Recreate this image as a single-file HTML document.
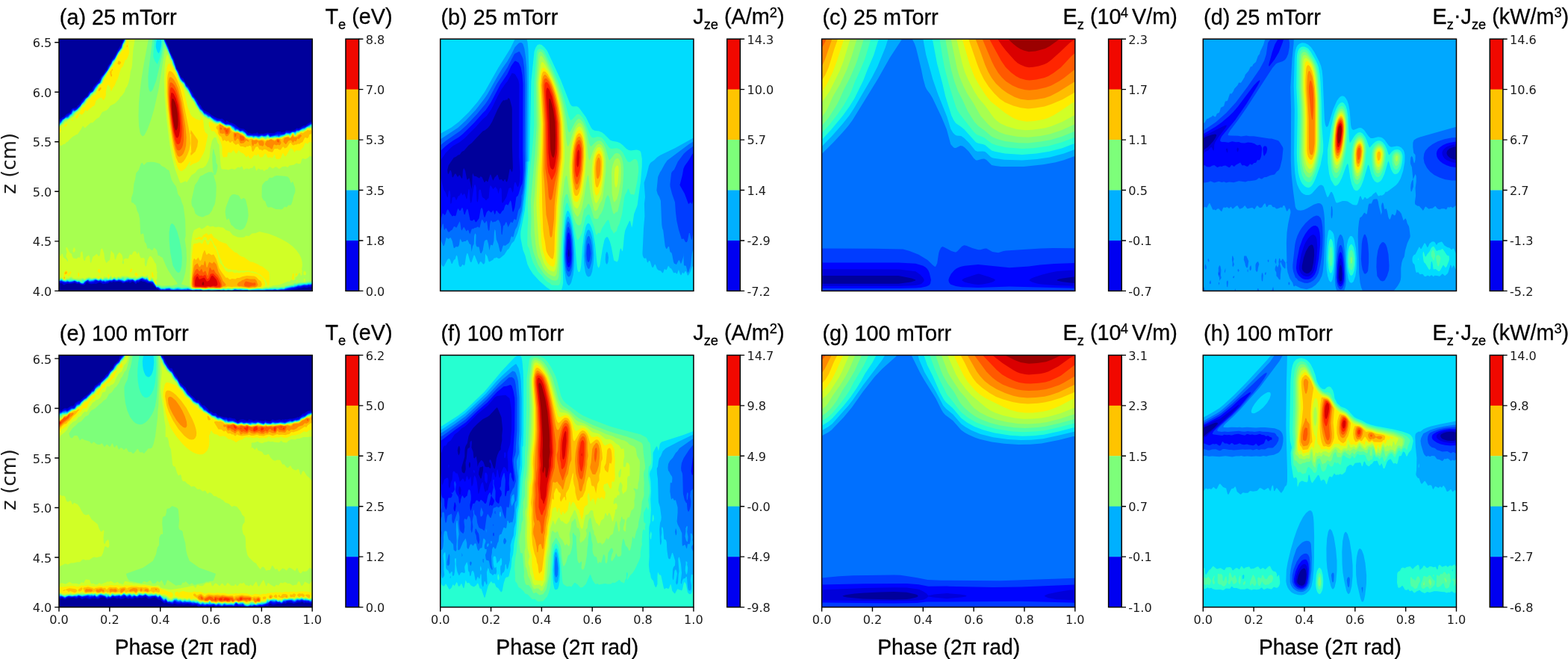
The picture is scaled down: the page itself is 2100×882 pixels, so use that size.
<!DOCTYPE html>
<html lang="en"><head><meta charset="utf-8"><title>Figure: spatio-temporal plots at 25 and 100 mTorr</title>
<style>
html,body{margin:0;padding:0;background:#fff}
body{width:2100px;height:882px;overflow:hidden}
svg{display:block}
.ar{font-family:"Liberation Sans",Arial,Helvetica,sans-serif;fill:#000}
.dv{font-family:"DejaVu Sans","Liberation Sans",sans-serif;fill:#1a1a1a}
</style></head><body>
<svg width="2100" height="882" viewBox="0 0 2100 882">
<rect width="2100" height="882" fill="#fff"/>
<defs><clipPath id="cp"><rect x="0" y="0" width="339.2" height="337.2"/></clipPath></defs>
<g transform="translate(79.0,52.2)">
<g clip-path="url(#cp)" shape-rendering="geometricPrecision"><rect x="-1" y="-1" width="341" height="339" fill="#00009b"/><path fill="#0000da" d="M86.4 -3l7.4-.5 45.9 .1 2.4 .4 0 3 5.1 11 1.4 5.8 5.8 11.1 3.2 11.2 2.8 3.8 2.2 6.4 1 1.7 2.8 1.9 4.2 7.3 3.5 3.6 1.5 3.2 3.8 5.8 1.2 3.3 5.3 6.7 1.2 3 2.8 3 1.9 4 2.7 2.8 6 2.9 4 3.4 4 2.3 4 1.9 3 .6 3-.2 2.7 2.2 1.3 2.3 1-.2 0-1.1 1-.9 4 3 3 .4 4.9 2.7 3.4 2.8 3.6 2.2 4 .4 4 2.9 2 2.3 2 0 2 1 2 .1 2-.5 2 .1 2-1.3 2 2 1 .2 3-.6 2 .2 5.9-1.5 3 .7 6 .2 4-2.4 4 0 2 1.3 2-.6 1 .2 1-.3 2-2.1 3 .4 6-.4 3-1 1.9-1.8 3 .5 6-3.8 3-.4 3-2.5 4-2.2 5-.1 .6 13.8-.1 196.5-.5 9.9-3 0-2 .9-3 .1-2 .9-4-.7-3 1-4 .4-3 1-6.9 1-5.7 1.5 0 3-168.9 0-2 0 0-3-2-2.4-2-.7-2-2.5-2-1.6-1.1-1.8-3.9-1.6-3 .1-4-1.8-3-.3-2-1.2-3 2.6-1.9-.4-.8 1.6-1.2 .5-3-2.6-1-.4-1 .1-2 1.5-1-.1-1-1-1 0-1 .6-2-.2-4 1.5-3-2-3-.3-5 .5-2-.4-2 .9-2-.7-1 .3-2 1.7-6.9 .9-4-2.3-2.4 .5-2.6 1.6-2-.2-5 .5-3-1.1-2-1.7-1.6 .9-1.4 2.5-2 .8-4-.6-2-1.7-2 .6-1-.1-2.9-1.5-2 .8-4 .6-3-.1-3 .5-2 1.3-1-.2-1.9-1.9-1.1-.4-6-.2-.5-9.4 0-195.5 .5-14.6 5-.1 2-1.9 3-1.3 3-3.3 5-2.4 1.1-3.3 1.9-2.1 5.5-.9 1.4-2.7 2.2-1.3 2.8-4.8 4-4.2 4-3 2.3-5 1.7-1.5 2-.7 2-4.8 3-2.7 2-2.7 2.1-1.5 3.5-7 2.4-2 3-5.2 1.9-1.9 1.8-4.9 3.2-3.5 1.2-3.5 5.8-8.1 2.2-4.8 6.8-11.7 1.6-4.3z"/><path fill="#0004ff" d="M87.4 -3l6.4-.5 47.5 .5 .4 4.4 5.4 11.6 1.5 5.5 4.8 9.4 4.2 13 1.6 2 3.4 8.3 5.9 6.7 2.1 4.3 2.8 2.6 6.2 11.8 4.7 6.2 2.3 4.9 2 1.5 1.3 3.6 2.6 2.3 2 2.7 6 2.7 4 3.6 2 .7 6 3.2 5 .3 5 4.8 1 .3 3-.6 2 1.1 3 .2 1.9 1.6 2 .7 2 2 3 1.4 2 2.1 1 .3 2-.7 2 .6 5 5 1 .4 4 .5 6 0 2-.4 1.9 1.1 1.1 .1 3-.9 3 .5 2.9-.6 2-1.3 2 .7 2 1.6 5-.9 4-2.2 3-.1 2 1.1 4-.2 3-2.4 4 .3 8-1.5 1.9-1.9 3 .3 5-3 4.6-1.6 7.4-4.7 4 0 .5 12.7-.1 195.5-.4 9.4-3 0-3 .9-2-.2-2 .8-5-.2-4 1.2-3 0-4.9 1.6-9 1.5-5 1.5-4.9 .5 0 3-5.7 0 0-3-1.4-.3-1.4 .3 0 3-50.5 0 0-3-2-.3-1.1 .3 0 3-43.5 0-.2-3-1.2 0 0 3-4.7 0 0-3-1.1-.3-1 .3 0 3-5 0-.6 0 0-3-1.4-.4-4.8 .4 0 3-.5 0 0-3-1.7-.4-2.5 .4 0 3-15.5 0-.1-3-1.9-.8-3.9-.4-3 .9-3-.6-2 .5-2-1.2-2-2.1-2-.3-5-6.4-4-1.3-3-.3-3-1.5-3-.8-2-1.2-1.8 .5-2.2 1.9-1.9-.4-.9 .5-1.1 2.1-4-3.1-1.2 0-1.8 1.2-2-.8-2 .9-2 .1-2 .9-2 .3-3-1.8-3-.3-4 .5-3-1-2 1-3 0-2 1.1-3.9 1-2-1.2-2 .7-2.7-1.6-2.3 .6-2-.8-1.6 .2-2.4 1.6-4 .4-2-.3-2-1.6-1-.3-2.1 1.2-1.9 2.6-2 .7-3-.7-2-1.8-3 .3-2.9-1.6-3 1.2-4 .6-2-.6-5 .8-3-1.5-7-.1-.5-7.9 0-195.5 .5-13.4 4 .1 1 .6 2-2 3-1.5 3-3.3 6-3.2 2-4.8 1-.5 2.9 .3 2-.9 4.8-5.3 1.7-3 4.1-5 3.8-3 2.8-5 3.8-2.3 2.1-4.7 4.3-4.9 2.6-2.1 3.1-6.9 3.7-4 1.7-3 2.4-2.8 1.5-4.2 3.5-4.7 1.2-3.3 2.8-3.2 5.4-9.7 3.7-5 4.5-11z"/><path fill="#003cff" d="M87.9 -3l5.9-.4 47.1 .4 0 3 .8 2.4 4.5 9.6 2.3 7 4.8 9.9 3.5 11 2.4 4 3.4 8.2 3 3.8 2.3 2 2.7 5.3 2.1 1.6 4.9 9 1 2.6 2.4 2.4 3.1 5 1.5 3.5 2.8 3.5 1.2 2.6 2.8 2.4 2.1 3.1 2 .6 6 3.4 2 2.1 7.2 3.7 4.8 .5 6 4.6 4 0 4 1 3.9 2.2 2 2.2 4 1.6 2 2 4-.4 3 2.3 3 3.5 5 .6 8 .2 3 .6 3-1 3 .7 2.8-.6 2.1-1.5 1 .2 2 2.2 1 .3 5.2-1.2 3.8-1.5 2 1.2 1-.9 5 0 2-.7 2-1.8 5 .2 3-1.2 4-.3 1.9-1.8 3 .1 5-2.9 4-1.4 8-4.9 4 0 .5 11.9-.1 195.5-.4 8.6-3 0-3 .9-2-.3-2 .7-5-.1-4 1.3-3-.1-2.9 1.2-10.6 1.8-5.4 1.7-4 .2-4 .9-4-.9-4 .9-8-.2-1.6 .4 0 3-1.2 0 0-3-2.1-.2-5.8 .2 0 3-13.7 0 0-3-1.5-.4-3.2 .4 0 3-2.2 0 0-3-10.6-1.1-2.4 1.1 0 3-4 0 0-3-1.5-.2-1.4 .2 0 3-9.7 0 0-3-1.9-.4-2.9 .4 0 3-10.3 0 0-3-.8-.1-1.3 .1 0 3-6.7 0 0-3-1.9-.7-4 .5-3-.8-2.7 1 0 3-.3 0-.4 0 0-3-4.6-1.2-3-.2-2 .6-2-.4-5 .6-5-.3-5 .3-3-.2-2.9-1.3-4 .1-2 .8-3-.4-2 .4-4-3.1-2 0-5-7-6-1.3-2.2-1.4-2.8-.5-4-1.8-4 2.3-2.6 0-1.3 1.9-1-.2-3-2.3-3 .8-3-.5-1 .7-5 1.4-1-.1-3-1.6-3-.3-2 .7-2-.1-2-1.1-3 1.2-3-.1-5.9 2-2-1.4-2 .8-2-1.5-3 .6-2-1-2 0-3 1.7-4 .4-2-.7-1-1.1-1-.1-2.8 1.9-2.2 2.7-1 .1-3-.8-2-1.7-3 .3-2.9-1.8-3 1.2-4 .6-2-.7-3 .8-6-1.7-6 .5-.4-7.5 0-195.5 .4-12.5 3 0 2 1.4 3-3.5 2-.9 3-2.7 2-.6 2-2 2-1 2-4.7 1-.6 2 .6 2.9-1.4 5-5.2 1.6-2.8 4.8-6 3.6-3 3-4.9 3-1.7 1-1.1 2.1-4.3 3.9-4.7 3-2.4 2.1-5.8 7.8-10 2.2-5 2.9-4 1.7-4 3.2-3.6 4.4-8.3 4.6-6.4 1.3-4.6 2.7-5.5z"/><path fill="#0070ff" d="M88.2 -3l5.6-.4 46.8 .4 0 3 1 3 4.6 10 1.5 4.7 5.2 11.2 3 8 .7 3.4 2.2 3.6 3.8 9 3 3.7 2 1.4 3 5.8 2 1.7 6 11.8 2.5 2.5 3 5 1.3 3 3.8 6 2.6 2 2.7 3.9 2 .5 4 2.8 2 .5 2 2.1 3 1.9 5 2.2 4 .3 2 1.9 5 2.7 3-.3 4 1.2 2 1.6 1.9 .8 2 2.7 3 .3 3 2.4 4-.2 3 2.3 3 3.5 7 .4 1 .4 3-.2 4 .8 4-1.2 3 .8 1.4-.2 1.5-.4 2-1.4 1 .2 2 2.4 1 .2 2-.8 7-1.2 2 1.3 2-1.3 5.4-1 2.6-2.1 5 .4 3-1.6 4-.1 1.9-1.7 3-.1 4-2.4 4-1.2 9-5.4 4-.1 .4 11.3-.1 195.5-.3 8-3 0-3 .8-2-.2-2 .7-4-.2-5 1.4-3-.2-2.9 1.3-9.2 1.4-6.8 2.2-4 .1-4 .9-4-.8-4 .7-7-.3-2.9 .7-8-.2-11 .4-1.6 .3 0 3-.6 0 0-3-1.8-.8-6 .3-11-1.1-3.7 1.6 0 3-1 0 0-3-1.2-.4-3-.3-1.7 .7 0 3-2.1 0 0-3-2.2-.6-3 .4-3-.8-8.9 1 0 3-1.1 0-.2-3-3.8-.6-7 .6-2.9-1.2-4 .4-3-.6-3 .9-8-1.7-2 .7-2-.3-5 .5-5-.6-5 .7-3-.3-2.9-1.4-4 .3-2 .7-3-.3-2 .3-4-2.9-2 .1-5-7.2-5-.8-3-2.5-3 .1-3-1.8-2 .5-3 1.8-2.9 .3-1 1.3-1 0-3-2.1-3 .6-3-.4-5 2.2-7-1.9-3 .7-2-.2-2-1.2-3 1.3-3-.1-4 .9-1.9 .9-2-1.2-2 .6-2-1.5-3 1-4-1.5-3 1.6-5 .7-2-1.8-1 .1-3 2-2 2.5-1 .2-3-.8-2-1.8-2 .5-3.9-1.9-3 1.2-4 .5-2-.8-3 .8-3-.6-3-1.2-2 .6-4 .1-.4-7 0-195.5 .4-9.8 5-.2 3-4 2-.9 2-1.9 3-.8 1.8-2.3 2.2-1.4 1-1.2 1.4-3.4 .6-.4 2 .6 2.9-1.7 5-5.1 1.4-2.4 5.5-7 3.1-2.5 3-4.8 3-1.7 1-1.1 2.7-4.9 3.2-3.9 3.1-2.4 2.7-6.6 7.2-9.5 2.7-5.5 2.7-4 1.1-3 3.5-3.7 4.2-8.2 4.8-6.6 1.6-5.4 2.4-4.6z"/><path fill="#00a8ff" d="M88.5 -3l5.3-.3 46.5 .3 0 3 1 3 4.5 10 4.8 12.3 1.5 2.6 4.5 13 1.9 3 4.1 9.6 2.7 3.4 2.6 2 1.7 4.1 3 3.3 5.9 11.5 2.2 2 8 14 2.8 2.2 3 4.2 2 .6 3.9 3 2.1 .2 5 4.1 4 2 4 0 1 .4 2 1.8 2 .8 2.1 1.6 3.9 .2 3.3 .8 2.7 2.2 1.7 .8 1.2 2.2 1 .6 2-.4 1 .4 3 2.2 3-.4 1 .4 3 2.2 2 2.9 1 .6 2 .4 4-.1 2 .8 3-.6 4 1.1 4-1.5 3 .8 1.9-.2 1-.2 2-1.5 1 .3 2 2.4 7-1.5 3 0 2 1.1 3-1.7 5-1.1 2-1.8 5 .5 3-1.8 4 .2 1.9-1.8 3-.2 5-2.8 2.5-.5 9.5-5.6 4 0 .4 10.6-.4 203-3 0-3 .8-2-.2-2 .7-4-.2-5 1.3-3-.2-2 1-3.9 1.1-2-.2-9 2.1-2 1-4 0-5 .9-3-.7-4 .6-7-.2-2.9 .6-17 .1-4 .6-2-.9-13-.1-4-.7-3.9 1.7-5-.7-3 .8-3-.8-3 .4-3-.6-10 .9-4-.7-7 .7-3.9-1.2-3 .3-3-.4-3 .6-2-.1-6-1.6-2 .6-7 .3-5-.8-5 1-3-.4-2-1.3-.9-.1-4 .3-2 .8-3-.3-2 .3-4-2.8-2 .1-5-7.2-1-.6-4-.1-1.4-1-1.6-2-2 .6-4-1.9-1 .1-4 2.1-2.9 .4-1 1-1 .2-3-2-4 .4-2-.4-5 2.4-5-1.7-3-.4-2 1-1-.1-3-1.5-3 1.5-3-.1-2 .6-2-.1-1.9 1-2-1.2-2 .7-2-1.6-3 1.2-4-1.5-3 1.3-5 .8-2-1.7-3.7 1.9-2.3 2.7-1 .2-2-.2-3-2.2-2 .4-3.9-1.8-4 1.3-3 .3-3-.9-2 .8-3-.6-3-1.3-2 .9-4 .1-.3-6.7 0-195.5 .3-7.3 3 0 3-2.9 2-3.2 2-1.1 2-1.9 3.2-.5 2.4-3 2.4-1.7 1-2.8 1-1.1 2 .3 2.9-1.8 5-5 1.8-2.9 3.2-3.4 2-3.3 3-2.4 3.2-4.9 3.8-2.6 2.5-4.4 3.9-4.9 2.8-2 2.8-6.7 7.9-11 4.7-8.3 1.2-3 3.1-3.1 4.6-8.8 4.4-6 1.5-5 2.6-5 .6-2z"/><path fill="#00dcfe" d="M88.7 -3l51.4 0 0 3 .9 3 9.6 22.9 1.6 3 4.2 12 1.8 3 4.4 10.2 3 3.6 2 1.3 2 4.7 4 4.9 4.5 9.2 2.1 2 8.4 14.4 2.9 2.3 3 4.3 3 1.2 2 2 3 .5 5 4.2 4 2 4-.2 3 2.3 5 2.5 3-.1 3 .7 4.7 3.8 1.2 2 1 .5 2-.5 1 .3 3 2 3-.2 4 2.6 2.6 3.3 2.4 .5 4-.1 2 1.1 3-.9 4 1.3 4-1.7 3 .8 2.9-.2 2-1.5 1 .3 2 2.3 7-1.5 2 .4 1-.3 2 .8 3-1.4 5-1.3 2-1.8 5 .6 3-2 1-.2 3 .8 1.9-1.9 3-.4 5-2.8 3-.6 3-2.3 3-.9 3-2.1 4 .1 .3 9.9-.3 202.5-3 0-3 .8-2-.3-2 .8-4-.2-5 1.2-3-.3-2 1.2-1.9 .2-2 .9-2-.2-9 2-2 1.2-4-.2-5 1-3-.7-3 .5-8-.1-2.9 .6-17 .2-4 .6-2-.9-6 .2-3-.6-4 .3-4-.6-3.9 1.5-5-.6-3 .8-3-.9-2 .5-4-.5-10 .7-4-.6-7 .7-3.9-1.2-3 .3-3-.4-5 .6-6-1.8-2 .5-7 .3-5-.9-5 1.1-3-.4-2.9-1.3-4 .3-2 .7-5 0-4-2.6-2 .2-4-6.3-2-1.7-4 .1-3-3.2-2 .7-4-1.9-5 2.1-2.9 .5-2 1.1-3-1.8-4 .2-2-.4-1 .1-4 2.3-4-1.4-4-.7-2 1.1-1 0-3-1.6-3 1.6-7 .1-1.9 .8-2-.8-2 .6-2-1.5-3 1.2-4-1.6-3 1.2-5 .8-2-1.5-4.3 2.3-1.7 2.2-1 .3-2-.2-3-2.2-2 .4-3.9-1.7-4 1.1-3 .4-3-1.1-2 1-3-.5-3-1.5-2 1.1-4 .1 0-208.3 3 0 3-3.2 2-3.4 4-2.9 2.1-.1 1.9-.9 2-2.7 2-1.3 2-3.7 2-.1 3.4-2.2 4.5-4.7 2-3.2 3-2.9 2-3.5 4.1-3.7 2.6-4 3.3-2.2 6.8-9.7 2.9-2 2.3-6 7.9-11.3 5-8.7 1-2.6 3-3 4.3-8.3 5.1-7 1.3-5 2.3-4 .9-3z"/><path fill="#26ffd1" d="M89 -3l42 0 0 3-1.2 7-.1 3.9 1.9 6.1 2.1 2.4 2-4.5 1-5.3 .4-6.6-.2-6 3 0 .3 5 8.7 19.9 1.3 4 1.7 3 1.4 5 1.3 2.1 1.6 4.9 1.7 3 4.7 10.8 2.6 3.2 2.4 1.6 1.7 4.3 4.3 5.5 4.2 8.5 1.9 2 3.2 5 1.3 3 4.4 6.9 2.9 2.4 3 4.2 3 1.2 2 2.2 3 .3 5 4.3 3 1.6 2 .5 3-.5 3 2.2 5 2.6 3-.1 3 .6 2 2.3 1.9 1.2 2 2.6 1 .5 2-.7 4 2.2 3 0 2 1.7 2 .9 2 3 3 .8 4-.2 2 1.3 2-1 1-.1 2 1.1 2 .3 4-1.8 3 .8 2.9 0 2-1.6 1 .4 2 2 4-.5 3-.9 5 .8 8-2.6 2-1.7 5 .7 1-.3 1.4-1.7 1.6-.6 1.9 .6 1.1 1.3 1.9-2.6 3-.6 4-2.3 4-1 3-2.4 3-.7 2-1.6 1-.3 4 .3 0 210.9-9 .6-2 .8-2-.4-6 1-3-.1-2 1.2-2.9 .3-1 .8-2-.2-9 2-2 1.3-4-.2-5 1-3-.6-3 .4-3-.4-3 .6-2-.2-5.9 .7-5-.4-13 1-2-.7-6 0-3-.5-4 .4-4-.6-3.9 1.4-5-.6-3 .7-3-.9-3 .6-3-.4-10 .6-4-.6-7 .7-3.9-1.1-11 .4-6-1.9-8 .8-5-1.1-6 1.3-3-.5-2.9-1.2-7 1-4 0-3-2.2-3 0-4-6.4-2-1.9-4 .5-3-3.6-2 .8-4-1.8-9.9 3.7-3-1.8-4 .2-2-.6-2 .5-3 2.1-3-1.3-5-.9-1.8 1.2-1.2 .1-2-1.5-1-.2-3 1.7-3-.4-2 .6-2.9-.4-1 .4-2-.3-2 .7-2-1.5-3 1.3-4-1.7-4 1.3-3 .3-1 0-1-1-1-.1-5.3 2.7-1.7 2.1-2-.1-3-2.3-2 .5-3.9-1.7-7 1.2-3-1-2 1.1-3-.4-2-1.5-1-.2-2.4 1.3-3.6 .2 0-207.5 3 0 3-3.2 2.7-4 3.3-2.4 2-.1 2-.8 2-2.7 2.7-1.9 1.3-2.5 2-.8 3.8-2.7 4.1-4.3 2-3.2 3-2.7 2.2-3.8 4.3-4 2.5-3.8 3-1.9 3.6-5.3 1.4-1.2 2-3.5 3.2-2.2 1.8-5 1.7-3 7-10 4.2-7.3 1-2.7 3-3.1 5-9.5 4.7-6.3 1.2-5 2.1-3.4 1.2-3.6z"/><path fill="#50ffa7" d="M89.3 -3l39 0-2 23 .1 3.9 2.2 6 3.1 4 3-7.5 2-7.1 1.3-7.3 .9-10 .1-1 .7-.4 .2 2.4 1.8 2.8 1.4 4.2 5.5 12 1.2 3.9 1.9 3 1.2 5 1.7 2.8 1.4 4.2 6.6 14.4 2.1 2.6 2.9 2.2 1.3 3.7 4.7 6.1 4 8.2 2 2.1 3 4.6 1.1 3 4.9 7.5 2.9 2.5 3 4.1 3 1.2 2 2.1 3 .3 5 4.2 3 1.7 2 .4 3-.5 3 2.1 5 2.6 3-.1 3 .6 2 2.7 1.9 1.2 2 2.4 1 .4 2-.6 1 .2 3 1.9 3 .1 2 1.8 2 .9 2 2.9 3 .7 4-.2 2 1.4 3-1.2 4 1.5 1 0 3-1.9 5.9 1 2-1.6 2 1.8 1 .4 3-.6 1 .2 3-1 5 .8 8-2.6 2-1.6 3 0 2 .8 1-.2 1.8-2.4 1.2-.3 1.2 .3 1.8 2.3 1-.8 .9-2.2 3-.7 3-2 5-1.4 3-2.5 3-.4 2-1.5 1-.1 1 .6 3 0 0 209.1-9 .5-2 .9-2-.4-9 .8-2 1.2-2.9 .1-1 1.1-2-.1-9 1.8-2 1.5-3-.4-6 1.1-3-.6-3 .4-3-.3-3 .7-2-.3-6.9 .8-4-.4-13 1.1-2-.8-9-.5-4 .4-4-.6-3.9 1.4-5-.7-3 .7-3-.8-3 .6-11-.2-2 .3-4-.5-7 .8-3.9-1.1-11 .4-6-2.2-8 .7-5-1.1-6 1.4-3-.5-2.9-1.1-7 .9-4-.1-3-2.1-1-.3-2 .5-4-6.4-2-2.2-3 1.1-1-.1-2-3.2-1-.7-2 .8-4-1.7-9.9 3.7-3-1.7-4 .1-3-.8-1 .4-2 2-1 .2-2-2-4 .6-2-.9-2 1.5-1 .1-2-1.7-1-.1-3 1.8-3-.5-2 .7-2.9-.7-3 .3-2 .7-2-1.4-3 1.4-4-1.7-5 1.2-2 0-2-1-3 .9-3 1.8-2-.8-.5 1.4 .4 1-.9 .4-1 0-3-2.1-2 .3-2-1-1.9-.4-7 .9-3-.9-2 1.1-3-.3-2-1.6-1-.3-3 1.7-3 0 0-206.6 3 0 3-3 3.5-4.7 2.5-1.9 3-.3 1.4-.8 2.2-2.9 2.4-1.3 1.8-2.7 5.1-3.6 4.1-4.4 1.9-3 3-2.5 2.6-4.5 4.3-4 2.1-3.2 3-2.1 5.4-6.7 1.6-3.2 3.6-2.7 3.4-7.8 6.3-9.2 4.8-8 1.4-3 2.4-2.5 5-9.6 5-6.8 1-4.7 2.2-3.3 1.3-4z"/><path fill="#7dff7a" d="M89.5 -3l35.8 0 0 3-5 39.9-.9 11 .3 12.9 .8 4 1.2 2.4 1 .4 1-.4 2-2.7 4.4-11.6 7.6-32 3-17.2 1 .7 6.9 15.5 .7 3 2.3 3.8 1 4.5 2 3.4 .7 2.3 2.6 5 1.3 4 3.3 7 5 5 .9 2.9 5.2 7 4 8 2 2.1 2.5 3.9 1.7 4 4.8 7.2 2.9 2.8 3 3.8 3 1.2 2 2 3 .2 5 4.4 4 1.8 2 .1 2-.7 3 2.1 6 2.9 2-.3 2.7 .4 2.3 3.1 1.9 1.3 2 2.1 1 .4 3-.4 3 1.8 3 .3 4 2.9 1 1.9 1 .7 3 .8 4-.3 2 1.4 3-1.2 2 1.1 3 .6 3-2 1-.1 3.9 1.5 1 0 2-1.9 2 1.7 1 .2 2-.5 2 .3 3-1 1 .4 2-.3 2 .5 8-2.5 2-1.4 3-.2 2 1.1 1-.2 2-2.9 1-.3 1.7 1.1 1.3 1.9 1-.4 .9-2.6 3-.9 2.9-2 6.1-1.7 2.2-2.3 2.8-.2 2-1.2 2 .7 3 0 0 207.3-9 .5-2 .8-10 .4-3 1.2-1.9-.3-1 .2-2 1.6-2-.2-8 1.8-2 1.6-3-.5-6 1-4-.6-2 .5-4-.1-2 .7-3-.3-4.9 .9-5-.4-13 1.1-2-.7-9-.6-4 .4-4-.5-3.9 1.2-5-.6-3 .6-3-.7-4 .7-12 0-4-.4-7 .8-3.9-1-11 .2-4-2.1-2-.5-8 .5-5-1.1-3 .3-3 1.1-3-.4-2.9-1-5 .2-2 .6-4-.1-3-2-1-.2-2 .7-6-8.8-2.6 1.4-1.4 0-2-3.5-1-.6-2 .6-4-1.4-9.9 3.4-2-1.3-5-.1-3-1-2 .9-1 1.3-1 0-1-2-1-.4-3 1.5-1 0-2-1-1 .5-1 1.2-1 .1-2-1.8-1 0-1.9 1.6-1.1 .3-2-1-2 1-1 .1-2-1-.9 0-2 .1-2 1.2-1 .1-1-1.2-1-.2-3 1.4-4-1.7-5 1.2-4-1.2-3 1-2 1.5-1 .1-2-1.2-1.9 1.5-.1 1.3-3-1.6-2 .3-2-.9-5.9-.5-1-.4-1 0-1.1 .8-2.9-.4-2 1.3-3-.3-2-1.8-1-.2-3 1.8-3 0 0-205.8 3 0 3.3-3.1 3.7-4.7 2-1.4 3-.6 2-1 2-2.7 2-.7 .8-.8 2-3 4.3-3 4.4-5 1.4-2.5 3.1-2.5 2.9-4.9 3.7-3.1 2.3-3.4 2-1.3 3.9-4.3 1-2 2-2 1.3-2.9 3.9-3 2.9-7.1 11-16.9 1.9-3.9 2-2.1 5-9.6 5.4-7.3 .6-4 2.5-4 1-3zM151.6 247.1l-1 .3-.8 1-.9 2-1.3 8 0 11 1.4 15.9 3.5 18 4.1 7.1 2 2 2 .3 1-.7 1.1-1.7 1.6-7 .5-11-.7-9-2.8-14.9-3.1-11-3.6-7.8-2-2.1z"/><path fill="#a7ff50" d="M89.8 -3l30.1 0 0 3-5.8 30.9-3.7 23-2.1 16.9-1.3 15-.5 17 .6 13.9 1.6 8.9 1 2.5 2 2 1-.1 2-1.7 4-7.7 4.3-11.9 4.4-14.9 5.9-26 8.4-53.6 1-1.7 5 9.8 1.3 4.6 1.6 1.9 1 2 .9 4.1 5.1 10 4.3 11 1.7 2.2 3 2.5 1.1 3.2 2.9 4.4 2 2.1 5 9.3 4 5.2 1.5 4 2.5 3.1 3 5.1 5.9 6.4 1 .7 1 .1 3 2.3 3 .3 5 4.3 4 1.6 2 0 2-.7 9 5.1 4-.4 1.3 1 1.7 2.9 3.9 2.9 1 .5 3-.5 3 1.8 3 .5 3.8 2.9 1.2 2.1 1 .5 3 .8 4-.4 2 1.5 3-1.2 5 1.8 3-2.1 1-.2 3.9 2.1 1-.1 2-1.7 2 1.1 3-.5 2 .5 2-.8 2 .3 2-.5 2 .3 5-1.1 5-2.3 3-.4 1 .3 1 1.1 1-.3 1.6-2.8 1.4-.8 1.3 .8 1.7 2.4 1.1-.4 .8-2.1 .9-.9 2.1-.4 3-2.2 2 .1 4-1.6 3-2.7 2 .2 2-.8 2 .6 3 0 0 205-11 .6-1 1-1 .3-6-.3-5 1.4-2.9-.3-2 1.2-4 1.2-6 1.2-1 .4-1 1.4-1-.7-5 .7-7-.3-3 .7-3 .1-2 .8-3-.3-4.9 1-5-.4-13 1.2-2-.7-9-.6-4 .4-4-.5-3.9 1.1-5-.6-3 .6-3-.7-4 .9-16-.4-7 .7-3.9-.9-11 .1-5-3.3-9-2.4-.5-1.3 2.8-6 2.3-8.9 1.2-9 .6-9-.5-13-2-12.9 1.2-5-.6-21-2.5-18.9-2-4.6-2-6.9-3.4-4.5-1.4-7-1.2-3.4-2.8-3.6-3.2-5.5-2.9-11.4-1-1.3-2-.8-3-2.8-4-1.7-3-3.1-7-2-5-.4-5 .5-4 3.7-2-2.9-1 0-1.2 1.8-2.8 7.9-3.5 4.1-1.1 8-1.7 5.9-1.1 12-2.3 7-.1 5 .9 1.8 1-.3 1 .6 1 1.5 2 1.4 2 7.9 1.9 3.5 1.5 7.5 1 19 .5 1.2 3-1.4 .7 1.2 1.2 10 2.1 2.4 2 7 2-1 2 2 2 1 1-.6 .8-1.9 1.2-.9 3 2.8 .6 1.1 1.4 6.5 2 .3 2 1.7 2 .7 4.4 10.8 3 6 5.1 7.9 7 9 .6 1-.5 1-7.7 2.2-2.9-.5-10 .3-5-1.6-1 .2-1 1.1-2-2.4-3-5.6-1-1.1-1 .1-.8 1.3-1.2 .8-1-.2-2-4-1-.5-3 .6-3-1.2-6.9 2.6-1.7-.1-1.3-.7-4 .5-3-.4-3-1.1-3 .9-3-1.1-4 1.7-2-1.2-3 1.9-2-1.7-1 0-2 1.7-1 0-1-1.9-1 0-2 2.3-1-.2-2-1.2-2.9 0-2 1.8-1-.1-1-1.2-1-.2-3 1.6-4-1.8-5 1.1-4-1.4-3 1.1-2 1.7-1-.1-2-1.4-4 1.4-8.9-.9-3-1.8-3 1.7-3 .4-1 .9-3-.1-2-2-1-.3-3 2.1-3 0 0-204.8 3 0 5.4-4.7 1.8-3 5.8-2.4 3-2.9 3-1.4 2-3.4 1.8-1.8 3.1-2 5-6.9 3.1-2.1 3.7-6 3.7-3 1.5-2.4 2-1.6 2-2.5 2-1.3 1-2.2 2-2.2 1.7-3.7 4-3 2.3-6.2 8.9-14.3 2.8-3.5 1.2-3 2-2.2 5-9.8 5.8-7.9 1.1-5 1.6-2 1-3zM206.5 146.9l-1 7.4-.2 7.3 .6 12 1 6-.4 .8-.9-1.8-1.1-.6-4 0-5 2.3-3 2.1-2.9 1-1 1.1-3 6-3.6 5-4.5 20-.2 3 .6 4 .7 1.9 2 2.5 2 6.9 4 2.9 4.9 1.5 2-.2 3-1.8 3-.6 2-1.2 3.4-4.9 1.6-4.3 2-3.6 .7-3.1 1.1-8 .4-13-.6-5-2.9-9.9 .3-1.3 1 .9 1-.4 1-1.7 1.7-6.5 .2-4-.1-1-1.8-3-.4-8-1.8-5-.8-4.5zM232.5 208.1l-2 1.1-2 2.7-5 13.3-.9 6.3 .8 5.9 1.1 4.2 1 .5 1-1.5 1-.3 3 8.6 2 1.1 3.9 4 6 1.9 4-1.3 2-2 1.4-2.2 2.6-6.8 1.3-7.2-.9-9.9-2.4-10.3-1-2.2-2-1.2-1 .2-2 1.6-1-.6-2-3.8-1-.9-5-1.6zM289.3 183.2l-4 2.7-3-.4-1 .7-2 3.3-3 .9-3.6 4.1-.8 2-.2 2-.1 13 2.1 4 2.6 1.7 1.7 5.3 1.3 2.3 1 .5 4-.3 6 2.9 8 .1 1-.5 3-3.3 2 1.1 1-.6 2-2.4 2 .3 1-.4 1-1.2 1.2-3.5 1.8-7.8 1.8-4.2 .3-3-.2-3-2.9-8.5-1 .3-1 1.2-1-.5-1.8-5.4-2.2-2.2-3.8-.8-10.2-.8z"/><path fill="#d1ff26" d="M90.6 -3l10.9 0 0 4-2.3 15-1.2 18.9-.6 4-1.6 4.4-.8 7.6-1.9 8-2 4.9-1.7 2-1.6 5-3.5 5-2.4 2-1.6 3-5.5 5.6-6 3-3 4.2-2 1.6-5.9 2.5-4 7.1-3.5 1.9-4.5 4.7-1 .7-2 0-1 .5-7 6.4-1-.5-1-1.5-1-.5-.3 .2-1.7 3.6-5 7.3-2 .4-4.9 3.1-4 3.6-2 2.6-2 .7-2 2.5-2 .2-3 2.4-3-1.7-3 0 0-23.3 3 0 6.3-4.4 1.7-2.8 2-.1 1.9-2.1 7.7-4.9 3.3-5 3.3-2 5.7-8 2.4-1 4.3-7 3.1-2 1.2-2.2 2-1.5 2-2.8 2-.7 5-9.3 4.3-3.4 1.7-5.1 5.9-10.1 3-4.6 3.1-3.2 1.2-3 2.2-3 3.5-7.6 6.8-9.3 1.2-5.1 1.7-1.9 2.1-6zM144.2 21.9l.5-.9 1 .5 2.3 5.4 2.6 3.1 1.3 4.9 5.7 11 4.1 11 4.1 4 1 2.9 8.8 13 1.9 4 4.1 5.4 1.2 3.6 3.8 5 1.3 3 7.6 7.6 4 2 3 .6 4 3.4 4 1.9 3 0 2-.8 9 5.1 4-.5 1 .6 2 3.7 3.9 2.5 1 .4 3-.3 3 1.7 3 .8 3.1 2.2 1.9 2.7 4 1.3 3-.7 1 .2 2 1.5 3-1.1 5 1.7 4-2 2 .7 1.9 1.6 3-1.6 2 .5 3-.7 2 .7 2-.6 2 .1 2-.7 2 .2 4-.5 3-1.5 6-1.6 2 1.7 1-.4 2-3.6 1-.3 1 .5 1 2 1 .7 1.6-.8 1.3-2.4 2.6-.6 2.2-2 2.2 .3 4-1.7 3-2.9 9 .2 0 38.2-4-.2-2-1.4-2 2.2-3 1.9-2 .4-2-.8-1 .2-1 .9-1.2 4.6-.8 1.2-3 .3-2-1-3.9 2.5-2 0-2 .6-1-.3-3 2.8-3-1.4-2 .6-2 0-4 2.8-1-.1-3-2.3-1-.3-1 .2-2 1.8-1 .3-1-.3-2-1.8-1-.2-1.1 .6-1.9 2.9-2 .3-1.9 1.6-1 .3-2-2.3-2 .8-3-2-1 .5-2 2.8-2-5.9-1-1-1 .8-1 2.2-3 .2-2 1.6-2-1-2.6 .2-2.4 1.7-2-4.4-1-.7-2 1.8-3-.4-4 3.1-3.9-1.1-5 1.8-2-.9-6-.2-1-.7-1-4.8-2-27.2-2-2.5-2-7-2-.5-1.5 1.1-2.2 4-2.1 10-1.2 11.8-1.8 5.1-3 6-4.2 3.1-2.9 0-4 2.2-3 4.1-5 3-6 9.2-1 .3-1-1.4-6 2.8-1-.4-1-1.6-6.3-17.3-3.8-15-3.1-16.9-4.3-34-2.7-30.9-.7-21.9 1-19.8 1-7.2zM197.3 250.4l1.2-.8 1-.1 3 1.7 4-.6 3 1.5 4-.9 3 .9 3 .2 1 .4 3 3.1 5 1.5 4.1 5.1 6.8 2.9 7 .3 2-.6 2-1.8 4 .5 4-3.3 5-.5 5-2.2 12.9 3.2 9 3.4 7 3.2 8.6 4.9 6.7 4.9 5 5 4.4 6 2.4 5 1.2 5 .3 5-.8 5 .7 2-.6 3 .4 2-1.4 1.5-.6-.6-.3-1.9-1.1-1.4-2 2.5 0 .8-2 2-.9 .9-1.4 .1 1 2-2.6 1.9-1 .1-1-1-1 0-3 2.9-1-.7-5 1.6-7 3-8 .9-7 2.5-1-.6-1 0-3.9 .6-2 1-5-.3-13 1.3-2-.6-16-.8-2 0-2.9 .9-5-.6-3 .5-3-.4-4 1-16-.5-2 .5-5 .3-3.9-.9-11 0-1-.6-1.6-2-.8-2-.3-3 1.5-40.9 .9-13.9 1.6-10 1.7-5 1-1 6-3.2 1 0 2 2 .9 0 4-2.1zM9.4 279.3l.6-.7 1 .5 3 6 1 1.3 2 1.2 .8 3.7 1.4 2 3.7 .8 1-.2 2-1.8 2 .5 .8-2.3 .1-4 2.1-2.5 .6 1.5 1.2 9 1.2 2.6 1-.4 1.1-4.2 .9-1.1 3-1.9 1.4 3 .5 6 1.1 1.4 2.5-8.4 1.5-.7 3-2.5 1-.3 2 2.8 1 .2 1-2.2 1-6.5 1-1.5 1-.2 1 1.9 1.5 5 .8 7 1.7 4.6 .9 .8 1.9-2.4 1.8-1 .6-1 1.7-12.8 1.6 2.8 1.4 1.1 1.1 1.9 .9 6.2 1 .7 2-5.9 3-3.9 3.1 2.9 1 2 .8 5-1.1 4 1.2 2.1 1.1-1.1-.1-3.2-.6-.8 .3-1 2.3-1.8 4 .5 2-5.8 2 .5 1-.5 1.4-2.9 1.6-1.2 2 .1 2 3.9 1.9-3.1 1.5 5.3 1.5 3.1 3-.7 1.4 .6 .9 2-.3 5 1 4 1-.2 .4-.8 1.5-7 2.1-4.6 1-1.2 1 .1 1 .6 2.2 3.1 2.8 5.8 1 .3 .5 1.9 .9 9 1 1-.8 1 .1 6.9-1.1 2 0 1 1.1 2-.4 3-.3 .5-1-.4-1-1.2-2.3-5.9-1.7-1.6-1-.3-1.4 2.9-1.6 .2-2-6.5-2 1.4-2 .4-3-.8-3 .6-2.9 1.1-1 .9-1-.2-1-1.2-1-.3-4 1.6-1-.8-3-.3-2-.9-8-.4-2 1.5-2-.8-1 .2-2 1.5-2-1.4-1 .1-2 1.5-2-2.9-1 .6-2 3.2-1-.5-1-1.3-3.9-.6-1 .4-1 2.3-1-.2-1-1.4-1-.1-2 1.7-1 .2-4-2-5 .9-4-1.5-1.1 .8-1.9 .2-2 1.6-3-1.3-4 .9-4-.5-2 .7-2.5-.6-2.4-1.9-1-.1-4 2-2-.1-1 1.5-1 .4-2-.3-2-2.4-1-.2-1 .1-2 1.8-3 0 0-34.4 3 0 1.2 1.7 .8 2.8 1.7-3.8 1.3 .4 .5 3.6 .5 1 3.9 3 1.1 2.3 1-.1 0-1.6-2.5-4.6 0-2 1.1-4-1.3-4zM19.8 279.3l1.3 0 .8 3-.5 2-1.4 1.5-1-.6-.6-1.9zM329.1 310.3l1.7 2 .2 2-.2 1-1.6 .9-1.6-.9-.2-2 .3-2zM327.8 321.2l.4-.6 1 .5 .6 1.1 0 2-.6 .7-1.3-.7zM317.9 323.2l1.3-.5 .5 .5-.2 1-1.3 .2z"/><path fill="#feed00" d="M93.8 -3l.3 4-1.3 .4-.2-.4 1.2-1zM91 3l.8-.9 1 .5 .6 1.4 0 8 .8 5-.4 3-3 7.3-2 .4-3 8.6-3 3.6-4 13.3-2 3.4-2 5.1-3 4.5-1.7 3.6-.3 .3-.5-1.3-.8-4-2.1-2.9-.6-.4-.9 .4-2 7.9-.1 6-1.9 4.7-1 1.2-1-.4-1.6-2.5-1.4-.6-3.1 1.6-3.3 3-1.4 5-1.2 1.7-2 .8-1.4 1.5-2.6 1.6-3 3.1-2-1.2-1 .3-1.6 3.2-2.4 2.5-2-.5-1-1.2-3 6.2-2 .7-1-.5 .9-3.2 1.4-1 .6-2 3.1-1.7 2-4.3 2-2.5 2-.1 1-1 5-9.1 2-.9 1.5-2.4 2.5-2.2 3-1.1 1-1.2 1-3.9 3-5.8 4.3-3.7 2.7-6.2 2.4-2.8 2.5-6.1 3-4.6 3.9-3.3 1.1-3 2.6-4 1.4-4.7 1-1.7 1-1.6 2.3-1.9 2.7-4.4 1.6-1.6 3.7-8zM147.6 32.9l2 .6 4 6.4 3 5.6 1.4 4.4 1.6 3 1.1 4 3.9 5.2 2.5 5.7 5.5 24 4 9.8 2 2.4 2 1 3 2.4 5 1.5 1-.4 .5-1.8 .1-1-1.5-2.9 .9 0 2.9 4.9 .8 2 .8 9 1.4 5.3 1 1.5 2 1.5 .9 1.7-4.1 19.9-2 5-5.7 10-4 2.1-4 1.4-4 3-.6-2.5 1.1-1-.5-3-6 9.5-5 3.7-1 .1-2-.8-2-2.4-2-4.6-2.3-7.5-4.2-19.9-4.1-29-3-29.9-.9-25.9 .3-10 1-8 1.3-4.5 1-1.2zM17.8 107.7l1.2 0-1 1.8-.9-.8zM201.3 110.7l2.2 .2 4 2.6 3 .7 2 0 3-1.3 9 5.3 4-.7 1 .8 1.5 3.4 1.5 1.3 3.9 1.7 3-.3 3 1.8 3 .9 3 2.2 2 2.8 2 .2 2 1 3-.8 .9 .2 2.1 1.5 1 0 2-.8 5 1.5 3-1.4 1 0 2 .4 1.9 1.6 3-1.6 2 .2 3-.9 2 .8 3 .1 3-1.4 6 0 3-1.7 6-1.4 2 1.7 1.1-.6 1.9-3.5 1-.6 1 .9 1 2 1 .5 1-.2 1.9-2.5 3-1 2-2 2 .6 1-.3 1-1 3-1.3 2-2.2 2 .4 2-.4 5 .4 0 19.1-3 0-2-2-2 .4-2 2.1-1 .3-2-1.7-1 1.2-1.8 4.8-2.2 1.9-2 2.8-5-.3-1.1 .5-1.8 2.2-1.7-3.2-2.3-2.4-1 0-1.2 1.4-4.8 8.8-1 .6-1-.1-2-4.2-1 .6-2 5.4-1 1.3-3 .8-2.3-.2-.7-1-1-4.3-1-.4-2 3.8-1 .4-2-.9-1 0-2 .9-1-.7-2-4.3-1-.8-.9 .7-2 3.4-1 .7-3.2 .5-2.8-5-.8 1-.2 1.5-1 .3-2-1.4-1.1 .6-3.9 4.8-1-.1-1.8-1.7-1.2-2.9-2 2.3-1-.5-3-3.9-4-1.8-2-2.3-1-.4-2 3.6-1 .6-1-.4-2-3.5-1-.5-2.9 3.7-2-.8-2 .1-.7 1.7-.3 3.1-1 1.5-2-.6-2 1.2-1-1.6-1-3.1 0-9.4-2-7.1-4-8.1-4.4-5.8-.6-.6-2 .4-1-.4-1.3-1.4-2.4-6-.2-4zM9 113.7l1-.5 1 0 .3 .5-.3 1.1-2 2.3-2 .8 .5-1.2-.6-1zM-3 119.7l5-.6 .9 2.6-.9 3.3-2 .5-3 0zM196.9 260.4l.6-.5 .8 .5 1.2 1.9 1 .3 2-1.6 1-.4 1 .3 3 4.9 4 2 3 2.8 7 2.6 2 .3 1 .7 3 4.2 7.9 7.2 3 .6 3 3.2 3 1.7 3 .6 9 6.6 3 .2 7 3.1 3 1.9 3 1.1 6.9 5.5 2.1 2.2 .5 5.9-.1 8-.4 2-1.1 2-1.4-1-.1-3-1.1-1 0-1-1.1-1 .1-1-7.3-7.2-1 .1-1-1-1 .1-1-1.1-1 0-1-1.1-2 .1-1-1.1-4 .1-1-1.1-16 0-1-1-7.9 .1-1-1.1-3 0-2-2-1 0-2.8-2.7 .1-1-2.2-2 .1-2-1-1 .1-1-1-1 0-1-1-1 0-1-1.1-1 .1-2-1.1-1 .1-2-1.1-1 .1-2-1.1-1 0-1-1.1-1 .2-2-3.1-3 .1-1-1.1-.9 .1-1-1.1-1 .1-1-1.1-1 .1-1-2.3-2.3-.2 1.3-2.8 2.6-1.7-1.6 .1-2-1.4-1.4-2 0-1.4 1.4 .1 1-1.7 1.4-1.9 0-1-1-3-.1-1 1-1 0-1-1.2-1.3-.1 1.3-.8 2 0 3-2.1 3 1 .9-.5 2-2.9zM194.2 269.4l.3-.6 1-.3 .8 .9 1.8 4.9 .4 .8 1 .4 1-.7 2-5.1 1-.3 2.3 4 1.7 4.8 3 4.1 2.3 7 1.7 8.5 1 2.3 3 2.6 5 7.9 4 1.8 4-1.2 3.9 2 3-.6 3 .6 3-.9 3 .4 3-.9 4 0 11 2.6 6 4 3 3.3 1.7 5.5-.3 2-.6 1-3.8 2.4-4-.1-5 .9-3-.1-5 .6-11-1.3-7-.2-4.9 .9-5-.9-3 .7-3-.3-5 1.3-15-.6-2.6 .7-4.4 .1-3.9-.8-7 .1-4.2-.4-1.4-2-.5-4 1.1-18.7 .6-16.2-.3-1 1.7-15.5 1-1.7 5-.8 2-.9 1 0 2.9 1.8 1-.9zM52.8 308.3l1.1-.5 1.5 1.5 .1 3-.6 1-2-1-1.4-2zM95.6 308.3l1.2-1 1 .1 .5 .9-1 3-1.5 1.2-1.3-1.2zM8.4 310.3l.6-.6 1-.1 1 .8 .7 .9-.1 3 .4 .6 3-3.9 1 .3 .5 1-1.9 3.9-1.6 1.4-1.4-.4 0-1.9-.6-.4-3 1.3 .6 4-.4 1-1.2 .3-1.3-1.3-.1-1 .9-3 0-2.9 .8-2zM113.5 312.3l.4 0 .4 1-.6 1.3-.4-1.3zM124.1 312.3l.6-.5 1 1.1 1.1 4.3-.1 1.4-1 .5-1-.9-.3-1zM25.3 313.3l.6-1 1.6 2-.6 3.5-1 .2-.4-.8zM102.1 313.3l.7-.7 1 .2 1.9 2.5-.1 .9-1.8 1-1-.5-1.4-1.4-.1-1zM313.1 314.3l.2-.8 1 .7 .4 1.1-.4 2.9 .4 3-1.4 1.1-1.3-2.1zM317 314.3l1.2-.8 .7 .8 .3 1-1 1.3-1.2-.4-.4-.9zM65.5 315.3l.3-.6 1 .3 .7 1.2-.7 3.5-1.1-1.5zM53.9 317.2l.8 1-.8 1.5-2.2-.5-.5-1zM120.6 319.2l1.1-.4 .4 2.4-.4 .8-1-.4zM127.5 323.2l.2-.9 2.1 1.9 .8 2-.2 1-.7 .4-1-1.1z"/><path fill="#ffbd00" d="M90.7 9l.1-.6 1-.1 0 2.3-1 .2zM79.4 29.9l.4-.8 3.2 1.8-.4 2-1.8 1.6-1.5-.6-1-1zM70.6 40.9l1.2-.9 .3 .9-.3 1.3-1 0-.3 .7-.2 4 .5 .4 .4 1.6-.4 1-1 .8-1.1-2.8-.4-3 .5-1.8 1.5-1.2zM146.9 43.9l.8-.9 1.9 .1 2 1.2 2 2.1 4 7 4.1 10.4 3.4 13 10.3 50.9 .6 12-1.6 8.9-2.2 6-3.1 6-2.5 3.5-3 2.1-3-.3-1-.8-3-7.1-3.6-15.3-3.9-24-2.9-25.9-1.4-22 .3-17.9 .6-5zM55.5 64.8l.4-.3 .4 .3 .3 2-2.7 2.9-1-.5-.2-1.4 1.2-2.1zM214.8 113.7l1.1 0 3.6 2 2 1.8 1 0 2 1.4 3-.9 1 .1 1 1.2 1 2.8 2 2.1 1.9 .1 2 .9 2-.3 2 .5 7 3.8 3 3.6 2 .2 2 1.2 4-.8 2 1.3 1 .2 3-.7 4 1.2 3-.9 3 .9 1 1 .9 .2 2-1.5 3-.4 2-1 1-.1 2 1 3 .5 3-2 4 .3 2 1 3-2.8 5-1.1 1-.1 2 1.6 1.8-1.3 1.2-2.7 1-.7 2 3 2 .1 2.9-2.7 2-.6 2-1.8 2 .8 1-.4 2-1.7 2-.7 2-1.8 2 1 2.3-.8 .9 1 .2 2-.7 2-.7 .6-2 .5-.6 2.9-1.4 1.9-1 .2-2-1.1-1 .3-3 6-2 .7-2 1.6-1 .3-1-.6-2 1.3-1.9 0-2 1.1-2-.8-2-2.8-1 .1-4 6.2-3 1.2-2-2.2-1 .6-2 3.2-1 .6-1-.1-3-1.9-1 .5-2-.2-1 .6-2 3.6-1 .6-5-1.4-2-1.6-2.9-1-1 .1-2 1.9-2-1.5-2-.1-2-3.8-1-.5-2 1-3 5.7-1 .4-1-1.4-.7-4.7-1.3-1.8-1-.1-3 1.3-1-.8-.9 1.4-1.1 .3-3-1.3-3 0-1-.6-2-3-1 .1-2 1.3-1 0-3-2.8-.9-1.8-1 0-1 1.5-1 .4-1-.4-2-2.7-2 1.5-3-2.1-2 1.6-2-5.3-1-1.2-1-.4-1.6-2.1-.9-2-.5-4.3-1-.7-1.1-2 .5-2 1.6-.7zM176.6 121.7l9 13 .6 2-1 7-2.6 6.8-6 5.5-.4-3.4 1.1-1-.6-11.9 .4-12-1.3-1zM194.4 283.3l.1-.4 1 .5 2 5.3 1-.2 1-1.3 1-.5 4 2.5 2-.8 1 .3 3 5.7 4 12.3 3 4.9 6 8 2-.2 3 2.4 1 0 2-1.1 4.9 .6 2-1.4 3 0 4-1.8 6-1.4 10 .7 3 1.3 3 3.3 3 2.4 1.4 3.8-1 3-1.4 .6-2-.1-5 1.2-3-.2-5 .7-17-1.9-4 .1-1.9 .5-2-.6-4-.3-2.6 1-2.4 0-5 1.5-15-.6-3 .8-4 0-3.9-.7-7 .2-4-.9-1.1-2.3-.2-3 2.3-30.2 1-3 1-.1 1 1.3 1 .4 3-3.4 2 4.3 1 .2 1.3-2.4 1.6-6.5zM8.7 311.3l1.6 0 .6 1-.2 1-.7 1.1-2 .3-.5-1.4zM6.8 318.2l.2-.4 .9 1.4 .1 1-1 .6-.5-.6z"/><path fill="#ff8900" d="M147.8 51.9l.8-.9 2 .3 3 2.7 3 5 3 7.4 4.7 18.4 4.8 29.9 1.6 17-.6 11-1.5 5.9-2 4.6-2 2.7-3 1.6-2-.4-1-1.2-3-8.2-3.3-16-3-20-2.2-19.9-1-18 .2-13.9 .4-4zM215.1 114.7l.4-.3 1 .4 3 1.6 2 1.8 1 0 2 1.4 3-.8 1 .3 1.3 5.6-3.3 4.6-2 1-1-.4-2-3.5-1-.2-1 .7-4-.9-1.2-6.3zM233.9 125.7l.5-.4 5 .3 7 3.6 1.8 1.5 2.2 3.1 2 .7 1.7 1.2 .3 1.2-1 .6-2-1.6-1 .2-3 3.3-4 .5-1-1-2-5-1-.7-1 .3-2 2.9-1-.1-1-1.6-.8-6zM321.2 128.7l2-.8 1 .3 .8 1.5-3.8 4.4-2-1-1.5 3.6-.4 .3-2-.6-2 2.7-2-3.1-1-.7-3 1-3 4.3-1 .1-2.6-3-.2-1 .8-3 1-1.4 4-1 1 .2 2 1.6 1-.5 3-3.7 .6 1.8 1.4 .9 3.9-.3zM292.2 133.7l1.8 0 2 1 1.6 4-.8 2-1.5 1.6-2-.9-2 .9-3-1.3-1 1.2-1 3.7-1 1.4-1-.1-3-2.3-2-.4-3.1-2.8-.2-2 2.3-3.6 1-.4 1 .3 2.1-1.3 1.9-.4 4 2.2 1 .1zM258.3 134.7l3.1 1.1 3-.7 1.6 .6 .4 .8 5-.8 2.2 1 .7 1 .4 3-1.3 2.5-1 .4-2-1-1 .3-1-.5-2-5.1-2 2.8-1 .4-2-.1-1 2.3-1 .9-1.2-2.9-.4-4zM195 297.3l.5-.6 1 2.6 1 5.9 1 .5 2-6 1-1.5 3 2 1 .1 2-2.3 2 2.2 1 1.2 1 2.7 2 7.1 4.3 8 1.7 4.4 4 4.6-.4 2-2.6 .6-5 2.5-5 0-4-.6-4 .4-2-.4-4 .8-6.9-.7-7 .2-3-.8-1-1-.5-3 .4-9 2.1-12.9 .9-3 1.1-1.3 3-1.9 2 4.7 1 .6 2-2.9 .9-.6 1 .8 1 .1zM249.2 321.2l2.2-.6 4 .6 7 .2 2.1 1.8 2.1 6-2 2-2.2 1-3-.2-5 .7-11-1.8-2 .2-1.9-.9-1-1 .7-2 1.8-2 2.4-.9 2-1.6 2-.5z"/><path fill="#ff5900" d="M148.6 58.9l1-.9 1 .2 2 1.3 2.5 3.4 2.5 5.4 2.2 6.5 2.2 9 3.2 19 1.8 18.9-.1 14-.9 6-1.4 3.8-2 2.9-2 1-2-.7-1-1.5-2-5.7-3-14-2.4-15.8-2-17.9-1-16 .2-12zM216.1 118.7l.4-1 1.5 2 0 1-.5 .5-1 .2-.4-.7zM220.5 119.7l2-.7 2 1.4 2-.3 1 .5 0 3.1-1 2.9-2 .6-1-.6-2-5-.9-.9zM235.1 127.7l.3-.9 1 .1 1.3 .8-1.3 3.9-1-.9zM242 129.7l.4-.6 1 .1 3.9 1.5 1.1 2.4 0 1.9-1 .8-4 .5-1.2-2.6zM292.5 134.7l1.5 0 .7 1 .3 2-.7 .8-1.9-.8-.5-1zM201.6 306.3l.9-.4 2 3.4 1 0 1-.7 1 .2 2 4 3.5 3.4 3.9 7 1.3 6-.4 2-1 1-1.3 .5-15-.4-4 .8-6.9-.7-7 .1-2.6-1.3-.9-3 .2-8 1.1-4.9 2.2-5.7 2-1.8 1 .1 2 2.7 1 .1 2-3.1 .9 .9 1.3 3.8 .7 .3 2-2.4 1 .7 2 5.4 1 .4zM249.2 325.2l1.2-.8 9 2.2 3-.5 1 1 .2 2.1-1.2 1.2-4-.1-4 1.2-5-.5-1-.8-.6-2z"/><path fill="#ff2500" d="M150.5 64.8l1.1 .3 2 1.9 2 3.3 2 4.9 3.3 12.6 2.3 15 1.2 14.9-.2 12-1.6 8-1 2-2 1.4-2-.8-2-4.9-3-13.9-2.2-15.8-1.6-15.9-.5-13 .5-9 .8-2.6zM224 122.7l.5-.7 .7 .7-.3 1-.4 .3zM184.6 314.3l1-.8 3 3.5 2-.8 1.9 1 3-1.6 1 .8 1.5 3.8 .5 .8 1 .1 1.5-1.9 1.5-4.3 1-.7 3-.3 6 5.8 3.6 7.5 .5 2-.4 2-.7 .4-5 .6-4-.8-4 .7-2-.5-4 .9-13.9-.6-1.1-.7-.8-2-.2-9 1.1-2.9z"/><path fill="#da0000" d="M151.5 71.8l2.1 1.6 3 6.1 2.6 9.3 1.7 11 1.1 12.9-.1 10-1.3 6.9-1 1.9-1 .7-1 .1-1-.9-2-5.9-2-10.1-1.9-14.6-1.1-12-.1-10 .5-5 .6-1.9zM185.3 317.2l.9 1 1.4 3.2 1 .1 4.9-1.9 1 0 1 .8 2 3.7 1 .4 2-.9 1.2-1.4 1.8-4.2 1-1.1 1-.3 1.2 .6 4.3 5 1.2 4 .1 3-1.8 1.7-4-.7-3.5 1-3.5-.4-3 .7-12.9-.5-1-.5-.5-1.3 .1-6 1.3-4z"/><path fill="#9b0000" d="M151.6 79.8l1 .1 1 .9 2 3.9 2 7.1 1.1 7 .8 9.9-.2 7-.7 4.2-1 2-1 .4-1-.8-1-2.9-3-17.9-.9-13.9 .2-4zM192.4 325.2l1.1-.4 .5 1.4 .3 2-.8 1.3-1.4-.3-.8-1z"/></g>
<rect x="0" y="0" width="339.2" height="337.2" fill="none" stroke="#000" stroke-width="1.5"/>
<rect x="384.0" y="0.00" width="17.6" height="67.74" fill="#f10800"/>
<rect x="384.0" y="67.44" width="17.6" height="67.74" fill="#ffc400"/>
<rect x="384.0" y="134.88" width="17.6" height="67.74" fill="#7dff7a"/>
<rect x="384.0" y="202.32" width="17.6" height="67.74" fill="#00b0ff"/>
<rect x="384.0" y="269.76" width="17.6" height="67.74" fill="#0000f1"/>
<rect x="384.0" y="0" width="17.6" height="337.2" fill="none" stroke="#000" stroke-width="1.5"/>
<path d="M0 337.20h-5.8M0 270.66h-5.8M0 204.12h-5.8M0 137.58h-5.8M0 71.04h-5.8M0 4.50h-5.8M401.6 0.00h5.8M401.6 67.44h5.8M401.6 134.88h5.8M401.6 202.32h5.8M401.6 269.76h5.8M401.6 337.20h5.8" stroke="#000" stroke-width="1.4" fill="none"/>
<text x="410.7" y="6.30" class="dv" font-size="16.1">8.8</text>
<text x="410.7" y="73.74" class="dv" font-size="16.1">7.0</text>
<text x="410.7" y="141.18" class="dv" font-size="16.1">5.3</text>
<text x="410.7" y="208.62" class="dv" font-size="16.1">3.5</text>
<text x="410.7" y="276.06" class="dv" font-size="16.1">1.8</text>
<text x="410.7" y="343.50" class="dv" font-size="16.1">0.0</text>
<text x="-9.7" y="343.80" text-anchor="end" class="dv" font-size="16.1">4.0</text>
<text x="-9.7" y="277.26" text-anchor="end" class="dv" font-size="16.1">4.5</text>
<text x="-9.7" y="210.72" text-anchor="end" class="dv" font-size="16.1">5.0</text>
<text x="-9.7" y="144.18" text-anchor="end" class="dv" font-size="16.1">5.5</text>
<text x="-9.7" y="77.64" text-anchor="end" class="dv" font-size="16.1">6.0</text>
<text x="-9.7" y="11.10" text-anchor="end" class="dv" font-size="16.1">6.5</text>
</g>
<text transform="translate(79.8,32.6) scale(1,1.04)" text-anchor="start" class="ar" font-size="28.8" stroke="#000" stroke-width="0.3">(a) 25 mTorr</text>
<text transform="translate(435.4,31.7) scale(1,1.04)" text-anchor="start" class="ar" font-size="28.8" stroke="#000" stroke-width="0.3">T<tspan dy="6.8" font-size="18.3">e</tspan><tspan dy="-6.8" font-size="18.3">&#8203;</tspan> (eV)</text>
<g transform="translate(589.7,52.2)">
<g clip-path="url(#cp)" shape-rendering="geometricPrecision"><rect x="-1" y="-1" width="341" height="339" fill="#00009b"/><path fill="#0000da" d="M-3.3 -3l345.5-.3 .3 343.5-345.5 .3zM90.8 78.7l-1 2.6-2 0-2 1-1-.4-1 .6-2 2.5-5 9.1-7.5 16.6-3 5-2.5 3-3.9 3.4-3 1.1-15 16-4 3.2-6 6.9-3 1.5-3 4.1-2 .3-2.9 2.4-3 1.1-7 10.4-1.5 6.5 .5 4.4 1 .9 2-5.1 1-.1 1 2.9 1 6.2 1 .6 2-4.2 1-1.1 1 .6 1.9 3.5 1 0 1-1.7 1-.5 3 5.1 .7-1.5 .6-9 .7-2.8 1-.7 1.5 3.5 2.2 11 .3 .6 1-.1 1-1.5 1-.2 3 14.4 .7-6.3 .3-12.4 1-2.5 .9 3 1.1 1.3 2 0 4 2.4 1-.6 1-2 2 1.4 3 6.6 1-.2 1-1.6 1-.1 1 1.4 .9-.3 3-9.5 1 .5 2 5.9 1 1.7 2-4.1 2-1.8 1-1.9 1 .2 2 6.2 1 .5 2-1.1 2 2.8 1 .1 1-2.2 1-.6 1 2.8 1 1.1 1-1.4 1-3.5 2-11.8 1-.9 2 4.3 .9-1.6 .5-4-1-28.9-.1-49.9-.3-2.8-2.7-10.2-.3-.8zM171.6 281.8l-.5 5.5 .5 4.2 1-.5 .3-3.7-.3-4.9z"/><path fill="#0004ff" d="M-3.2 -3l345.4-.2 .2 343.4-345.4 .2 0-154.3 3 0 1 1.3 3.5 14.1 2.5 3.7 2 6.2 1 .4 1-7.2 1-2.6 .2 .5 .8 1.7 .6 4.3-.2 10 .6 2.5 1-1.8 1-6.5 1-1.2 2-.3 1 1.4 1 3.1 .9-.7 1.9-4.5 2.1-1.3 2-3.6 2 3.6 2-2.3 1 .9 2 6.2 1-.6 2-12.5 1 .6 1 15 1 3.5 1-2.3 3-19.4 1-3.3 1 .1 1.1 3.4 .9 18 1 2.2 1-5 .6-9.2 .4-1.9 1-1.3 1 .4 .3 .8 1.7 8.4 1 1.5 2 1 2 2.4 1-.3 1.9-2.3 1-.2 1.1-12.5 .9-4.3 1 .2 3 4.7 3-3.4 2.7 3.8 1.3 5.9 1.6-6.9 1.4-1.7 .9 1.7 .4 2 .3 15 .4 1.8 1 .1 4.7-7.9 3.3-11.4 2-1.4 1 .9 2 6.2 1-2.8 1-7.9 1-3.4 1 0 2 5.3 1 1 1-1.2 1.4-6.3 .7-11.9-1.7-21 .5-96.7-1.1-6-4-7-.8-1-2-.9-2-.2-6 11-3 3.4-5 7.3-5 9-8.4 17.3-6.2 9-5.3 4.5-9.5 10.4-15.5 15.5-6 4.8-8.9 5-4 3.6-6 6.3-7 10-3 0zM171.6 267.6l-1 2.9-.4 2.9-.8 13.9 .6 8 .6 2.7 1 1.7 1-.1 1-1.9 .8-4.4 .3-6-1.1-15-1-4zM338.2 195.3l0 8.3 .4-5.1z"/><path fill="#003cff" d="M-3.2 -3l345.4-.2 0 155.6-3 0-2 2.2-4 7-6 8.5-1.5 3.5-1.6 9-3.4 12.9 6.5 11.5 5 13.6 1-.1 1-1.5 1-.2 2 1.9 2-6.5 3 0 .2 126-345.4 .2 0-97.2 3 0 .5-.8 2.5-9.2 1 .5 1 1.4 1 .6 .4-.3 .8-1 1.5-4.9 1.3-1.5 1 1 2 4.4 3 3.9 2-1.1 2 .9 1-1.2 1.9-7.4 1-1.8 2 3.1 1 .1 2-4.2 1 .6 .4 1.2 1.6 7.2 1 .3 1.8-5.5 1.2-2.2 1 .9 .4 1.3 2.6 12.7 1 .9 2 .1 2-1.7 1 .8 1 2.3 1 .8 4-5.3 2-11.9 1-2.2 1 0 1 2.4 1 6.7 1 3.4 1-.1 2-6 1-1.6 1.9-1.4 3 3 1-.5 2-2.8 2 6 1-1.6 1-3.8 1 0 1.8 2.7 2.2 2 1-.8 1.8-3.1 2.2-1.8 2-5.8 1-1.4 1-.2 2 1.3 3-6.5 1 1.5 .4 1.9 1.6 11.6 1 .1 1.9-5.7 2-14 2.1-1.8 1-2.2 2.6-9 2.3-4.9 .7-5 .5-13-.5-27 .3-88-1-12.7-1.9-10-2.8-6-4.2-2.6-1 .2-1 1-4 5.7-5 10.8-9.4 13.9-12.6 24-6.9 10.2-4 3.9-12 13.6-15 14.7-5 3.9-7.9 4.8-6 4.3-5 3.9-6 5.9-3 0zM171.6 258.9l-1 1.4-1 5.1-1.3 21.9 1 13 1.3 4.3 1 1 1-.2 1-1.1 1-2.7 .9-6.3 .2-7-1.1-20.2-1-5.5-1-2.8z"/><path fill="#0070ff" d="M-3.1 -3l345.3-.1 0 146.1-3 0-9 6.9-4.1 3.7-7.9 10.4-4.9 10.9-2.9 2.7-1 2-1.7 14.9 .2 3 2.4 9.6 4 11.4 .9 13 1.4 11.9 2.6 11.6 4 12.7 1 .1 1-.8 1 .8 2 3.8 1 .5 1-.4 1-1.9 1.8-9.4 .2-.6 1 .1 2 9.2 1-1.4 2-11.5 3 0 .1 84-345.3 .1 0-84.8 3 0 1-.5 2-7.4 1-.2 1 7.9 1 .1 1-2 1-.2 2 4.2 1 1.2 1-.2 2-2 2-1.1 2-4 1-.5 2 1.4 .9 .2 4-8.4 .8 2.4 1.2 8.4 1 1.6 2-4.1 1-.6 3 5.6 2-1.9 1 1 1 3.5 1 1 2-6.2 1-.8 1 .4 2-1.5 2-.3 2-1.2 1 .2 1 1 1-.5 2-8.7 1-1.8 1 1 2 3.7 1 0 2-2.8 .6 1 1.3 9.8 1 2.9 1-1.7 .8-9 1.2-3.5 1 .4 1 1.8 1 .1 1-.6 2 0 2.7-2.2 1.3-.3 1 1.1 1.7 4.2 .8 4 .5 10 1 .7 1.5-11.7 .5-.9 1-.3 2-4.2 1 .3 2 6.5 3-6.1 1-1.1 1 1.1 1 .2 2-4.8 1 0 1 1 1-.1 2.4-11.5 .6-1.8 1.9-2.7 1-2.8 .9-6.7 .2-7 .9-1.6 1.7-10.4 1.6-21.9 .4-12-.4-15 .5-86.7-1-23-1.7-12-1.1-3-3-6-.9-1-1 .1-5 2.6-1 1.3-9 17.5-14 21.5-11 20.4-4.4 6.5-11.5 13.9-14 14.8-8 7.4-19.9 13.6-7 5.7-3 0zM171.6 251.1l-1 .7-.5 1.6-1.4 8-1.4 26.9 .3 8 1 8.5 1 4 1 1.9 1 .7 1-.1 1-.9 2-5.3 .9-7.8 .3-9-.5-14-1-10.9-1.7-8.2zM198.5 273.2l-1 .6-1 3.3-.7 10.2 .7 8 1 2.9 1 .7 1-1.2 1-2.7 1.1-7.7-1.1-9.6-1-3.2z"/><path fill="#00a8ff" d="M-3.1 -3l345.3-.1 0 140.1-3 0-6.2 3.7-29.1 21.9-3.6 5.2-4 7.6-2 2.8-2.8 6.4-1.8 17.9 1.4 5 2.2 3.9 1.9 5.1 1.4 31.9 .7 4.6 1.2 3.4 2.6 20.9 1.2 3.1 1 .6 2-3.3 1 .2 1.3 6.4 .7 1.2 1 .1 1 2.1 2 10.6 1 2.2 3 1.3 2.9-5.7 1.1 .2 1.9 4.7 1-1.9 2.6-8.8 .4-4.4-.4 8.4 .4 8.1 1 1.4 1-.8 1 1.1 2 8.2 1 .3 3-8.9 1.9-16.4 1.1-4.2 1-2.5 3 0 .1 59.6-345.3 .1 0-72.4 3 0 4 9.2 1-.3 1-2.4 2-8.9 3 2.4 2-1.9 1 0 2 4.2 2 9.4 1 .3 2-2.1 1.9 .4 1.5-.9 .9-2 .8-5.9 .8-2.1 1.8 4.1 1.2 .5 2-1.2 2 0 2-2 1 .8 2 4.5 2 1.2 1 9.5 1.5-7.4 1.6-3 .4-9.9 .5-2.6 1-1.7 1 2.3-.4 11 .5 2.9 .9 1.8 1 .3 1-.4 1 .6 1.4 6.7 .6 1.4 1 .1 2-4 2-11.4 1-1.8 2-1.1 1 .6 1.5 5.2 1.4 8.8 1.2-6.8 .8-.9 2 .8 .6-.9 1.3-4.9 .5-11 .6-4.7 1.1 1.7 1.1 12 2.6 5.9 2.2 9.4 1 1.5 1-1.2 2-6.8 1-1.1 2 .7 5-3.8 1-1.5 2-6.4 1-1.2 1 1.5 1-.7 2.5-9.3 2.5-4.3 .9-2.7 5-17.8 4-32.1 1.8-25.9 .1-8 .9-1-.3-15 .8-87.7-.5-23-1-12-1.8-12.9-2-6.3-1.6-1.7-2.4-.3-1.9 1.2-5 5.2-4 8.3-6 10.5-6.4 9-6.6 10.7-13.9 24.6-4 5.9-11.4 14.7-13.6 14.6-10 9.1-23.9 15.9-3 0zM170.6 244.4l-1.6 5-1.3 10-1.2 19.9-.2 12 .8 12 1.3 9 1.2 3.5 1 1.6 1 .8 1 0 2-2.1 2.2-7.8 1-11 .2-12-.8-14.9-1.6-13.5-2.3-9.5-1.7-3.2zM197.5 264.3l-1.1 2.1-1.1 5-1.4 18.9 .5 6 1.1 5.8 1.6 4.2 1.4 1.6 1-.4 1-1.9 2-6.3 .9-6 .3-7-.8-10-1.4-7.5-2-4.8-1-.5z"/><path fill="#00dcfe" d="M-3 -3l103 0 0 3-6.2 12.8-16 25.5-18.4 32.5-9.2 13-11.9 14-13.4 13.1-9.9 7.3-15 8.5-3 0zM115.8 -3l226.4 0 0 135.4-3 0-1 .4-23.9 13.3-19.8 9.5-4.2 2.7-4 3.9-4 2.8-1.4 1.6-1.6 3.1-3.1 12.9-3.3 9.9 1.4 19-1.1 9 .5 16.9-1.4 16-1.5 32.9 .2 3 1 3 1.4 1.6 2-.8 .9 2.1 1 4.2 1-.5 1-2.1 1-.1 1 1.7 2 6.5 1 1.1 1-.6 2-4.2 1 1 2 5.7 2 1.7 3 .6 2 2.8 1 .1 2-5.6 2 1.9 1-1.2 2-4.7 1 .8 1 1.9 2 1.2 1 1.3 2 4.2 1 .3 1-.7 1 .4 1 1.5 1-.4 1.9-5.5 1.9 5.8 1.1 1.9 1-1.2 1-2.8 2 1.8 2-3.5 1 .8 1.9 4.9 1.1 .2 3-5.3 2-5.7 1-1.5 1 2.3 3 0 0 34-345.2 0 0-53.9 3 0 1.1 14 .9 2.6 2 2 1-.8 4.5-8.8 1.5-1.3 1 0 1 1.1 2 5.7 1 .1 2-4.9 2-1.5 1-3.6 .9-1.6 1 2 1.9 11 1.1 2.4 1 .4 1-.6 2-3 2 1.7 1-1.7 1.7-11.2 1.3-3.7 1 .6 3 10.3 1 1.6 1-.8 3-8.7 1-.2 5 12.2 1-.4 1-2.5 1-.9 1 .4 2 2.7 1 .6 1.4-1.2 .6-2 .3-9 .7-2.1 .6 2.1 1.4 1.5 1.9 6.7 1 .8 5-3 1-1.8 1-.4 1 .1 1-.8 1 .2 2 1.2 2-.3 6-5 4-6.2 2-1.4 4-7.6 3-2.7 4.7-11.2 3.6-13 3.4-16.9 3.5-30 2-26.9 .1-8 1.4-1 1-125.7-.7-23.9-1-10-1-4zM170.6 237.6l-1 1.7-1 3.6-1.7 12.5-1.4 21.9-.2 16 .8 15 1.8 12.9 1.7 6.1 2 2.5 1 .1 2-2.6 1-2.2 2.5-9.8 1.2-12 .2-15-1.1-18.9-2.4-18-2.4-10.3-2-3.5zM198.5 255.2l-1 .5-1 1.3-2.2 7.4-1.6 12.9-.7 13 .7 12 1.6 10 1.5 3.9 1.7 1.8 1 .3 2-.8 1-1 1.9-5.2 1.7-11 .6-11-.8-13-1.6-10.9-2.1-7-1.7-2.8zM222.5 285.1l-1.1 3.2-.4 7 .5 4 1 2 1 .1 1.3-3.1 .5-6-.8-5-1-2.2z"/><path fill="#26ffd1" d="M130 8l2.7-1 3 .9 4 3.4 3.6 4.7 18 38.9 12.3 31.4 1.6 2.5 1.4 1.2 2 .3 4-.2 2 1 2 2 8.5 11.7 6.4 13.1 2 2.9 3 1.8 6 .8 4 1.6 3 2.3 8 8 3 1.3 5.9 .9 4 1.5 3.7 2.7 5.3 5.3 3 1.9 3 .5 7-1.1 2 .2 2.6 1.1 1.1 1 .7 2 1.3 8-.1 10-1.7 19.9-4.4 32-4.5 11.7-2 14.7-1 3.7-2-8.9-1-.4-5.1 11.1-.9 2.5-1 5.7-2 20.8-1 .6-1-3-1-.9-1 3-1.9 12.2-1.1 2.3-1 .8-3.9-2.2-3.4-17.9-1.9-6.9-2.7-5.8-1-.6-1 .1-2 2.1-1 2.8-2.4 11.3-3.5 22-1.1 2.5-1 .3-1-2.6-.7-4.2-2.7-25.9-2.5-14-2.1-6.9-2-4.2-2-1.8-1 .2-1.5 1.7-1.5 3.6-2.3 11.4-2 15.9-1.6 23.4-1 6.6-1 2.2-1 .5-1-.6-1-3-.5-3.1-3-34.9-3.3-23-2.2-10-2-5.5-1-1.6-1-.6-1 .9-1.5 4.8-1.2 7-2.2 26-.8 21.9 .6 35.9-1.3 7-.9 2-2.1 2 0 3-4.5 0 0-3-7.1-.9-5.9-3.7-10-8.7-8.7-9.6-4.5-7-2.8-5.7-3-11.8-3-7.5-3.1-15.9-.2-5 .3-4 5.4-27.9 2.5-26 2.5-38.9 1.3-1 2.3-106.7 4.1-39.9 1.6-5z"/><path fill="#50ffa7" d="M131 14l1.7-.9 2 .2 3 1.6 1.9 2.1 8.6 17.9 8.8 20 5 12.9 5 16 4.6 18.8 2 5 1 .9 2-.8 6-6.6 2-.6 2 .5 4 4.1 2.8 4.6 7.1 18.7 2 3 2 .8 6-1.4 4 .5 2 1.1 2.4 2.3 6.6 9.8 2 1.9 2 .5 6.9-.9 4 1.5 3.9 4.1 6.1 11.7 1 1 2 .6 1-.3 5-3.8 2-.1 1 .5 1 1.1 1 2.3 1 7 0 6-1.6 12-3.4 17.3-1 1.9-2-1-2 .2-1-1.3-2-5.6-1-.7-2 5.2-2 3.2-1 3.9-3 21.7-3.5 13-2.1 4-1.4 5-1 1.4-2 1.3-.9 1.8-2-4.2-2-2.6-2.3-9.7-.7-1.8-1-.5-2 1.9-6 9.4-2 5.6-1 1-2-.8-2 3-1-.7-2.6-10.1-4.4-12.1-1.2-2.9-.8-1.2-1-.4-2 1.2-2 3.1-4.9 20.7-3 6.2-2 2.7-1 .3-1-2.5-8-35.9-4-10.5-1-.7-1 1.2-1.3 3.9-1 6-3 35.9-1 21.9-.6 31.9-1.5 7-1.3 2-1.3 .5-8-.5-1-.5-1.9-1.8-3-1.7-4-3.6-4-5.3-5-5.1-6.5-11.9-2.7-8-1.8-8-1-3.2-1.6-2.8-.6-3 .3-19.9 .9-15-.7-16.9 .3-10 2.4-32.7 4.5-43.1 1.5-23-.2-35.9 .3-19.9 3-38.9 .8-3z"/><path fill="#7dff7a" d="M133.2 17l1.5-.1 2 1.2 3 4.4 11.4 24.4 7 16.9 4 12 3.1 12 3 16 2.4 16.5 1 3.5 1 1.1 1-.4 1-1.4 5.2-10.4 2.8-4.1 2-1.5 1-.2 2 .6 3.6 4.2 2.8 6 2.1 7 3.4 15.1 1.2 2.9 .8 .8 1-.1 5-5.2 3-2 3-.2 2 .9 3 3.2 2.4 4.6 5 16.9 .6 .7 1-1 5.9-7.5 2-.9 3 .1 2.2 1.6 2.3 4 1.6 6 .9 7 .1 8-.6 10.9-.7 8-2 13-4.8 19.8-2 .2-2 2.4-.9 .6-1-1.5-1.1-3.5-3.9-16.7-1-2.6-1-1.1-1 .6-2 3.9-2.2 9.9-1.8 5.5-2 4.4-2 2.2-2 4.4-1 .9-2-.1-2-.6-1-1.2-4-13.6-2-4-1-.8-1 .4-2 4-3 3.2-3.9 18.8-1 1.6-1 .7-2 0-2-1.4-1-1.7-3-7.5-8-30.3-1-.9-2 1.4-2 6.1-1 7.4-5.8 94.8-1.2 4.2-2 1.7-2 .5-4-.7-5.9-3.8-5-4.9-8-12.2-6.3-17.7-1.7-8.7-1.6-13.2 .7-22-.6-25.9 5.6-59.9 2.2-37.9-.8-58.8 2.6-36 .9-3.5z"/><path fill="#a7ff50" d="M133.9 22.9l.8-.5 2 1.1 5 8.3 10.6 22.1 6.9 18.9 3 11 2.3 11 2.2 15.9 1.9 23.8 1 6.5 1 2.7 1-.3 1-2.1 5.2-16.6 3.5-8 3.3-4 1-.4 2 .3 2 1.9 1.9 3.2 2.7 8 2 11 2.3 22.3 1 3.5 1-1.3 3.8-10.6 2.3-4.9 2.9-4 3-1.4 3 1.3 1.7 2.1 1.5 3 2 6.9 1.1 9-.2 16-4.1 33.9-1 3.4-3 4.9-3 7.4-2 1.7-1 .3-1-.7-.8-2-3.8-16-1.7-11-1.7-17.8-1-.2-1 3.1-3.7 24.9-3.2 15.7-2.5 7.2-2.5 4-1 .3-2-2.2-2-3.2-2-5-5.4-26.8-2.3-15.9-.3-1.1-1-.6-1 1.3-1.2 4.4-1.8 14.9-2.2 13-2.7 44.9-.7 22.9-1.7 21-1.7 9.5-1.5 2.4-1.5 .7-3-.9-4.9-2.6-5-5.2-2-3-4-9.7-2.5-4.2-1.4-5-2.1-12.3-1.7-17.6-1.1-32.9 1.3-15 1.9-34.9 1.8-20 1.7-39.9-1.6-55.8 2.7-31.6zM234.9 160.6l1.5-.8 2 .1 2 2.6 1.5 6.1 .3 9-.6 12.9-2.8 16-2.3 8-3.1 3.9-.9-.7-1-2.7-1.6-8.5-.6-26.9 .5-6 1.2-5 2.3-6z"/><path fill="#d1ff26" d="M136.2 30.9l1.5 .4 2 2.3 6 10 5.4 11.3 3.8 9.9 3.5 11 3 12 2.5 15 1.2 10.9 1.5 34.9-.3 16-5.7 45.9-1.2 25.9-1.5 19-1.7 43.9-1.9 9-1.7 2.9-1 .3-4.9-1.7-3-2.3-4.7-7.2-3.3-10-2.5-10-1.1-6-2.8-37.9-.6-13.9 .1-11 1.7-33.9 1.8-22 1.4-40.9-2.1-55.8 1.5-16 1.6-9.1 1-2.7zM184.5 117.7l2.1-.6 2 1.1 2.2 3.5 1.9 6 2.3 15 .5 17.9-1.4 21-3.3 24.9-3.9 14-2.3 5.4-1 .9-2-.6-2-1.8-1.4-2.9-1.4-6-3-21-1.3-23.9 1.4-19 2.4-13.9 3.9-13 2.4-4.8zM212.1 144.7l1.4 0 2 1.6 2.5 5.3 1.6 9 0 10-1.2 17-2.7 18.9-1.9 5-3.3 6.5-1 1.3-1 .3-1-.8-1-2.6-2.6-12.7-1.3-16.9 .2-12 1-12 2.1-9 2.7-6 1.9-2.2zM236 169.6l1.4-.4 1 1.1 .7 5.3-1.4 16.9-1.3 5-1 1.2-1-.9-1-4.2-.4-12 .6-7 .8-3z"/><path fill="#feed00" d="M136.8 38.9l.9-.7 2 .8 4 4.7 4.9 9.3 4.2 9.9 4.1 12.9 3.1 13 2.3 14 1.1 10.9 1 32-.3 14.9-1.2 13-3.2 24.9-2.4 29-2.9 67.8-1.3 7-1.5 2.3-1 .2-3.9-1.7-3.5-3.8-2.5-5.3-4-13-1.3-9.6-.9-20-1.2-14-.7-20.9 .6-15 0-19.9 1.8-40.9 .5-27-2.4-53.8 1.3-14 1.3-5zM185.5 121.7l2.1 .3 1.5 1.7 1.5 3.1 1.3 4.9 1.7 13 .2 14.9-1.2 19-3.2 21.9-2.9 12-1.9 4.2-1 1.1-1 .3-2-.5-1-.8-1-2.2-1-4.3-2.5-22.7-.5-19 1.3-18 2.1-12.9 3.6-11.1 2-3.4zM210.7 149.6l1.8-.8 1 .3 1 .8 1.6 2.7 1.5 6 .5 8-.9 16-1.7 12.4-3 10.5-1 2.1-2 1.9-1-.5-1-1.7-1.4-5.8-1.3-25.9 .5-9 1-7 1.9-6z"/><path fill="#ffbd00" d="M137.6 43.9l1.1-.7 2 .6 3 3.3 4.3 7.8 3.7 8.9 3.5 11 3.2 13 2.4 15 1.1 10.9 .8 31-.3 13.9-3.9 33.9-3 31-.8 20.9-1.3 15-.7 24.9-1.1 8-1 2.2-1-.1-1.9-1.4-3-3.7-2.1-4-.9-3.1-1.5-10.8-1.5-7.4-1.1-9.6-1.1-30.9-.8-45.9 1.2-38.9 .3-26-2.7-50.8 1-12 1-4zM184.5 126.7l1.1-.7 2 .6 1.9 3.1 1.1 3.2 1.6 10.8 .2 12.9-1 18-2.8 19.9-1.7 8-1.3 4-2 3-1 .6-2-.6-.7-1-1.3-4.3-2-17.6-.5-17 1-17 1.4-9.9 3-11 1.1-2.4zM211.4 153.6l1.1-.3 1 .5 2 3.8 .9 6 0 7-.7 11-1.2 7.5-3 8.2-1 1.2-1 0-1-1.2-1-4.5-.9-13.2 0-8 1.3-11 1.6-4.5z"/><path fill="#ff8900" d="M139.5 47.9l1.2 0 1 .7 4 5.2 3.4 7.1 3.5 10 2.8 9.9 2.3 11 2.1 13.9 .7 9 .7 31-.5 13.9-6.8 52.9-1 12-.5 15.9-2.5 22-.3 1.4-.9 1.6-1 .2-1-2.5-1.5-11.7-3.4-16-2.5-44.9-1.3-13.9 .8-63.9-2.9-50.8 1-9 .9-3zM185 130.7l1.6-.2 1 .8 1.2 2.4 1.2 4 1.1 9 0 11.9-1.1 16-2.4 16.4-2 7.6-1.1 1.9-1.9 1.8-1-.4-1-1.6-2-9.3-1.1-12.4 0-12 1-15 1.4-8.9 2.7-8.8 1-1.8zM210.9 159.6l.6-.7 1-.1 1 1.2 1 3.6 .2 5-.3 7-.9 6.4-1 3.1-1 1.7-1 .4-1-1.5-.4-2.1-.6-10 .6-9z"/><path fill="#ff5900" d="M140.1 52.9l1.6-.1 1 .6 3 3.9 2.6 5.6 3.3 9.4 2.6 9.5 2.3 11 2.6 20.9 .6 33-.8 13.9-2.5 19-3 12.9-2.8 16.1-1 4.8-1 1.7-.9 .4-1 0-1.5-4-1.4-17-3.1-20.9-.3-61.9-2.9-48.8 .8-7 .9-2zM184.5 135.7l1.1-.7 1 .4 1 1.2 1.1 3.1 1.1 7.9 0 11-1.2 16-2 12.2-2 6-1 1.4-1 .4-1-1.1-.7-2-1.4-6.9-.7-8 0-10 .7-12 1.1-8.2 2-7.5z"/><path fill="#ff2500" d="M141.2 57.9l1.5-.1 1 .8 2 2.8 4.9 12.9 4.2 17.5 2.8 20.9 .5 29-.5 14.9-3 20.4-2 5.7-3 5.8-1-.4-3.9-9.4-1.4-9.1-.9-20-.4-38.9-2.6-41.9 .2-7.9 .7-2zM184.9 140.7l.7-.3 1 .7 1.4 4.6 .6 5.9-.2 9-.8 10-1 6.2-2 6.3-1 1.7-1 .3-1-2.1-1.2-6.4 0-15 1.5-14 1.7-5.3z"/><path fill="#da0000" d="M142.5 65.8l1.2-.7 2 2.3 3.9 10 4 17.4 2.2 15.9 .7 24-.4 17.9-2.5 15.8-1 3.7-1 1.9-1 .7-2-.8-.9-1.5-1-2.9-1.9-16.9-.8-40.9-2.3-34.9 0-7zM184.4 148.6l1.2-.4 .8 2.4 .2 8-1 9.4-1 3-1 .6-1-3.1-.1-7.9 .9-9z"/><path fill="#9b0000" d="M145.6 79.8l1.1-.1 1 1.8 1.9 6.2 2 8.8 2.1 14.2 .6 18-.2 18-.8 6.9-.7 3.1-1 2-1-.2-1.6-2.9-1.5-8-2.2-58.8z"/></g>
<rect x="0" y="0" width="339.2" height="337.2" fill="none" stroke="#000" stroke-width="1.5"/>
<rect x="384.0" y="0.00" width="17.6" height="67.74" fill="#f10800"/>
<rect x="384.0" y="67.44" width="17.6" height="67.74" fill="#ffc400"/>
<rect x="384.0" y="134.88" width="17.6" height="67.74" fill="#7dff7a"/>
<rect x="384.0" y="202.32" width="17.6" height="67.74" fill="#00b0ff"/>
<rect x="384.0" y="269.76" width="17.6" height="67.74" fill="#0000f1"/>
<rect x="384.0" y="0" width="17.6" height="337.2" fill="none" stroke="#000" stroke-width="1.5"/>
<path d="M401.6 0.00h5.8M401.6 67.44h5.8M401.6 134.88h5.8M401.6 202.32h5.8M401.6 269.76h5.8M401.6 337.20h5.8" stroke="#000" stroke-width="1.4" fill="none"/>
<text x="410.7" y="6.30" class="dv" font-size="16.1">14.3</text>
<text x="410.7" y="73.74" class="dv" font-size="16.1">10.0</text>
<text x="410.7" y="141.18" class="dv" font-size="16.1">5.7</text>
<text x="410.7" y="208.62" class="dv" font-size="16.1">1.4</text>
<text x="410.7" y="276.06" class="dv" font-size="16.1">-2.9</text>
<text x="410.7" y="343.50" class="dv" font-size="16.1">-7.2</text>
</g>
<text transform="translate(590.5,32.6) scale(1,1.04)" text-anchor="start" class="ar" font-size="28.8" stroke="#000" stroke-width="0.3">(b) 25 mTorr</text>
<text transform="translate(928.3,31.7) scale(1,1.04)" text-anchor="start" class="ar" font-size="28.8" stroke="#000" stroke-width="0.3">J<tspan dy="6.8" font-size="18.3">ze</tspan><tspan dy="-6.8" font-size="18.3">&#8203;</tspan> (A/m<tspan dy="-8.6" font-size="18.3">2</tspan><tspan dy="8.6" font-size="18.3">&#8203;</tspan>)</text>
<g transform="translate(1100.6,52.2)">
<g clip-path="url(#cp)" shape-rendering="geometricPrecision"><rect x="-1" y="-1" width="341" height="339" fill="#00009b"/><path fill="#0000da" d="M-3.7 -3l.7-.7 123.7 .5 221.5-.5 .7 .7-.7 321.1-3 0-16.4 2.1-5.1 1-2.6 1 .2 1 5.9 1.5 11.4 1.5 9.6 .7 .1 13.3-345.3 .1 0-12.7 105.8 0 16.6-2.4 6.1-2 .1-1-5.2-2-17.6-3.3-105.8 0z"/><path fill="#0004ff" d="M-3.6 -3l.6-.6 123.7 .5 221.5-.6 .7 .7-.7 311.8-26.9 2.1-9 1.7-10.9 2.7-10.1 3.3-4.4 1.6-2.8 2 .1 1 3.2 2 6.9 2 5.6 1 20.4 1.6 27.9 .7 .1 9.7-345.3 .1 0-9.6 105.8 0 22.9-.9 6-1.4 2.3-1.2 2.7-2.9 .4-2.1-1.4-2.7-3.9-4.2-6.1-4.3-21.9-2.8-106.8-.1zM206.5 315l-15.8 5.2-2.9 2 .1 1 3.3 2 4.3 1.3 8.7 1.7 5.3 .5 5.8-.5 8.2-1.5 5.1-1.5 3.5-2 .1-1-1.1-1-6.6-2.6-14-4.2-1-.1z"/><path fill="#003cff" d="M-3.6 -3l.6-.6 123.7 .5 221.5-.5 .6 .6-.6 302.6-30.9 1.2-19 1.6-15 1.8-25.9 1.8-41.9-4.3-18 1.9-3.9 .6-3.2 1.1-3.8 1.8-3 2.2-4.4 5-2.5 4.9-.9 3 .2 2 .8 2 1.6 2 1.2 .7 6 1.9 8 1.2 21.9 .9 41.9-1.5 90.8 2.3 0 6.5-345.2 0 0-6.4 105.8 0 22.9-.5 7-.6 7-1.3 4-1.9 1.7-2.3 .9-5-2.1-8.9-1.5-3.4-2-2.9-2-1.8-3-1.7-10-3-22.9-1.2-105.8 0z"/><path fill="#0070ff" d="M-3.5 -3l.5-.5 123.7 .5 221.5-.6 .6 .6-.6 283.2-32.9-.3-16 .3-46.9 3.2-3 .4-7 2.2-7.9-1.2-8-4.4-3 .1-5 1.6-3-.1-8-2.3-8-3.2-2.9-.5-3 1.6-6 6.5-2 1.1-1 0-5-1.4-10-5.3-2-.6-2 1.5-2 3.9-1 3.3-2 13.4-2 4.3-1 .4-3-2.1-6.9-6.9-12-7.1-12-4.9-9-2.4-37.9-.8-73.8-.3z"/><path fill="#00a8ff" d="M-3.5 -3l.5-.5 109.8 .5-.1 4.4-15.4 23.5-16.4 29-33.9 54.8-6 8-7.1 8.3-12.8 13.7-15.1 15-3 0zM121.7 -3l220.5-.5 .5 .5-.5 159.8-3 0-2 .5-13 4.8-10.9 2.9-17 3.1-25.9 2.8-30-.2-7.9-.8-5-1-7-7-3-1.6-3 .3-6 1.8-2-.2-3-2.7-6.6-8.9-5.4-5.2-2.9-2.2-3-.4-6 3.1-2-.2-1.5-1-3.5-4-5.4-20-7.1-16.9-11.9-25-3-5-4.5-5.9-2-4.1-3-10.9-2.4-12-7-28.9-2.1-6-2.5-4.7z"/><path fill="#00dcfe" d="M-3.4 -3l.4-.4 91.7 .4 0 3-3.4 11-10.6 25.9-7.7 15-23.1 39.6-7 10.7-9 11.4-14.2 16.1-13.7 14.2-3 0zM135.7 -3l206.5-.5 .5 .5-.5 150.9-4 .2-14 5.2-18.9 4.9-17 2.6-19.9 1.6-24-.8-13.9-2-2-.5-2-1.1-6-5.7-2-1.4-3-.6-7 .2-3-1.3-8-9.8-6.9-6.8-4-2.7-6-.7-2-.9-3-3.1-3-4.9-5-16.6-12-29.9-7-19.9-9-32.9-3.9-21z"/><path fill="#26ffd1" d="M-3.4 -3l.4-.4 79.2 .4 0 3-6.7 21.9-8.6 20-5.4 14-11.6 23.3-7 11.4-8.9 12.2-15.8 18.9-12.2 13.1-3 0zM148.2 -3l194-.4 .4 .4 0 3-.4 139.7-4 .2-16 6.1-17.6 4.6-17.3 2.7-18.9 1.4-23-1.4-12.9-2.5-5-1.6-9-7.4-3-1.1-6-1.1-3-1.3-15.9-17.4-4-3.4-7-4.8-3-4.2-3-6.2-8-25.5-3.7-15.9-7.5-28-6.2-32.9z"/><path fill="#50ffa7" d="M-3.3 -3l.3-.3 68.7 .3 0 3-7.6 25.9-7.5 18-6.1 13-4.9 12.9-2.8 6-7.5 13-8.2 12-10.9 13.9-10.2 11.1-3 0zM157.8 -3l184.4-.4 .4 .4-.4 134.5-4 .3-17 6.5-17.9 4.9-20 2.8-14.9 .8-22-1.8-13-2.9-5.9-2.2-10-7.8-10.2-4.4-4.1-4-18.1-22.9-3.3-5-2.2-4.9-9.1-29-6-23-3-16-3.7-22.9z"/><path fill="#7dff7a" d="M-3.3 -3l.3-.3 59.2 .3 0 3-8.4 27.9-3 8-7.4 17-7.9 14.9-6.1 14-3.7 7-10.7 16.7-9 10.9-3 0zM165.5 -3l176.7-.4 .4 .4-.4 126.5-4 .3-16 6.4-15.9 4.8-13 2.4-17 1.8-12.9-.2-18-2.3-10.6-3-6.3-2.7-2-1.2-8-7.1-9-6.4-5.1-5.6-8.9-13.9-7.3-16-5.8-11-4.8-13.3-4.7-16.6-7.4-39.9z"/><path fill="#a7ff50" d="M-3.3 -3l50.3 0 0 3-7.2 23.9-6.1 17-9.4 20-9.3 15.9-7.1 16-3.6 6-4.3 5.4-3 0zM173 -3l169.2-.3 .3 .3-.3 116.9-4 .3-17 7.8-15.9 5.3-12.4 2.4-16.6 1.8-13.9-.7-16-3-8.3-3.1-9.6-5.3-5.2-4.7-10.6-11.9-9.7-17-8.4-13-5-10.1-5.4-12.8-3.2-11-8-38.9z"/><path fill="#d1ff26" d="M-3.2 -3l41.3 0 0 3-8.8 28.9-4.9 13-13.8 27.9-10.6 15.3-3 0zM180.5 -3l161.7-.3 0 105-3 0-1 .4-16 8.7-14.9 6-9 2.4-16 2.3-9.9 .5-11-1.3-14-3.9-8.4-4.1-5.3-4-4.2-4.3-10.3-14.6-9.4-11-5.1-8-8.5-15.9-4.4-10-3.7-12-7.6-32.9z"/><path fill="#feed00" d="M-3.2 -3l32.9 0 0 3-9.2 28.9-5.6 15-7.9 16.5-4 6.7-3 4-3 0zM188.1 -3l154.1-.2 0 87.1-3 0-4 1.8-17 11.6-7.2 4.5-7.7 3.8-6 1.9-12.3 2.2-10.6 .8-10.3-1.8-4.7-1.6-4.7-2.3-9.3-6.1-18.9-15-6.6-7.9-9.4-14.5-6-10.8-5.9-14.6-10.5-35.9z"/><path fill="#ffbd00" d="M-3.1 -3l24.6 0 0 3-4.5 12.6-7.8 25.3-4.3 10-4.9 7.4-3 0zM196.6 -3l145.6-.2 0 74.7-3 0-1 .4-16 9.2-14.9 6.3-9 2.8-12 2.2-10 .8-9.9-1.2-10-2.8-11-4.5-7-4.7-7.4-7.2-7.5-9-6.5-9.9-4.4-9-4.4-11-11.6-33.9z"/><path fill="#ff8900" d="M-3.1 -3l16.8 0 0 3-8.7 25.6-2.6 6.3-2.4 4.4-3 0zM205.9 -3l136.3-.1 0 60.3-3 0-2 .9-19.9 12.5-11 5.6-8 2.8-12 2.1-10 .8-9.9-1.4-8-2.7-10-5.4-7-5-8-7.6-6.1-7.9-4.5-8-4-9-6.7-18.9-6.2-16z"/><path fill="#ff5900" d="M-3 -3l9.2 0 0 3-3.2 6.9-3 5.1-3 0zM215.1 -3l127.1-.1 0 43.8-3 0-2 1.3-13 10.4-6 4-10.9 5.8-7 2.7-12 2.6-10 1-5.9-.4-9-2.2-8-3.6-8.6-5.4-5.3-5-5.1-6.4-4.9-8-4-8-12.4-29.5z"/><path fill="#ff2500" d="M224.5 -3l117.7 0 0 21.8-3 0-1.5 1.2-3.5 3.1-14 14.9-9.9 7.5-7 4.2-5 2.1-11 2.4-9 1-4.9-.4-8-2.3-5.2-2.6-6.7-5-7.2-7-5.9-8.5-12.9-23.7-3-5.7z"/><path fill="#da0000" d="M235.5 -3l103.7 0 0 3-7 5-14 13.2-10.9 9.8-5 3.7-4 2.1-8 2.4-7 1.4-6 .5-4.9-1-6-2.5-4-2.4-4-3.5-12-13.5-5-6.4-5.9-8.8z"/><path fill="#9b0000" d="M249.4 -3l69.2 0 0 3-13.3 9.5-6 3.3-13 3.5-9 .8-6.9-1.9-5-2.2-4-2.4-5-4-7-6.6z"/></g>
<rect x="0" y="0" width="339.2" height="337.2" fill="none" stroke="#000" stroke-width="1.5"/>
<rect x="384.0" y="0.00" width="17.6" height="67.74" fill="#f10800"/>
<rect x="384.0" y="67.44" width="17.6" height="67.74" fill="#ffc400"/>
<rect x="384.0" y="134.88" width="17.6" height="67.74" fill="#7dff7a"/>
<rect x="384.0" y="202.32" width="17.6" height="67.74" fill="#00b0ff"/>
<rect x="384.0" y="269.76" width="17.6" height="67.74" fill="#0000f1"/>
<rect x="384.0" y="0" width="17.6" height="337.2" fill="none" stroke="#000" stroke-width="1.5"/>
<path d="M401.6 0.00h5.8M401.6 67.44h5.8M401.6 134.88h5.8M401.6 202.32h5.8M401.6 269.76h5.8M401.6 337.20h5.8" stroke="#000" stroke-width="1.4" fill="none"/>
<text x="410.7" y="6.30" class="dv" font-size="16.1">2.3</text>
<text x="410.7" y="73.74" class="dv" font-size="16.1">1.7</text>
<text x="410.7" y="141.18" class="dv" font-size="16.1">1.1</text>
<text x="410.7" y="208.62" class="dv" font-size="16.1">0.5</text>
<text x="410.7" y="276.06" class="dv" font-size="16.1">-0.1</text>
<text x="410.7" y="343.50" class="dv" font-size="16.1">-0.7</text>
</g>
<text transform="translate(1101.4,32.6) scale(1,1.04)" text-anchor="start" class="ar" font-size="28.8" stroke="#000" stroke-width="0.3">(c) 25 mTorr</text>
<text transform="translate(1423.6,31.7) scale(1,1.04)" text-anchor="start" class="ar" font-size="28.8" stroke="#000" stroke-width="0.3">E<tspan dy="6.8" font-size="18.3">z</tspan><tspan dy="-6.8" font-size="18.3">&#8203;</tspan> (10<tspan dx="-0.8" dy="-8.6" font-size="18.3">4</tspan><tspan dy="8.6" dx="-2.9"> V/m)</tspan></text>
<g transform="translate(1611.3,52.2)">
<g clip-path="url(#cp)" shape-rendering="geometricPrecision"><rect x="-1" y="-1" width="341" height="339" fill="#00009b"/><path fill="#0000da" d="M-3.2 -3l345.4-.2 0 147.1-6 .4-6 2.2-3.3 3.1-.8 3 .5 2 1.1 2 3.5 3 5 1.8 6 .5 .2 178.3-345.4 .2 0-190.6 3 0 3-3.1 3.3-2 7.3-8 3.2-5 1.2-3-.7-1-1.3-.3-4 .6-7 2.3-5 2.5-3 0zM144.7 275.2l-3 2-4 6.8-3 8.8-2.2 10.5-.1 4 1.1 3 2.2 2.3 3 1.2 3-.5 3.2-3 1.2-3 1.6-8 1.1-10-.2-8-1.4-5-1.5-1.1zM183.6 302.5l-1.3 5.8-.4 10.9 .7 3.7 1 1.5 1 0 1-1.4 .4-1.8 .2-6.9-.6-8.2-1-3.6z"/><path fill="#0004ff" d="M-3.2 -3l345.4-.2 0 144.1-8 .7-4 1.1-4 1.7-3.1 2.3-1.7 1.9-1 2-.3 2 .5 3 1 2 1.6 2.1 3 2.4 7 2.9 5 .9 4 .1 .2 174.2-345.4 .2 0-185.3 3 0 3-4.2 4-1.9 3-3.7 1-.6 1 1 1 2.9 1 .9 .8-2.8 .1-5 1.1-3.3 4-6.4 10.9-14.3 .7-2-.7-.4-2 .4-28.9 14.5-3 0zM31.9 146.2l-.9 .5-.5 .9 1.4 4.4 1-.7 .2-2.7-.2-1.4zM45.9 145.4l-.9 2.2 .9 3.7 1-.9 .8-2.8-.7-1.9zM145.7 262.3l-2 1.3-3 3.1-3 4.6-2.4 5-3.9 12-2.8 15 0 5 2.1 5 3 3 4 1.6 3-.1 2-.7 2.5-1.8 2.3-3 1.6-4 2.6-14 1.3-15-.7-10.9-.9-3-1.8-2.7-1.9-.8zM183.6 293.6l-1 2.2-1.1 5.5-.9 17.9 1 6 1.1 2 .9 .7 1 .1 1.5-1.8 1-3 .4-8.9-1.4-16-1.5-4.7z"/><path fill="#003cff" d="M-3.1 -3l103.5 0 0 3-4.2 7-3.8 11-4.3 15.9-.3 2.1 1 .3 7-8.9 5.5-9.4 5.1-13 1.4-5 0-3 234.4-.1 0 140.6-5 .1-6 .9-5 1.4-5 2.2-3.9 2.6-2.8 2.9-1.5 3-.5 3 .7 4 1.5 3 2.6 3 3.9 3 5 2.5 5 1.6 5 .8 6 .2 .1 168.5-345.3 .1 0-170.7 3 0 2-.7 3 2.2 4 .3 3-1.8 3-.9 4 3 3.9-1.4 2 .5 2-1 3-.5 5 2.8 1-.5 2-2.8 1 .1 2 1.6 1 .1 2-2 6-3.3 2 3.4 1 .5 2-.4 3.4 1.8 1.6-.1 3-3.4 1.9 1.3 1 0 2-2.4 3-.5 2-3.7 2 .4 1-.6 1.2-2 .9-3 .9-9.9-.3-2-1.7-2.8-1-.4-3 .8-1-.2-3-2-4-1.3-4.9-.5-4 1-5-.2-3-1.4-4 .3-5-1-5 1.5-5-.8-4 .1-1.8-1.1-.3-1 .4-2 1.7-3.3 18-21.8 15-21.5 14.9-24.2 3.1-6 .1-2-3.2 2.2-5 5.3-21.5 28.4-6 7-5.1 5-10.6 8.9-8.6 6.2-16 9.3-3 0zM81.8 143.4l-1.2 1.3-.6 2 .8 7.9 1 2.1 3-4.3 1.1-4.8-.3-1.9-.8-1.9-1-.6zM147.7 250.1l-3 1.6-4 3.8-4 5.5-3.4 6.4-4.3 11.9-3.4 17-1 10 .6 4 1 3 1.8 2.9 2.7 2.9 3 1.9 3 .9 4-.1 3-1.1 3-2.1 2.8-3.3 2.6-6 2.8-15 1.9-19 0-8.9-.6-7-1.2-5-1.6-3-2.8-1.7zM183.6 285.3l-1 1.6-1 3.4-1 6.5-.9 10.5-.3 11.9 .5 5 1.2 4 1.5 2.5 2 .6 2-1.9 1.2-3.2 .8-5 .1-5.9-.8-14-1.2-10-1.1-4.4-1-1.6z"/><path fill="#0070ff" d="M-3.1 -3l93.2 0-.3 3.7-3 4.3-2.4 16-2.6 8.1-6 11.1-15.9 23-16 21.6-12.8 14-14.1 12.6-17 11.3-3 0zM114.8 -3l227.5 0-.1 134.7-9 .4-10 2-8.9 3-7 3.6-5.4 4-4.2 4.9-1.7 4-.8 6 1.1 6.1 3.5 6.9 4.2 5 5.3 4.1 7 3.7 7.9 2.6 9 1.3 9 0 0 151-266.4 0-1.8-.1-.2-4.3-.3 4.3-76.5 0 0-148.1 5 .1 5-.6 2-1.1 1-.1 5 1.9 6-1.8 3.9 1.4 3-.8 3 1.1 4-.9 6 .8 7-2 9 1.1 3-1.1 3 0 6.9-1.1 2-.7 3-2.5 3 1.5 1 .1 3-2.3 3-.3 5-2.3 6-1.3 3-4 2-1.2 1.1-1.4 1.3-3 2.6-11 1.4-13.9-.5-2-4.4-7-1.5-1.6-9-2.8-3 0-21-3.2-5.9 0-4-.8-7 .9-4-.7-10-.1-3-.3-.7-1.4 2.7-5 11.4-15 11.1-15.9 34.4-53.1 5-5.6 2-1.1 6.9-2.1 3-2.2 2-2.7 2.2-5 1.7-9 .2-6-1-5zM151.6 236.4l-3.9 1.3-5 3.5-5.4 5.2-4.9 6-3.2 5-2.9 6-2 6-1.3 5.9-3 27 0 4 .8 5 2.9 8.3 1 .3 3 3.6 8 3.1 4 .2 4-1.2 3.8-2.4 3.1-3 2-3 1.9-3.9 2.5-11 1.8-12 1.1-13 .4-13.9-.4-12-1.2-8-1.5-4-2.6-2.6zM183.6 275.9l-1 1.2-1 2.6-1.6 8.6-1.2 14-.6 16.9 .6 7 1.4 5 2.4 3.5 2 .5 2-1.5 2-4.1 1.1-5.4 .3-6-.9-18.9-1.4-14-1.1-5.6-1-2.6-1-1.2zM215.5 262l-2 5.6-1 6.5-.9 20.2 .7 8 1.2 6.6 2 4.6 1 .8 1 .1 2-1.6 1.3-2.5 1-11 0-12-.9-12-1.4-8.4-2-4.9-1-.6zM239.4 272.3l-3 3.7-2.4 7.3-1.5 10-.4 12 1 11.9 4.3 6 3 1.2 2-.8 1-.9 3-5.3 2.5-8.1 .3-6-1-15-1.9-9-1.5-4-1.4-2-2-1.4zM21.9 311.9l-.9 1.2-.1 1.2 .1 1.2 .9 1z"/><path fill="#00a8ff" d="M-3 -3l86.1 0 0 3-2.4 8-4.3 9-.6 2.7-2.3 3.2-2.8 8-3.6 3-1.3 2.6-2 .5-.6 .9-2.4 5-4.4 5-.8 3-4.3 7-1.4 .9-2-.5-1.6 3.6-4.6 4.9-1.1 3-1.7 2.6-1 1-2-.3-3 9-1 1-2 .2-.4 .5-1.7 6-4 2-1.9 5.9-.8 1.1-2.5 1-1.6 3.8-1 .8-3-2.1-2 2.1-2 .6-2 1.5-2 .2-3 5.5-1 .1-1-.5-3 0zM121.6 -3l220.6 0 0 120.5-3 0-3 .7-45.9 13.2-4 1.4-4 2.4-1.3 3.5 0 6 1 7.9 1.8 2 .5 1.3-.1 5.7-.9 4.2-1-.3-1.6-6.9-1.4-2-1.2 2-.6 6 .4 3 1.7 4 1.6 17-.9 .4-1 1.8-1 3.8-.4 4.9 .4 4.5 1 .1 2.3-6.6-.2-9.9 2.9-6.7 1.1 2.7 .1 6.9-1.2 9 .5 10-1.2 9 .2 2 .5 1.1 3 1.9 2 .1 3.7 3.9 1.3 2.1 1-.7 2-4.2 1-.4 4 3.3 2-.9 3-.1 3-2.6 1-.1 2 2.6 2 1.2 2 .3 1.9-.9 4 0 2 1.3 1-.6 1-2.2 1-.7 1 .6 1-.1 1-.9 1 0 2 1.5 4-2.9 1-.5 3 0 0 117.6-87 0 0-3 5.5-7 2.7-4.6 1.1-3.4 .5-4 0-11.9 1-7 1.4-4.5 2-3.6 1.2-7.9 2.8-9.8 3.8-8.1 .2-2-1.4-11-.6-2-2-3.6-1-4.3-1-2.1-1 .2-2 2.5-3-9.2-2-2.9-4-3-.8 4.4-1.2 3.2-1 .6-3-2.2-1 1.5-1.5 4.9-.5 .9-1-.1-1.3-2.8-1.5-7.9-1.2-3.5-1 .2-1 1-.8-1.7-1.2-6.1-1-1.5-1 1.3-.7 3.3 .8 8-1.1 3.9-3-11.9-1-6-1-2.8-.9-.7-4 .5-1 1-2 4.7-3 0-1 1.8-2 11.9-1 .6-2-1.9-1 .1-3 4.8-2.6 1.9-1.1 5-1 9-.4 11 1.5 48.9 1.4 12.9 1.4 6 2 5 0 3-24.9 0 0-3 2.2-7 .6-7-1.8-37.9-1.7-15.9-1.5-5.2-2-2.6-1 .1-1 .8-2 5-1.2 6.8-.9 10-2 37.9 .5 7 1.1 5 1.2 3 0 3-84.4 0 0-3-1.1-5.8-1.9 5.8 0 3-16.6 0 0-3-1.5-3.6-1 .6-.3 1-.3 5-28.1 0 0-3-1.2-3.3-.6 2.3 0 4-24 0 0-3-.3-.7-1.3 .7 0 3-14.7 0 .3-5-.7-2-1.6-2.7-3 0 0-101.9 3 0 1-2.8 1-1.2 3 1.1 3-5.7 1-.2 4 8.7 2-.1 2 1 2-2.1 2-.3 2.9 3.4 1 .4 2-4.9 1-.6 2 .5 2-.9 3 1.9 2-2.3 1 .6 1 1.8 1 .4 4-3.5 2-.9 3 4.7 4-1.5 3-3.2 3 3.8 1 .3 5.9-1.5 3 2.5 3-4.7 1-.2 3 2.9 3-.6 2-3.7 2-1.9 1 1.5 1 3.6 1-.1 2-2.7 3-.2 1 .7 1.1 1.9 .9 .5 2 .1 2 2 1 .2 3-.9 2-1.2 1 .1 1 .8 1.2-2.6 .7-.8 1 .1 1 1.5 2 5.7 1 .5 2-3.3 1-.7 1.3 3 .2 2.9-3.3 15-1.7 12-.6 14 .5 23.9-.6 2 .6 1 .2 6 1 6 2.7 7.9 3.9 6 1.1 4 .7 1 2-1.2 7 3.5 8 1.5 7-2.3 4.9-3.4 5-5.6 3.3-6.5 1.5-5.9 1.1-11 1.6-36.9-.4-23-.9-8.9-1.2-6.3-1-2.6-1.9-2.1-2.1-.7-2 0-5.3 1.7-8.6 5-5 2.2-4 .8-4-.5-2-1.7-1.2-2.8-3-22-2.2-20.9-.8-19 .3-67.8-.8-30 2.2-38.9 2.1-19.9zM171.6 224.5l-.4 10.9 .4 3.6 1 1.2 .8-4.8 0-5.9-.8-5.9zM3 301l-.8 3.3 .2 3 .6 1.3 1-.5 .6-1.8-.2-2zM7 293.6l-.9 1.7 .9 3 1-.6 .1-1.4zM10 322.9l-1 1.3-.6 2 .6 1.6 1 .1 .7-1.7zM21.9 302.7l-1.4 3.6 .1 4-.5 3 .3 2.9 1.3 3 .2 4.8 .5-1.8 1.5-1.3 .5-1.7-.8-3 .5-6.9-.9-5zM29.9 306.5l-1.4 4.8 .4 2 1.1-3zM32.9 323l-1.3 1.2-.2 2 .4 5 1.1 1.1 .7-7.1zM38.9 290.2l-.3 5.1 .8 4-.2 4 .7 2 1.6-3-.2-2-.9-2 .8-4-1.3-3.8zM41.9 317.2l-1 .1-.9 .9-.2 1 1.1 1 1-1.6zM46.9 307.5l-.8 1.8 .8 2.6 1.4-1.6-.1-1zM55.9 290.2l-1 .2-.4 4.9 1.7 5 .5 3 1.2 2.4 1 .5 1-.8 1.1-8.1-3.1-7.1zM63.8 302.8l-1.4 2.5-.2 2 .3 2 .4 .5 .9 .1 .9-2.6-.3-3zM72.8 298.1l-2 2.2-.6 2 .1 7 1.5 2.8 1.3-1.8 .5-4 1.4-5-1.2-3.3zM78.8 313.1l-.7 4.1 .3 5 .4 1.8 1 .4 .7-8.2-.7-2.9zM83.8 311.8l-1 1.5-.1 1 .1 1 1 .6 .7-2.6zM87.8 295.2l-1 .3-.4 .8 .4 2.2 1-.3 .3-.9zM96.8 294.1l-.8 4.2 1.7 3 .1 1-1.4 4-.1 3 1.7 3 .2 4.9 1.6 1.5 2 3.1 1 .5 .6-1.1 .2-5.9 1-8-1.6-6 .8-3.3 2.9 6.8 3 2.7 .6-1.2 0-7-3.6-5.3-.9 .7-1 2-1 .3-1-3.2-1-.3-.7 4.8 .4 3-1.7 4.4-2-3.4 .3-6-.3-2.1zM114.7 324.8l-.6 2.4 .6 2.1 1-.6 .4-1.5-.1-1zM21 325.4l-.4 1.8 .4 2.1 .9-2.1 0-1zM59.9 307.5l-.8 2.8 .8 2.1 .5-2.1z"/><path fill="#00dcfe" d="M129.5 6l3.2-1 4 .6 4 1.9 3.9 3.5 4.7 7 6.1 11.9 2.4 6 1.6 7 .9 9 2.3 56 1 6.4 1 2.7 1 .9 1-.5 1-1.6 6.7-22 4.8-11 2.5-3.5 2-1.9 2-1 2-.1 2 1.1 1.9 2.3 1.7 3.1 1.6 5 1.6 9 1.4 17.9 .7 3.9 1 2.2 2 .9 7-2.6 2-.2 2 .5 3.2 2.3 5.8 8.4 3 2.6 3 .2 6.9-1.8 4 .5 2 .9 2.6 2.2 5.4 7.5 2 1.9 2 .4 7-1.2 3 .4 3 1.5 2.9 3.4 1.2 3 .7 4-.2 9-2.1 12-3.5 10.3-3 5.2-3 3.5-11 8.3-1 .6-2 .1-1.8 2.9-2.2 1.5-2 .5-1-.5-2 1.2-1-.3-2.9-5.1-3.8 2.7-2.2 2.7-3 1.7-1 1.1-2 .7-1-.1-1-1.5-1-.5-1.8 2.9-1.2 .7-1-1.4-1-3-1-.7-1 1.5-2 7.5-1 2.3-1 .8-2 .2-3-.7-7-4.3-2.9-.7-4 .1-6 2.3-2 .1-1-1.2-3.2-9.5-1.8-3.4-1-.5-1 .7-3 6.1-1 .4-1-1.7-4-12-1-1.5-2-1.3-2 .3-2 1.3-8.7 9.6-2.2 1.6-2 .8-4-.2-3.1-1.2-2.9-2.3-3-4.4-2.8-6.3-1.7-6.9-1.2-8-.8-12-.4-14 .7-58.8-1.1-31.9 1-36 .6-7.9 .7-4 1.3-4 1.7-2.7zM169.2 255.4l1.4 .5 2.7 2.5 1.6 3 1.1 6 .5 9.9-.2 19-1.2 16-1.9 9.9-1.6 3-1 .2-2-2.3-1.8-5.9-1.4-8.9-.5-10 .2-16 1-14.9 1.5-9.6 1-2.2zM196.5 264.4l1-.8 2 .5 1.7 2.3 1.3 3.2 2.2 10.7 1 13-.3 14-1.4 9.9-2.5 7-1 1.4-2 1-2-1-1-1.6-1.2-3.8-1.6-9.9-.9-13 0-12 .9-10 1.6-6.9zM306.5 271.4l1.8-.4 2 .9 2 3.6 1-.5 1-2 4.9-1.8 1 .6 3 4.5 4 2.5 3 .8 2 2.1 1 .2 1-1.2 1.2-.4 .8 .9 3 7.6 3 0 0 19.9-3 0-1-.7-2-4.3-1-.7-2 3.7-1-3.9-1-.5-3 10.2-1.2 1.8-2.8 2.5-1-.2-2-2-1-.2-2.9 2.8-1 .3-3-.8-3-.1-2 1.4-2-2-1 .2-2 1.7-2-1.3-1-.1-2 1.3-1 .1-1-.4-2-2.6-1-.4-3 .6-2-2.8-1-.2-1 .6-1-.5-.9-2.9-1.1-6.9-1-1.6-1-.5-1-2.5-.2-3.5 .6-3 1.6-2.2 2-1 5-9.7 1 .4 1 2.1 1-.2 4-7.5 1 .1 .8 1 2.2 4.8 1-1.1 2-4.1z"/><path fill="#26ffd1" d="M130.8 11l1.9-.8 3 .1 3 1.2 2 1.4 3.4 4.1 5.2 8.9 3.5 7 1.8 5 1.6 9 1.1 12 1.2 26.9 .5 28.9 2 27-.2 8.9-3.6 18-4.9 14-3.3 7.9-2.2 4-2.1 2.7-3 1.8-3-.4-3-1.7-3-3.4-2.2-3.9-1.7-5-1.4-6-1.6-16-.3-11 1-47.8-.2-14-1.3-25 .5-38.9 .5-5.9 1-4 1.7-3.1zM183.5 85.8l1.1-.6 2-.3 2 1.1 2.5 3.8 1.6 5 1.6 10 1.2 29.6 1 4.5 1-.5 4.5-7.7 2.4-3 3.1-2.3 3-.5 3 1.4 3.5 4.4 1.8 4 3.7 10.4 1 0 3.6-4.4 3.4-3 2.9-1.3 3-.3 2 .6 2 1.3 3.1 3.7 2.4 5 2.5 8.1 1 .3 3.6-4.5 3.4-2.3 4-.6 3 1.2 2 2.2 1.5 3.5 .4 3-.2 4-1.1 7-1.5 5-2.1 4.3-2 2.2-3 1-2-.9-1.5-1.6-2.1-4-3.4-11.2-1 1.7-4.5 15.5-2.5 5.5-2 3.1-2 1.9-2 1-1.9 0-3-2.1-2.7-4.4-1.9-5-2.4-9.9-1-2.4-1 .9-5.6 19.4-3.1 7.9-2.3 3.7-2 2.2-1 .6-2 .1-2-1.4-1-1.3-2.5-5.9-2.1-8.9-2.4-16.8-1-2.3-2 3.7-5.5 15.4-3.4 6.6-2 2.6-2 1.6-2 .1-1-.8-4.4-7.1-2.4-8-1.9-15-.2-17 4.5-28.9 3.1-14.9 1.8-6 2.5-6.3 2.1-3.7zM169.7 268.4l.9-1 1 .3 1 1.4 1 3.1 1 7 .4 8.1-.2 11-1 9-1.2 4.5-1 1.5-1 .1-1-1.2-1.5-4.9-1.2-13 .7-16.2 1-6.5zM197.2 275.3l1.3-.6 1 .4 2 3.5 1.6 6.7 .7 8-.2 9-1.1 7.6-2 5.3-2 1.5-1-.4-1-1.1-1.5-3.9-1.1-6-.5-7 .1-8 .7-7 1.3-5.2zM306.7 278.3l1.6-.7 1 .4 3 5.3 1 .3 2-1.1 2.9-.3 2-1.5 1 .6 5 7.4 1 1 2 .7 .3 .9 .2 3-.5 2.8-3 7.4-1 1.2-1-.2-2-2.8-1 .3-3.4 6.3-1.5 1.6-1 0-4-3.2-2 .7-1-.7-1-6.8-1-3.6-1 1.6-.7 8.4-1.3 1.6-1-.6-4-6.8-1-1.4-1-.6-1-2.3-1.1-7.9 .1-3 .4-1 .6-.9 2 6.7 1 .1 1.7-2.9 3.3-3.9 2-4.4zM288 293.3l.3-.4 0 3.5-.8-1.1z"/><path fill="#50ffa7" d="M132.9 14l1.8-.4 2 .4 2 1.1 2.1 1.9 6.5 9.9 4.1 8 1.7 6 1.3 8 1.9 26.9 1.3 61.9-.7 13.9-3 16-3.4 11-4.8 10.2-2 2.3-2 .8-3-.8-2-1.5-2-2.6-2.2-4.4-2.3-10-1.6-16 .8-51.8-.2-15-1.4-25 .2-37.9 .4-5 1-3.9 1.3-2.3zM184.9 89.8l1.7 0 1 .6 1.9 2.4 1.6 4 1.1 5 1.2 15.9-.7 20-1.6 14.9-4.2 18-2.3 6.9-2.5 5.1-2.5 3.1-2 .7-2-1.2-1.5-2.6-1.5-4.3-1.2-5.7-1.3-15 .3-14.9 2.6-24 3-13.9 2-6 2.5-5 2.1-2.7zM208.3 128.7l2.2-.3 2 .8 2 2.1 1.4 2.4 2.2 7 .7 9.9-1.7 16-3.3 15-2 6-2.3 4.4-2 2.2-2 .5-2-1.4-1.1-1.8-1.4-3.9-1.1-5-1.3-12 0-16 .7-7.9 1.9-8 3.3-6.7 2-2.2zM232.9 139.7l2.5-.7 2 .3 3.4 2.4 2.8 5 1.3 6.9-.9 11-2.4 10-3.2 7.1-2 2.3-2 .9-1.9-.3-1-.8-1.7-2.2-1.3-2.8-1.9-7.2-1-10 .2-9 1.1-5 2.5-4.9zM258 150.6l2.9 0 2.5 1.7 1.6 3.3 .3 3-.6 6-1.4 5-1.9 3.5-1 1.1-2 .8-2-.9-2-3.3-1.2-4.2-.5-5 .2-4 .9-3 1.6-2.4zM170.5 278.3l1.1-.1 1 2.9 .8 10.2-.8 10.2-1 2.6-1 .1-1.3-3.9-.6-8 .6-9zM198.2 282.3l1.3 .5 1.2 2.5 .9 4 .5 6-.2 5-.7 5-1.1 3-1.6 1.4-1.5-1.4-1.1-3-.9-9 .8-9 .7-2.9 1-1.7zM306.6 283.3l.7-.7 1-.2 1 .8 1.2 4.1 .4 3-1.6 6.2-1-.4-2.8-5.8 0-4zM313.7 289.3l1.6-.2 1 .6 1.3 1.6 .6 2-1.8 9-1.1 2.2-1-.6-.7-1.6-1.8-9 .3-3z"/><path fill="#7dff7a" d="M133.1 18l1.6-.8 2 .2 3 2.1 6 8.1 4.3 8.3 1.8 7 1.3 8 1.9 25.9 .9 59.9-.8 13.9-2.9 15-3 10-3.5 7-2 2.3-2 .6-2-.7-2-1.7-3-5.3-2.4-10.2-1.3-12 .7-50.8-.3-15-1.4-24 .1-35.9 .9-8 .7-1.9zM183.5 93.8l2.1-.6 2 1.1 1.6 2.5 1.3 4 1.7 11.9-.1 14-1.9 20-3.2 15.9-2.1 7-2.3 5.4-2 3-2 1.3-2-.8-1-1.4-1.4-3.5-1.1-5-1.2-13 .1-14.9 1.9-20 2-11 3.7-10.7 2-3.4zM207.9 131.7l1.6-.6 2 .4 1.5 1.2 1.5 2.1 2.2 6.9 .5 7.9-1.3 14-2.6 13-3.4 9-1.4 2-2 1.2-2-.9-1-1.6-1.8-5.7-1.4-11-.2-12 .7-10 1.2-5.9 2.5-6.2 2-2.7zM234 141.7l1.4-.4 2 .4 3 2.5 2.1 4.4 .7 5-.7 9-2 9-3.1 6.3-1 1.1-2 .9-1.9-.7-1-1-2-4.2-1.4-6.4-.6-8 .2-7 1.2-5 2.4-3.9zM257.3 153.6l2.1-.7 2 .6 1.6 2.1 .5 2-.2 4-.9 3.9-1 2.3-2 2.1-1 .1-1.6-1.4-1.7-5-.1-6 .7-2zM198.5 291.3l1 1.8 .3 3.2-.3 3-1 1.8-1-1.8-.2-3 .2-3.3z"/><path fill="#a7ff50" d="M134.5 21.9l2.2-.6 2 .9 2 1.7 5 6.6 3.1 6.4 1.7 7 1.5 9 1.8 23.9 .5 14 .2 44.9-.8 13.9-1.8 10-3.3 11.9-2.9 6-2 2-1 .2-3-1.3-1.5-1.8-1.5-3.3-2.1-7.7-1.5-12 .6-48.8-.4-15-1.4-23 0-19.9 .4-19 .9-4zM183.3 96.8l1.3-.6 2 .4 2 2.7 1.2 3.5 1.4 9.9-.1 13-1.8 19-3.1 14.9-3.6 10.2-2 2.9-2 1-2-1.6-1-2.1-1.7-7.4-.9-12 .3-12.9 1.6-17 1.8-10 2.9-8.7 2-3.5zM209 133.7l2.5 .3 1.6 1.7 1.1 2 1.5 6 .3 6.9-1.2 12-2.5 12-2.8 6.9-2 2.2-1 .2-1-.4-1.3-1.9-1.8-6-1-10 0-11 .7-7.9 1.6-6 2.6-5zM234.5 143.7l2.9 .2 2.1 1.8 1.8 3.9 .6 5-.8 8-1.7 6.7-2 4.2-1 1.3-2 .9-1.9-1.1-2-4-1.2-6-.4-7 .3-5 1-4 1.7-2.9zM258.1 156.6l1.3-.7 1 .4 .8 1.3-.3 4-.5 1.4-1 1.1-1-.3-1-2.4-.1-2.8z"/><path fill="#d1ff26" d="M136.1 25.9l1.6-.5 1 .3 3 2.3 3.6 4.9 2.3 5 2 8 1.2 8 1.9 23.9 .5 13 0 44.9-.6 11.9-1.2 8-2.8 10.4-1.9 4.9-2 2.6-1 .5-1.6-.4-1.4-1.1-2.4-3.9-2.2-8-1-8 .4-47.8-.4-15-1.4-22-.1-17.9 .5-18 .6-3.5zM184.4 98.8l1.2 0 2 1.9 1.2 3.1 1 3.9 .8 10-.6 12-1.9 16-2.7 11.9-1.8 5.5-2 3.9-2 1.8-1 0-1.3-1.2-1.3-3-1.5-9-.5-11.9 .9-15 1.4-12 2.2-9 3.1-6.7 1-1.2zM207.6 136.7l1.9-.9 1 .1 2.1 1.8 1.9 5 .6 6.9-1.2 12-2.2 10-2.2 5.7-2 2.2-1 0-1-.7-1-1.8-1.2-4.4-.8-7-.1-9 .4-7 .8-4.9 1.8-5zM234.9 145.7l2.5 .3 1.6 1.6 1.3 3 .4 4-.8 7-1.5 5.7-2 3.5-2 1-1.9-1.7-1.1-2.5-1-5-.2-6 .2-4 1.1-3.4 1.7-2.5z"/><path fill="#feed00" d="M138.3 29.9l1.4-.1 1 .6 3 3.1 2 3.7 2 6.4 1.6 8.3 1.2 9 1.4 21.9 .1 52.9-.5 11-1.2 7.9-2.6 8.7-2 3.9-1 .8-1 .1-2-1.3-2-3.4-2-6.8-.7-6 .3-43.9-.4-15.9-1.5-23-.1-15.9 .8-17 .6-3zM183 101.8l1.6-.8 1 .3 1.4 1.5 1.3 2.9 1.4 8 .1 9-1.5 16-2.4 12.9-3.3 9.8-2 2.7-1 .5-1-.3-1.2-1.7-1.8-7-.6-8.9 .2-12 1.1-13 1.6-9 2.7-7.6zM207.8 138.7l1.7-.8 1 .2 2 2.3 1.3 4.3 .3 4.9-.8 9-1.7 9-2.1 5.8-2 2.1-1-.2-1-1.2-1-2.9-1-6.6-.2-7 .3-7 .8-4.9 1.3-4zM233.7 148.6l1.7-.9 2 .7 1.4 2.2 .6 3-1 8.5-1 3-2 2.5-1.1 0-1.5-2-1.2-6 .2-7 .7-2.1z"/><path fill="#ffbd00" d="M140.3 34.9l1.4 .3 2.1 2.7 1.9 4.6 1.9 7.4 2.1 14.9 1.1 18 0 51.9-.4 9-.7 6.9-1.1 4.5-1.9 4.9-1 1.4-1 .4-2-1-2-3.2-1-3.5-.6-4.5 .1-41.9-.5-15.9-1.5-23-.1-13.9 .9-15 .7-3.2zM183.3 103.8l1.3-.5 1 .3 1 1.2 1.2 2.9 1.2 7 0 9-1.4 14-2.2 11.9-2.8 8.1-2 2.6-1 .3-1-.7-1-1.9-1.3-6.4-.5-8.9 .3-11 1-11 1.3-7 2.2-6.3zM208.1 140.7l1.4-.6 1 .3 1 1 1.2 3.3 .5 4.9-.7 8-1.3 7-1.7 4.8-1 1.5-1 .5-1.2-.8-1.3-4-.7-11 .3-6 .8-3.9 1.1-3zM234.8 150.6l1.6 0 .9 1 .6 3-.6 5-.9 2.2-1 1.1-1-.2-.5-1.1-.9-4 .4-5z"/><path fill="#ff8900" d="M141.7 42.9l1 0 1 1.3 2 5 1 4 1.9 13.1 1 16.5-.4 56.9-1.3 10.9-1.2 3.6-1 1.1-1.9-.7-1.1-1.7-1-6.3-.2-38.9-2.5-41.9 .7-16.8 1-4.7zM183.5 105.7l1.1-.2 1 .5 1 1.4 1 2.9 .8 7.4-.2 8-1.5 13-2.1 10.2-1.3 3.7-1.7 3.2-1 .9-1-.1-1-1.2-.7-1.8-1-6-.3-8.9 .4-10 .9-9 1.3-6 2.4-5.9zM208.5 142.7l1-.3 1 .5 1 1.7 .8 6-.8 7-1 4.8-1 2.8-1 1.6-1 .3-1-1.3-1-4.2-.2-9 1.2-6.9z"/><path fill="#ff5900" d="M143.4 55.9l.3-.4 1 .9 1 2.9 1.1 5.5 .9 8.9 .2 18.1-1.2 16.4-1-.8-1-6-3-29.7 .1-8.8 .9-5.7zM182.4 108.7l1.2-.9 1 0 1 .7 1 1.9 1 5.3 .1 7-1.1 12-1.9 10-2.1 6.1-2 2.2-1-.4-.5-1-1.2-4-.5-5.9 .1-9 1.5-15 1.6-5.6zM208.3 145.7l1.2-.4 1 1.1 .6 3.2-.6 6.9-1 3.7-1 1.6-1-.2-.3-1-.8-6 .3-5 .8-2.8z"/><path fill="#ff2500" d="M182.6 110.7l1-.6 1 0 1.2 1.6 1 4 .2 7-.9 10-1.5 8.5-2 6.1-1 1.4-1 .4-1-1-1.1-4.4-.2-14 1.3-11.3 1-3.7z"/><path fill="#da0000" d="M183.2 112.7l1.4 .1 1 1.8 .6 4.1 .1 4-1.7 14.2-1 3.9-2 4-1-.1-1.1-3-.4-12 .6-7 .9-5 1-2.9z"/><path fill="#9b0000" d="M183 115.7l.6-.3 1.1 1.3 .6 3 .1 4-.8 7.7-1 4.8-1 2.7-1 1.1-1-1.3-.4-2-.1-9 1-8 .6-2z"/></g>
<rect x="0" y="0" width="339.2" height="337.2" fill="none" stroke="#000" stroke-width="1.5"/>
<rect x="384.0" y="0.00" width="17.6" height="67.74" fill="#f10800"/>
<rect x="384.0" y="67.44" width="17.6" height="67.74" fill="#ffc400"/>
<rect x="384.0" y="134.88" width="17.6" height="67.74" fill="#7dff7a"/>
<rect x="384.0" y="202.32" width="17.6" height="67.74" fill="#00b0ff"/>
<rect x="384.0" y="269.76" width="17.6" height="67.74" fill="#0000f1"/>
<rect x="384.0" y="0" width="17.6" height="337.2" fill="none" stroke="#000" stroke-width="1.5"/>
<path d="M401.6 0.00h5.8M401.6 67.44h5.8M401.6 134.88h5.8M401.6 202.32h5.8M401.6 269.76h5.8M401.6 337.20h5.8" stroke="#000" stroke-width="1.4" fill="none"/>
<text x="410.7" y="6.30" class="dv" font-size="16.1">14.6</text>
<text x="410.7" y="73.74" class="dv" font-size="16.1">10.6</text>
<text x="410.7" y="141.18" class="dv" font-size="16.1">6.7</text>
<text x="410.7" y="208.62" class="dv" font-size="16.1">2.7</text>
<text x="410.7" y="276.06" class="dv" font-size="16.1">-1.3</text>
<text x="410.7" y="343.50" class="dv" font-size="16.1">-5.2</text>
</g>
<text transform="translate(1612.1,32.6) scale(1,1.04)" text-anchor="start" class="ar" font-size="28.8" stroke="#000" stroke-width="0.3">(d) 25 mTorr</text>
<text transform="translate(1918.6,31.7) scale(1,1.04)" text-anchor="start" class="ar" font-size="28.8" stroke="#000" stroke-width="0.3">E<tspan dy="6.8" font-size="18.3">z</tspan><tspan dy="-6.8" font-size="18.3">&#8203;</tspan><tspan dy="-1.8">·</tspan><tspan dy="1.8">J</tspan><tspan dy="6.8" font-size="18.3">ze</tspan><tspan dy="-6.8" font-size="18.3">&#8203;</tspan> (kW/m<tspan dy="-8.6" font-size="18.3">3</tspan><tspan dy="8.6" font-size="18.3">&#8203;</tspan>)</text>
<text transform="translate(20.6,218.8) rotate(-90)" text-anchor="middle" class="dv" font-size="26.0">z (cm)</text>
<g transform="translate(79.0,475.4)">
<g clip-path="url(#cp)" shape-rendering="geometricPrecision"><rect x="-1" y="-1" width="341" height="339" fill="#00009b"/><path fill="#0000da" d="M81.9 -3l8.9-.5 43.9 .1 3.1 .4 0 3 2.2 2 1.7 3.9 6 10.4 .9 1.1 2-.1 1 .5 3 6.5 3.6 4.6 3.4 7.2 8 7.3 3 5.5 2.4 2 1.6 2.4 4.4 3.6 1.6 2 2 1.6 2-.4 1 .4 3 4.8 1.9 1.8 2 .1 4.9 4.6 2.1 3.2 2 .2 3.5 2.6 2.5-.5 1 .3 2 3 4 1.2 5 1.3 3-.1 2 1.4 2-1 4.9 1.5 2 0 2.8 2.9 1.2 .5 3-1.9 4-.5 6 2 2-1.8 4 .8 2 1 4-1.1 10 1.3 1.9-1.2 2 1.3 4 .4 1-.2 2-2.1 1-.1 3 1.2 6-1.4 2 .8 2-.8 2 .4 2-.6 2 .3 4-1.1 3 .1 5.2-1.3 1.7-.9 2 .1 3-2.3 2-2.3 2-.2 5-3.6 4-.5 2-1.6 3 0 .6 12.3-.1 237.4-.5 11.1-3 0-2-1.2-4-.8-1 .5-2-.6-2 1-2-2.1-1-.1-2 1.2-3-.1-5.9 1.5-3-1-5-.7-3 1.6-2-.3-4 1.2-4-.9-6 1.5-2-.4-2-1.3-1 .2-2 2.4-1 .5-3-.2-1.9 1.6-1 .2-2 .2-2-1-1 .3-.7 .7 0 3-4.1 0 0-3-1.2-.2-.8 .2 0 3-17.8 0 0-3-2.4-.2-3-1-2.9 1.2 0 3-3.4 0 0-3-1.6-.4-2.7 .4 0 3-3.1 0-.2-3-.6 0 0 3-8.2 0 0-3-2.2-.6-1.3 .6 0 3-3.7 0 0-3-1-1.3-1-.2-1.6 1.5 0 3-2 0 0-3-.4-.3-1-.5-3-.3-2.9 1.1 0 3-2.6 0 0-3-1.3-1-2.1-.3-2 1.1-1-.1-2-2.2-1-.5-5 .7-6-1.8-6 1-2-.5-6 .3-4-1.6-2 1.2-1 0-5.9-1.3-2-1.1-2 .9-1-.1-5-4.3-2-.2-5-3.1-1-.2-6 2.1-2-.2-3-2.1-1-.2-5 1.3-3-.6-2.9 1-3-1-3 1.7-2 0-2-.8-2 .7-4-1.6-3 1.7-1-.2-2 .7-3-1.4-2 1-2-1.1-3-.7-4 1.5-2-.4-2 1.3-3.9-2.4-2-.3-3 .3-2 1.5-2 .5-4-1-1 .3-2-.4-4 1.3-5-1.6-3 .6-2 1.3-3-2.5-1-.3-3 1.7-1 .1-2.9-1.2-8.4 .5-3.6 1.8-4-2-2 1-5 0-.6-11.7-.1-222.5 .7-17.5 6-.2 4-2.9 1-.3 3 .5 5-3.5 3-.1 1.2-1 1.7-3.1 2-.9 2-1.7 2-.1 5-4.6 7-5 3.6-4.5 2.4-1.8 2-4.2 3-1.7 5-4.3 2-2.7 3-2.8 1.5-2.5 3.4-2.9 1.4-3 4.6-3.9 2.2-5.1 5.8-5 2.1-7z"/><path fill="#0004ff" d="M85.6 -3l5.2-.5 43.9 .1 2.1 .4 0 3 .9 2.1 2 1.9 2 4.7 5 8.2 1.9 2.4 2 .7 1 1 3 5.6 4.2 5.3 2.8 6 6 6.4 2 1.3 2 4.2 4 4.6 4.4 3.5 2.3 3 2.3 1.5 2 0 1 .5 1.8 2.9 3.1 3.2 2.3 1.8 2.7 1.5 3 3.6 3 1 2.8 2.9 1.2 .3 2-.4 3 2.6 3 .2 5 2.4 4-.3 2 2.2 3-.6 4.9 .7 5 3.1 1-.1 2-1.3 2-.2 8 .9 3-.9 3 .2 2 .7 5-.6 6 .6 2 .9 1-.1 1.9-1.5 2.3 1.2 4.7 .5 2-1.8 1-.3 2 .7 5 .1 2-.7 4-.1 3 .9 7-2.5 1-.1 2 .8 4-1.7 5.3-.8 4.6-4.1 3-.4 5-3.8 5-1.4 3 0 .6 9.7-.1 237.4-.5 9.8-3 0-1.2-.8-2.8-.6-1-.8-2 .3-2-.5-2 .2-3-1.2-3 1.1-2.1-.5-4.8 2-2-.1-2-1.8-5.6-.1-2.4 2-2-.5-3 1.7-4-1.3-3 0-2 .9-3 0-1-.2-2-1.6-4 3.5-3.9 .5-4 1.6-2-.8-1 .1-2 1.4-5-1-2.4 1.7 0 3-.6 0-.9 0 0-3-1.1-1-1 0-1.4 1 0 3-4.9 0 0-3-2.7-1-1 .3-2-1-3-.5-3-1.9-3 3.3-2.9-.8-11 .3-1.5 1.3 0 3-1.5 0-.1-3-1.9-1.6-2-.7-1 .1-2 1.8-1-.2-2-2.2-2 .3-2 1.2-5-1.1-4 1-2-.9-5.9-.2-2.1-1.5-2.9 0-2 .5-7-1.9-3 .4-6-.5-2 .5-4-.4-3-1.4-2 1.7-1 .2-3.9-1.2-2 .1-1.4-1-.6-1-1-.2-1 1.4-1-.2-2.5-2-2.5-3.1-1-.4-2 .5-3.4-2-1.6-.2-3 .4-3 1.2-2-.5-3-2-1-.2-5 1.5-3-.7-1.9 1.4-1 .2-4-1.3-2 1.7-1 .2-1-.2-2-1.8-2 1.1-2 .1-2-1.6-1-.3-2 1.2-2 .1-1 .9-1 .1-1-1.3-1-.1-2 1.1-6-1.2-3 1.8-2-.5-2 1.1-1 0-1.9-1.5-3-1.1-3 .1-3 2-1 .1-2-.5-2-1.4-2 .9-2-.1-2 1.1-1 0-4-1.5-5 .6-1 .5-4-1.7-3 1.6-3.9-.9-4 .4-3-.7-2.5 .9-2.5 1.6-4-2.2-2 .9-5-.3-.5-9.9-.1-222.5 .6-15.9 6-.3 3-2.2 2-.7 3 .9 1-.3 4-3.5 4 .2 1-.8 1.9-4.4 3-1.8 2-.1 5-4.7 3-1.7 2-2.4 2-1.2 2-2 2-3.1 2.9-1.9 2.1-3.8 6-4.4 7-7.6 1.4-2.2 2.5-1.9 2.3-4.1 4.7-4.7 1.3-3.2 1.5-2 5.2-4.7 2.4-5.3 2.4-2z"/><path fill="#003cff" d="M86.5 -3l4.3-.4 43.9 .1 1.8 .3 .2 3.9 1 2.1 2 2.2 1.9 4.8 4.1 6.5 2.9 3.7 2 1.1 1 1.1 3 5.4 4 4.8 4 7.6 3.1 2.7 1.9 3 2 1.2 2 3.9 3.5 3.9 4.5 3.9 1.2 2.1 3.8 2.3 2 .2 .6 .4 1.4 2.1 5.9 6.5 2 .6 4 3.7 3 1.3 2 2.1 2 .8 2-.2 2.1 2.1 .9 .4 3 0 5 2.6 4-.2 2 2.2 6-.3 1.9 .5 5 2.8 1 0 2-1.3 2-.3 3 .9 8-.1 3-.5 2 .6 3 0 3-.8 5 1 2 .9 1-.1 1.9-1.7 2 1 5 .7 3-2 2 .7 5 .2 3-.8 3 .1 3 .8 7-2.6 1-.1 2 .8 4-1.8 1.9 .2 3.3-.8 2.7-2.7 3-1.6 2-.1 4-3.3 6-1.9 3 0 .5 8.6-.1 237.4-.4 9-3 0-1-.7-2-.3-2-1.3-2 .4-2-.6-2 .1-3-1-3 1-3-.5-2.9 2-1 .1-2-.4-2-1.7-6 .3-2 1.6-2-.5-3 2.2-1-.1-2-1.3-2 .2-2-.7-2 .9-3-.1-3-1.5-4 3.4-7.9 2.2-2-.6-4 1.2-4-.8-3 1.9-2-1.2-3 1.5-3 0-2-1-2-2-2 .9-4-.6-3-2.1-1 .5-2 2.9-1 .1-1.9-.8-8 .3-2-.7-1 .3-2 1.9-5-2.6-1 .1-2 1.5-3-1.9-4 1-5-.8-2 .8-2 .1-2-.9-2.9 .4-5-1.7-3-.4-2 .5-3-1.1-4-.6-7 .3-2-.6-2 .4-4-.6-2-1.3-1-.1-2 2.1-1 .3-3.9-1.1-2 .4-2-2.6-1-.5-1 1.2-1 .3-1-.7-1.5-1.3-2.5-3.7-.7-.3-2.3 1.4-4-2.3-4 .4-3 1-2-.4-4-2.2-4 1.5-4-.8-2.9 1.9-4-1.5-2 1.6-1 .3-1-.3-2-2-3 1.7-1 0-3-2.2-5 2-1-.1-1-1-3 .8-4-.1-2-.7-3 2-3-.5-1 1-1 .1-1.9-1.6-2.6-1-3.4-.3-1.6 .3-1.4 1.6-1 .3-2-.3-2-1.7-2 1-2-.1-2 .7-1 0-2-1.4-1 0-7 1.4-4-1.6-1 .2-2 1.4-2.9-.7-4 .4-4-.6-2 .6-3 1.7-4-2.1-2 .6-5-.3-.5-9-.1-222.5 .6-14.9 6-.4 2-1.6 3-1.1 1 0 2 1.1 3.3-2.1 1.7-1.8 4.5-.2 3-5 1.4-.7 2 0 6.4-6.2 3.3-2 1.4-2 3.9-3.2 2-3.2 3-1.5 2-3.8 4-3.3 2-1 1.1-2 5.9-5.8 1.9-2.6 2-1.5 3-4.9 4-4 1.4-3.1 2.3-3 4.3-3.7 3-5.2 2.7-3.1z"/><path fill="#0070ff" d="M87.1 -3l3.7-.4 45.5 .4 .4 4.6 2.9 4.4 1.1 3.4 4.7 7.6 3.2 3.9 2 1.2 1.5 1.8 2.5 4.8 4 4.6 4 7.7 3 2.5 2 3.2 2 1.6 2 3.5 6.2 6.1 2.1 3 4.7 2.9 2 .2 2 2.9 3.3 2.9 2.6 3.4 2 .7 4 3.3 2 .8 3 2.6 4 .8 3 2.5 3-.2 6 2.9 3 0 2 1.9 6-.4 6.9 3.1 1 0 2-1.1 2-.3 3 1.1 4-.6 4 .8 3-.9 5 .7 3-1.1 7 2 1 0 1.9-1.7 2 .9 5 .7 3-1.8 3 .6 4 .1 4-.7 5.8 .9 2.2-1.3 4-1.3 3 .7 4-1.9 1.9 .2 4-1 2-2.4 3-1.5 2-.2 5-3.8 5-1.4 3 0 .5 7.9-.1 237.4-.4 7.8-6-.4-2-1.3-2 .4-2-.6-2 .1-3-1-3 1-3-.6-2.9 2-1 0-4-1.8-6 .3-2 1.1-2.7 0-2.3 2.3-3-1.5-2 .3-2-1.1-1 0-1 .8-1 .1-5-1.3-3 2.7-8.9 2.8-2-.6-5 1.2-3-.7-3 1.5-2-.9-4 1.6-2-.3-2-1-2-2.2-2 .8-4-.1-3-1.9-1.2 .5-1.8 2.6-6.9-.7-4 .4-2-1.1-3 2.3-5-2.3-3 1.4-3-1.6-6 .7-3-.6-3 .9-3-1.2-2.9 .8-4-1.8-5-.6-2 .2-3-.9-5 0-2-.7-3 .8-3-1.4-1 .6-3-.2-3.1-1.6-.9 0-2 2.2-1 .4-3.9-.9-2 .4-2-2.8-1-.6-2 1.4-1-.4-4-5.1-1-.4-2 1.6-3-2-1-.1-4 .2-2 .8-3-.1-4-2.3-4 1.6-4-.9-2.9 2-4-1.4-3 1.6-3-2.3-3 1.8-1 0-2-1.7-2-.5-4 2-2-1-6 .8-3-.8-3 2.1-3-.8-1 1.1-1 .1-1.9-1.5-6-1.6-1.3 .1-2.6 2-1.1 .2-1-.1-2-1.8-2 1-2-.3-2 .4-3-1.1-8 1.6-4-1.4-1 0-2 1.3-2.9-.5-4 .5-4-.7-2.7 .9-2.3 1.5-4-2.1-7 .1-.4-8.4-.2-222.5 .6-14 6-.6 2-1.6 3-.8 1-.2 2 1.1 6-4.3 3 .2 1-.4 2.9-4.6 3.3-.8 2.7-3.4 4-3.4 3-1.8 1-1.5 4-3.5 2-3 3-1.4 1.5-2.9 1.5-1.8 3-2.5 2-.7 1.5-3 9.4-9.2 3-5 4-3.9 2-4 2.4-2.8 3.6-3 1.6-3 4.4-5.4z"/><path fill="#00a8ff" d="M87.6 -3l3.2-.3 45.3 .3 0 3 .6 2.2 2.4 3.8 1.6 4.2 4.3 6.8 3.2 4 3.4 2.9 3 5.5 4 4.5 4 7.7 3 2.5 6 8.4 5.6 5.4 2.4 3.4 5 2.9 2 .3 2 3.2 2.9 2.4 3 3.7 2 .6 4 3.3 2 .8 2.6 2.3 4.4 1.1 1.8 1.9 1.2 .6 3-.3 1 .4 6 3.3 2-.3 2 1.5 6-.4 4.9 1.8 2 1.2 5-1.4 3 1.2 4-.7 5 1.2 2-1.1 5 .6 3-1.3 7 2.1 1 0 1.9-1.6 2 .8 5 .6 3-1.7 3 .8 5-.2 2-.6 7 .8 2-1.1 4-1.2 3 .4 4-1.7 1.9 .3 3.7-1 2.3-2.5 5-1.8 4-3.2 6-2 3 0 .4 7.5-.1 237.4-.3 5.9-3 0-2 1-1-.1-2-1.1-6-.1-3-1.2-3 1-3-.6-2.9 1.9-1 .1-4-1.7-10 1-1 .4-1 1.7-1 .7-3-1.6-2 .5-1-.4-1-.9-1-.1-2 .8-5-1-3 2.5-1 0-3 1.6-4.9 1.2-3-.3-4 1.1-3-.7-3 1.1-2-.6-4 1.5-4-1.4-2-2.1-6 .8-3-1.9-1.6 1-1.4 1.9-1 .3-1.9-.6-7 .3-3-1.3-1 .4-2 1.7-5-2-3 1.2-3-1.2-7 .4-2-.4-3 .7-3-1.3-2.9 1.1-4-2.1-2 .3-3-1-2 .3-3-1-1 .4-4-.1-2-.9-3 1-3-1.6-3 .6-2-1.1-3-.6-2 2.1-1 .5-3.9-.7-2 .4-2-3.1-1-.5-2 1.2-1-.3-4-5-1-.3-2 1.7-3-2.1-10 .8-4-2.3-3 1.6-1 .1-4-1-2.9 2-4-1.3-3 1.5-3-2.2-4 1.7-2-1.6-2-.7-4 2.1-2-1-6 .9-3-.9-3 2.2-3-1-1 1.1-1 .2-1.9-1.5-6-1.6-2 .4-3 1.9-1-.1-2-1.8-2 .9-2-.3-2 .2-3-.8-8 1.7-5-1.5-2 1.3-2.9-.4-4 .6-4-.7-3 1-2 1.2-4-2-7 0-.4-7.9-.1-222.5 .5-13.2 5-.5 3-1.8 2 .1 2-.8 2 .7 6-4.3 4-.2 2.9-4.4 4-1.5 2-3 4-3.5 3-1.7 1.4-1.8 3.6-3.3 2-2.8 1-.8 1 .1 1-.6 2.8-4.6 3.2-2.7 2-.7 2-3.6 8.9-8.6 3.2-5.4 4.1-3.9 1.7-3.5 2.9-3.5 3.1-2.5 2-3.5 4-4.7 .8-1.3z"/><path fill="#00dcfe" d="M87.9 -3l48 0 0 3 .8 2.7 2.6 4.3 1.4 3.9 2.3 3.1 1.7 3.2 3.1 3.8 3.4 2.9 4.4 7.7 3 2.9 2.5 5.4 1.5 2.3 3 2.4 6 8.5 5.2 4.8 2.7 4 5.1 2.7 2 .4 2 3.5 2.9 2.1 2.4 3.2 2.6 1.1 4 3.2 2 .8 2 1.9 5 1.6 3 2.5 3-.4 1 .4 6 3.6 2-.2 2 1.1 6-.4 6.9 3 5-1.4 3 1.2 4-.8 4 1.3 1 0 2-1 5 .6 3-1.5 7 2.2 1 0 1.9-1.6 2 .8 5 .5 3-1.5 3 .8 7-.9 6 .9 7-2.3 3 .3 4-1.7 1.9 .2 4-1.1 2-2.3 5-1.8 4-3.1 6-2.1 3 0 .4 7.1-.4 242.4-3 0-2 1.3-3-1-4-.4-2 .3-3-1.3-3 1-3-.5-3.9 1.8-3-1.4-4 .1-8 1-2 2.6-3-1.6-2 .5-2-1.4-1-.2-2 .7-2-.6-3-.1-3 2.3-1-.6-1.1 1.5-1.9 .9-4.9 .9-5 .3-2 .8-3-.7-3 .7-2-.4-4 1.6-3-.8-3-2.6-6 .9-3-1.9-1 .3-2 2.3-1 .4-1.9-.6-7 .3-3-1.2-3 1.8-3-1.4-2-.4-3 1.3-3-1.2-3 .2-3-.8-1 .8-3-.3-2 .7-3-1.4-2.9 1.3-4-2.4-2 .5-3-1.1-3 .1-2-.9-5 .4-2-1-3 1.2-3-1.7-3 .6-2-1.6-3-.1-3 2.5-3.9-.5-2 .5-2-3.4-1-.3-2 .9-1-.3-4-4.6-1-.3-2 1.6-3-2.1-10 .9-4-2.2-4 1.6-4-1.1-2.9 2.1-1 .1-3-1.4-3 1.3-3-2.1-4 1.7-4-2.3-4 2.2-2-1-6 1-3-1-3 2.2-3-1.3-2 1.5-1.9-1.5-6-1.6-2 .5-3 1.8-1 0-2-1.9-2 .9-7-.8-8 1.6-5-1.3-2 1-2.9-.2-3 .6-5-.6-5 2-4-1.8-7-.1-.3-7.5-.2-222.5 .5-12.5 3 0 2-.5 3-1.8 2 .3 2-.8 2 .4 6-4.4 3-.1 1.4-.6 2.5-3.8 4-1.6 2-3.1 4-3.5 3-1.7 7-7.6 1-.9 2-.5 2-3.9 4-3.4 2-.7 2-3.8 8.9-8.4 3.6-6 3.4-3.2 4.5-6.7 3.5-3 2-3.6 4-4.4 1.1-2z"/><path fill="#26ffd1" d="M88.2 -3l24.9 0 0 3-1.3 8 .3 6 .8 5 1.1 3.9 1.7 3.6 2 2.2 2 .6 2-.7 2-2.3 1.5-3.4 1.1-3.9 1-10-1.1-12 9.5 0 0 3 .8 3 2.4 4 1.8 4.6 2 2.4 2 3.8 3.6 4.1 2.6 2 4.7 8.4 2 1.4 1 1.4 2.1 4.8 1.9 2.8 3 2.4 6 8.6 4.7 4.2 2.8 4 4.5 2.7 3 .8 2 3.8 2.7 1.6 2.2 3.2 5 2.6 6 4.6 4.9 1.6 1.1 1.3 2 1.2 1 .3 2-.6 1 .3 4 2.2 2 1.6 2-.2 2 1 6-.5 6.9 2.8 5-1.3 3 1.2 4-.8 5 1.5 3-1.2 4 .6 3-1.5 7 2.2 1 0 1.9-1.5 2 .8 5 .4 3-1.4 3 .8 7-1 6 1 4-1.6 2 0 2-.9 2 .5 4-1.8 1.9 .3 4-1.1 2-2.2 5-2 4-3 6-2.2 3 0 .4 6.8-.4 241.7-3 0-2 1.5-7-1.4-2 .4-3-1.3-3 1-3-.6-3.9 1.8-3-1.3-10 .6-2 .4-2 2.7-3-1.6-2 .6-2-1.5-1-.2-2 .5-2-.6-3 .3-3 1.7-1-1-1.7 2.7-1.3 .5-9.9 1-3 1.1-2-.8-2 .3-2-.5-3 1.5-2 .4-3-.7-3-2.5-3 .1-3 .8-3-1.7-1 .2-3 2.5-2.9-.6-5 .5-4-1.3-3 1.6-4-1.5-1-.1-3 1.3-3-1.1-4-.1-2-1.7-1 1.7-3-.1-2 .5-3-1.3-2.9 1.3-4-2.5-2 .5-3-1.1-3 .3-2-1.1-5 .5-2-1-3 1.3-3-1.7-3 .4-2-1.6-3 .1-3 2.3-2 .2-1.9-.5-2 .5-2-3.6-1-.2-2 .7-1-.5-4-4-1-.4-2 1.5-3-2-3 .6-2-.4-5 .7-4-2.2-3 1.6-5-1.1-2.9 2.1-1 .1-3-1.4-3 1.1-3-1.8-2 .4-2 1.1-4-2.2-4 2.3-2-1-6 .9-3-1.1-3 2.3-1-.1-2-1.4-2 1.3-.9-1.1-2-.1-5-1.5-2.2 .5-2.8 1.8-1 0-2-1.9-2 .9-2-.6-2 .4-3-.6-8 1.6-5-1.3-2 .9-2.9 0-3 .6-5-.6-5 1.8-6-2.2-5 .4-.4-229.6 .4-11.8 3 0 2-.6 3-1.7 2 .3 2-.7 2 .2 6-4.4 3-.4 1.9-.9 2-3.3 4-1.6 2-3.1 4-3.6 3-1.7 7-7.4 1-.8 2-.6 2-4 3-2.7 3-1.5 2-3.8 8.9-8.3 3.9-6.5 4.1-3.9 4-6.2 3-2.2 2-3.8 3-3 2-2.9 .4-.9z"/><path fill="#50ffa7" d="M88.5 -3l19.3 0 0 3-1.6 9-.9 10-.1 8.9 .6 8 1.4 8 2 6 2.5 4.3 3 2.4 3 .3 3-1.6 3-3.5 3-6.2 2-8.7 1.3-13 .2-12.9-.9-14 5.4-.1 .7 .1 0 3 .8 3 2.5 4.2 1.8 4.8 2.2 2.7 2 3.9 3.1 3.3 2.8 2.3 2.9 5.7 2.1 3.1 2 1.4 1 1.5 2.3 5 1.7 2.3 3 2.4 5.6 8.3 4.4 3.6 4 5.3 4 2.3 3 .8 1.9 3.9 2.2 1 2.8 3.6 5 2.6 6 4.6 4 1.2 4 2.9 1 .4 2-.6 1 .2 4 2.1 2 1.7 2-.1 2 .8 6-.4 6.9 2.7 5-1.3 3 1.2 4-.9 5 1.6 3-1.1 4 .6 3-1.6 7 2.2 1 0 1.9-1.5 3 1 3 .2 1.4-.1 2.6-1.2 3 .7 7-1 6 1 4-1.5 2 0 2-.9 2 .4 4-1.7 1.9 .2 4-1.1 2-2.1 5-2.1 4-2.8 2-.5 4-1.9 3 0 .3 6.5-.3 241.2-3 0-2 1.5-1 0-6-1.4-2 .5-3-1.4-3 1.1-3-.6-3.9 1.7-3-1.2-7 .7-3-.2-2.1 .5-1.9 2.5-3-1.3-2 .6-2-1.6-5-.4-4 .8-1 .8-1 .1-1-1-2 3.2-1 .5-9.9 .7-3 1.5-2-.9-4-.7-3 1.9-2 .2-3-.6-3-2.3-3-.1-3 1-3-1.7-1 .2-3 2.3-2.9-.6-5 .6-4-1.2-3 1.4-4-1.4-1 0-3 1.3-3-1.1-4-.3-2-1.8-1 1.6-1 .4-2-.3-2 .5-3-1.3-2.9 1.2-4-2.4-3 .3-2-.9-3 .4-3-1.5-4 .8-2-1.1-1 .1-2 1.2-3-1.6-3 .4-2-1.7-3 .2-3 2.2-2 .3-1.9-.6-2 .5-2-3.7-3 .4-5-4.1-1-.3-2 1.2-3-1.8-3 .6-2-.5-5 .6-4-2-3 1.6-5-1.2-3.9 2.4-3-1.5-1 0-2 1-3-1.7-2 .3-2 1.1-4-2.1-3 2.1-1 .2-2-1-6 1-3-1.3-1 .4-2 2-1-.2-2-1.5-1 .3-1.9-.7-2 .6-5-1.4-3.2 .9-1.8 1.2-1 0-1-1.3-1-.4-2 .8-2-.6-2 .4-3-.4-8 1.4-5-1.2-2 .8-5.9 .7-4-.7-3 .5-3 1.2-2-.4-4-1.7-5 .4-.4-229.1 .4-11.1 3 0 3-.8 2-1.6 2 .3 2-.6 2 .1 6-4.6 4.9-1.3 2-3.2 4-1.7 2-3 4-3.8 3-1.6 7-7.2 3-1.5 2.4-4.3 2.6-2.3 3-1.6 2-3.9 9-8.2 3.9-6.6 4.5-4.3 3.8-6 2.8-2 1.9-3.7 3-2.9 2-2.8 .7-1.6z"/><path fill="#7dff7a" d="M88.8 -3l9.9 0-.1 4-1.5 9-1.6 7-1.7 4.7-2 10.8-3 5.9-1.4 4.5 .3 11 1.2 9.9 2.5 10 3.9 9 4.6 6 2.9 2.2 3 1.3 2.9 .5 3-.5 4-2.2 3-2.7 3-3.7 3-4.8 2-4.3 2-6 2-11.4 1.3-17.3 .4-26.9-.5-16 3.1 0 0 3 1 3 2.7 5.1 1.4 3.9 2.6 3.5 1.7 3.5 6.2 5.8 2.2 5.1 2.8 3.9 2 1.3 2.9 5.8 2.1 2.8 3 2.5 3 5.3 1.9 2.4 5.1 4 4 5.4 2 .8 2 1.5 2 .2 1 .6 1.4 3.4 .6 .7 2 .8 2.9 3.6 5 2.5 6 4.7 4 1.3 2 1.8 3 1.4 2-.6 1 .1 4 2.1 2 1.8 2-.1 2 .7 6.9-.3 6 2.4 5-1.2 3 1.2 4-.9 5 1.7 3-1.1 4 .5 3-1.6 7 2.2 1 0 1.9-1.4 3 1 3 .1 4-1.2 3 .7 7-1.1 6 .9 4-1.4 2 .2 2-.9 2 .2 4-1.7 1.9 .2 4-1.1 2.3-2.2 4.7-2 4-2.7 2-.4 4-2.2 3 0 0 246.9-3 0-2 1.5-1 .1-6-1.5-2 .7-3-1.4-3 1-3-.5-3.9 1.7-3-1.2-4 0-3 .8-3-.3-2.7 .9-1.3 1.9-3-1.2-2 .7-2-1.6-1-.1-4-.3-5 1.4-2-1-1 .9-.8 2.3-1.2 .7-9.9 .8-3 1.6-3-1.5-3-.6-2.6 2-2.4 .3-3-.5-3-2.2-3 0-3 .9-3-1.6-1 .2-3 2.2-2.9-.7-5 .6-3-1-4 1.2-4-1.3-4 1.3-3-1-3 .1-3-2.5-2 2.2-2-.3-2 .5-3-1.3-2.9 1-5-2.8-2 .5-2-.7-3 .5-3-1.7-3 1.1-3-1.2-3 1.2-3-1.4-2 .5-1-.3-2-1.6-3 .2-3 2-2 .4-3.9-.7-2-3.2-3 0-6-3.7-2 .9-3-1.6-3 .8-2-.7-3 0-2 .6-4-1.8-3 1.6-4-1.3-2 .1-2.9 2.4-3-1.7-1-.1-2 .9-3-1.3-2 .2-2 1.1-4-2.1-3 2.2-1 .2-2-1.1-6 .9-3-1.2-1 .3-2 2-1-.2-1-1.2-3.9-1-2 1-5-1.4-5 1.9-1 0-1-1.3-1-.2-2 .8-2-.7-2 .5-3-.3-8 1-5-.9-2 .7-5.9 .8-4-.7-7 1.5-5-2-5 .5-.3-228.7 .3-10.2 6-.4 2-2.1 6-.4 3-2.7 4-2.6 2-.1 1.9-.7 2-2.9 4-1.9 2.1-3 3.9-3.9 3-1.5 7-7.1 3-1.6 3-4.8 5-3.4 2-3.9 2-1.3 7.5-7.4 3.4-6.1 6-5.8 2.8-5 2.8-2 1.4-3.2 3-2.6 2.1-3.2 .9-2z"/><path fill="#a7ff50" d="M89.3 -3l6.4 0-.3 5-4.9 17-.7 1.3-2 1.7-3 6.9-2 2-2.3 6-3.7 5.1-2 1.7-4 5.9-4 2.6-3 5.7-1.9 1.7-2 .9-2.9 3.3-3.1 2.2-6 5.7-4 2-2.2 2.1-2 4-1.8 1.2-2.4 .8-5.6 6.8-4 1.8-3 3.3-4.9 4.1-4.6 7 1.4 4.9 1.2 1.1 2 0 2-2.8 1-.5 2.9 0 1 .6 1 1.5 2 4.4 3-2.5 3 1.9 7 2 2 2.4 1 .5 2-2 1-.2 3 2.6 2 .8 3 0 2-1.3 1-.1 3 4.7 2.9-3.2 1 .1 3 2.9 1-.6 2-3.7 1-.1 2 5 1 .1 2-2.6 1-.1 2 5.3 1 .1 2-2.4 2 1 2 1.9 1-.1 2-2.1 1 .9 2 3.6 1 .7 3-.2 2 2.2 1 .1 2-1.9 3-4.2 1 .2 1.9 3.4 1 .9 3-.1 2 1.7 1-.7 5-6.1 3 0 2-1.2 2-5.1 2.3-9.8 3.1-25.9 .4-10 .7-5 .3-15.9 1.5-30-.8-17.9 .5-3.6 .2 1.6 .8 1 4.3 10 1.7 2 2.6 5 5.8 4.9 2.5 5.9 3 3.8 2 1.4 2.3 4.9 2.7 3.5 3 2.4 4.1 7.1 5.3 4 4.6 5.9 2.3 1 1.7 1.5 2.6 .5 1.9 4 2.5 1.2 2.9 3.4 5 2.4 2 1.8 2 1 2 2.1 3.7 1.1 2.3 1.9 3 1.4 3-.5 4 2 2 1.8 7 .6 3.9-.4 6 2.4 5-1.2 4 1.3 3-1 5 1.7 3-1 4 .4 3-1.6 7 2.2 1 0 1.9-1.3 3 1 4-.1 3-.9 3 .6 7-1.1 6 .8 4-1.3 2 .2 2-.9 2 .1 4-1.6 1.9 .2 4-1.1 3-2.7 4-1.5 4-2.5 2-.3 3-2.1 1-.5 3 0 0 245.9-3 0-2 1.6-1 .2-6-1.7-2 .9-3-1.3-3 1-3-.5-3.9 1.6-2-.9-5-.3-3 1-3-.5-1 .2-2 .9-1 1.4-1 0-2-.9-2 .8-2-1.5-4-.7-6 1.4-2-.9-1 .5-1 2.8-1 .6-4.9-.1-2 1-3 0-3 1.6-3-1.8-2-.5-2 .4-2 1.7-3 .1-2-.3-3-2-3-.1-3 1-3-1.6-1 .2-3 2.1-2.9-.8-5 .7-3-1-4 1.1-4-1.2-1 0-3 1.4-3-1-3 0-3-2.4-2 2.1-2-.3-2 .4-3-1.2-2.9 .7-5-2.8-3 .2-2-.4-2 .8-3-2-3 1.2-3-1.2-3 1-3-1.1-2 .3-1-.2-2-1.5-4 .3-2 1.6-2 .5-3.9-2.1-2-2-2 .1-2-1-2-.3-3-2-2 .5-3-1.3-3 .9-2-.8-6 .4-3-1.4-3 1.3-2-.7-4-.5-2.9 2.5-4-1.8-2 .8-2-1-3 .1-2 1-4-2-3 2.2-1 .2-2-1-6 .7-3-1.2-1 .2-2 2.1-2-1.6-2-.1-1.9-.8-2 1.1-1 0-4-1.2-5 1.6-3-1.4-2 .7-2-.6-2 .6-2-.3-8 .6-6-.5-7.9 1.2-3-.7-8 1.4-1 0-4-1.8-5 .4 0-236.5 3 0 2-.7 1.1 .2 .9-.4 .5-1.6 .9-1 5.6-.6 3-2.9 4-2.6 4.2-.9 2.4-3 4.3-2.3 1.7-2.7 3.3-3.3 3-1.5 6-6.1 4.5-3 2.5-4.2 5.1-3.8 .9-1 1-2.6 2-1.4 7.2-7 3.7-6.3 6-5.8 3-5.2 2-1.2 1-1.2 1.4-3.2 2.6-1.8 3.5-6.2zM150.6 202.5l-2.9 2.5-2 .2-1 .6-.6 .7-.3 4-1.1 4-1 1.2-2 .3-1 1.6-.5 6.9 1 13.9-.5 1.3-2-.1-2.1 3.8-.5 2-.1 9-2.3 3.2-1.7 8.8-4.2 8.9-13.1 9-22.5 8-.2 1 1.8 5.2 2.1 2.8 1.4 1 15.4 3 3-2.6 1-.1 3 1.5 4-2.7 1.6 .9 1.7 3 .7 .4 2 0 1.4-.4 2.6-3.1 3 2 2-2.6 1-.4 3 6.5 1 .6 1.4-2 1.6-4.6 1-.9 10.9 7.6 4-1.1 2 .5 1-.3 2-3.4 2 .5 2-1.9 5 4.6 3-2.2 1 .2 2.3 2 1.7 .1 3-1.4 6.3-.7 2.6-.7 3-1.5 2 .2 3-.9 3-.1 1.5-1 2.9-8-.2-1-22.1-8-12.8-9-3.1-7.9-1.4-6-1.1-10-2.8-10-.8-5-1-1.6-3-1.2-1-2.1-.3-2 .7-9-1.2-14-1.2-1.6-2-1.3-5-1.8z"/><path fill="#d1ff26" d="M89.7 -3l3.5 0-.1 4-1.3 5.3-2 4.7-2 1.6-.8 1.4-2.9 7.9-3.3 2.3-1.5 1.7-2.9 5-2.2 6-2.4 2.3-2 .3-2 2.1-1 .4-2-.3-1 1.2-1.9 5.9-3 .8-1 .8-1.4 4.5-1.3 2-3.3 2.6-2 .1-2 2.3-3 1.7-2 3.5-2 2.1-3 6.2-1 .6-2-.6-1 .5-2.1 1.9-2.6 4-2.3 .5-1 .8-3 4.2-3.9 1.8-4 3.8-2 2.6-2 3.9-3 3.4-5.9 4.9-2.1 4.5-3 0 0-27.1 3 0 2-1 2-.3 2-3.3 4-.3 1-.5 3-3.1 2-.8 2-1.5 4.9-1.5 2-2.4 4.5-2.6 4.5-5.8 3-1.2 6-6.2 5.2-3.7 2.7-4 5.1-4.2 1-2.5 1-1.1 1.9-1.2 2.1-2.5 4.9-4.5 4-6.5 5.7-5.4 2.3-4.2 3-2.8 2-3.7 2-.4 3.7-6.9zM136.6 10l1.1 .3 1.2 3.7 2.8 3.2 2.8 4.7 5.1 4 2.1 5 3.2 4 2.7 2.6 1.6 3.4 3.1 4 3.3 2.9 3.1 6.1 1.9 1.9 4 2.4 5 6.4 4 2.5 2 .2 2 4 3 1.5 2.9 3.2 2.4 .8 6.1 4 2.5 2.7 2.1 .3 2.9 2.1 4 1.7 3-.4 4 1.8 2 1.8 7 .7 3.9-.6 6 2.4 5-1.1 4 1.3 3-1 5 1.6 3-.7 4 .1 3-1.5 4 1.5 4 .6 1.9-1.2 3 1 7-.8 3 .4 7-1.1 6 .8 4-1.3 2 .3 2-.8 1 .1 5-1.8 1.9 .1 3-.7 2-1 2-2 3-1.1 4-2.4 3-.6 4-2.9 3 0 0 29.6-10 1-5 0-5 1.9-3 0-2.9 1.6-5-.7-4 2.1-2 2.2-1 .3-4-.4-3-2.3-2 2.2-1 .2-6-.5-2-.7-3 .3-3-.9-2 1.1-2.9 .3-3 1.4-3-.4-2.9-1.7-1.1-.1-3 1.3-4 .1-.7 .7 .1 5-.4 1 2 0 3 2.9 1.7-1.9 .3-1 1 .9 1 2.4 .8 .7 4.2 1.4 1 .8 2 3.1 1 .4 1.9 .1 3-1.1 1 .7 2 4 2 2.1 1 .9 3 1.2 3-1.3 4 .4 3 5.9 2-.4 4 4.6 2-.2 2-2.5 1 .4 2 3.3 2 1.7 3 .8 2.9-1.8 1.4 1.4 1.6 6.2 1 .4 1.9-4.6 1.1-.8 1 .6 4 6.2 2.7 2 4.3 5.1 3 0 0 117.5-4 0-2-1.5-1 .2-3 4-3 .8-2-.6-1 .2-2 2.6-1 0-1.8-1.6-2.2-5.7-1 .5-1.9 4-4.9-3.8-3.1-1-1 .7-2 2.8-1 .3-2-1.8-3-1.3-4 4.4-1 .3-2-3.9-1 .2-1 .9-1-.6-3-4.4-1-.3-2 4.7-1 1.2-2 0-3 .9-2.3-4.1-1.6-1.3-1.2 .3-1.1 1-.7 1.8-1 .3-3.9-5.1-1.1-2.3-1-.9-2-.8-7-6.6-2.1-3.3-2.1-10-.2-10-.6-4.4-1-2.2-1-.5-1-2-1-4.9 0-3.5 .8-3.4 2.2-2.6 .3-1.4-.2-6-3.1-3-2-4.4-4-5.1-1-1.1-4-1.4-2.9 1.4-4-4-5-1.9-3-3.1-2-.8-2-1.7-2-.3-3-2.2-3-.4-3-3.4-2-1.2-1-.3-2 1.7-1-.2-2-3.3-1-.7-3 1.3-3.9-3.2-3 .5-4-4.1-2-.3-2 .7-1-.3-2-2.1-3-1.7-3-3.4-2 .4-1-.6-1.1-2.7-.9-4.5-1-1.5-2 1.5-1-.6-1.5-2.9-2.5-8.4-2-.4-1.5-2.1-2.2-21-2.2-4.2-1-7.1-1-3.6-1-1.1-2.1 0 .1-14.3-1.5-8.6-1.5-14.7-2.6-15.2-1.2-12 .2-6 1.6-16zM257.4 123.7l-.7 1 .7 .3 .3-.3zM-3 187.6l0-.4 5-.2 2 1.3 3-.3 1.2 1.6 1.6 4.9 1.2 1.6 2-.1 2-1.4 1 .4 2 5 2-2.2 1-.2 1.9 1.3 2 .6 3 4 2 4.3 3.1 4.7 2.9 1.6 4-1.1 3.7 6.5 8.3 6.9 1.8 6 2.2 3.4 1 .5 3-2.7 .5 1.8-.9 9 .4 6 1 2.5 1-1 1-2.8 2.9-2.4 1 2 .7 5.7-.7 2.3-1 1.2-3.9-2.3-.8 .8-2 8-2.2 4.6-7 1.8-2-.6-2 .1-5 3.6-1 .2-2-.3-2 .5-4-1.3-4 3.8-3 .1-5.9 1.2-3 0-4 1.9-3-.9-1 .1-6 3.2-5 .1zM35.5 300.3l.4-.3 5 .6 2 5 1 .3 2-.6 3 1.8 3-.6 2-1.9 2 1.5 1 .2 4-1.8 2-.4 1.9-1.2 2 .5 2-1.1 1 .1 4 2.4 2 0 2-1.2 1 .1 2 1.8 2 .1 2 1 1-.1 2-3.5 1-.7 4.1 1 2.9 1.4 2-.2 2 1.2 3-.3 7.9 1.3 4-.1 11 1.9 4 .1 2-.9 1 .1 2.2 1.5 1.8 2 9 2.1 3.9 .4 15-2.2 14-2.9 2 .2 2 2.6 1-.9 1.1-2.3 .9-.7 1-.1 2 1.1 3.9 .2 3.7-3.5 2.3-.5 2 .3 2-1 1 .6 1 3.2 1 1.3 1-.7 2-2.7 1-.6 1 .1 1 .6 3 2.7 1 0 2-2.7 1-.6 1 .6 2 2.4 1 .2 1-.7 2-2.9 1-.1 4 3.6 3.9 .3 2-2.7 2 2.9 1-.2 3-3.5 3 .3 2-1.5 3 4 2-.2 2 1.2 2-2.2 3 2.2 4-5.7 1-.3 2 5.3 1 1.2 1-.7 5-8 1 .3 2.9 8.1 1-.6 1-3.1 1-1 3 2.7 5 2.7 1-.6 1-1.6 1-.3 2 .8 1-.3 2-3.1 1-.5 2 .8 3-1.2 1 0 3 1.6 2.5-.2 4.5 3.1 2.5-1.1 2.4 0 2-3.9 1-.8 1.2 .7 1.8 4.5 1 1 1.7-1.5 2.3-4.3 6 3.4 4-4.8 3 0 0 22.3-3 0-2 1.7-2 .5-5-2-2 1.2-3-1.4-3 1.1-3-.6-1.9 .3-2 1.2-2-.8-3 .1-2-.6-3 1.4-3-.7-1 .3-4 2-2-.8-2 .7-2-1.2-4-.8-3 1.1-3 .2-2-1-1 .5-1 2.6-1 .8-.9-.4-2 .6-2-.5-2 1.5-3 0-3 1.6-1.1-.3-1.9-1.8-2-.5-2 .5-2 1.4-3 .5-2-.5-3-1.7-3 0-3 .9-3-1.5-1 .1-3 2-2.9-.9-2 .7-3 .2-3-1-4 1.1-5-1.2-3 1.4-3-.9-3 0-3-2.5-2 2-4 .1-3-1.1-3.9 .2-5-3-2 .4-2-.4-2 1-3-2.1-3 1.2-3-1.1-3 .6-3-.7-2 .3-3-1.6-3-.2-5 2.2-1-.4-4.9-3.7-3-1-3 .1-2-1.5-3-.1-3-1.1-3 1-3-1.1-5 .6-3-1.3-3 1.2-6-1.4-.9 .5-2 2.3-1-.1-2-1.6-1-.2-2 .6-2-.6-3 0-2 .9-1-.1-2-1.7-1-.1-3 2.3-1 .1-2-1.1-6 .6-3-1-1 .1-2 1.9-2-1.5-2 .1-1.9-.9-3 1.3-4-1.2-5 1.3-2-1.2-3 .7-2-.6-8 1-6-1.2-2 .8-3-.3-3.9 1-3 0-2-.8-1 0-2 .9-2-.3-2 .8-4-.1-3-1.6-5 .3 0-11.2 3 0 3-3.2 6 1.8 5-2.9 4 2.3 4.9-.4 4 1.2 1-.3 2-2.1 1-.2 2 1.2z"/><path fill="#feed00" d="M83.6 11l.2-.6 1 1.5 .2 2.1-.6 2-1.6 1.3-1.9-1.3 .1-1 1.8-3.5zM75.8 21l1-.1 1-.9 .1 1-2.5 3.9-1.4 4-1.2 1.8-3 2.6-3 3.5-3 .5-.5 .6-1.4 3.8-1 1.4-3 1.5-2 2.5-3 6.4-3-1.4-2 4.7-2 1-5 4.6-4 8.6-3-.2-2 1.3-3 4.2-2 .7-4 5.1-3.9 2.8-5.9 5.9-3.1 4.8-2 .4-2 2-2 .9-2.1 3.9-1.9 2.3-3 0 0-18.9 3 0 4-1.4 2-3.1 1-.7 3-.3 1-.5 3-3.3 2-.5 2.2-1.6 4.7-1.3 2-2.2 4.8-2.5 4.2-5.7 3.6-1.2 1.4-1 4-5.3 3-2 4-2 1.9-3.7 4.2-4 1.9-3.9 2.3-1.1 1.7-1.9 1-.4 2.9-3.8 2.7-1.9 1.3-3.3 3.8-4.7zM143.1 36.9l1.6-.5 2 .1 9.9 3.8 1.9 2.6 6.1 6 3.4 6 2.6 2.2 3.3 1.8 6.7 8.2 4.5 2.7 1.5 2.4 3.7 1.6 3.2 3.1 6 2.9 2.7 2 2.3 2.8 2 .4 2 1.7 3 .5 2 1 3-.5 4 1.9 1 1.3 1 .5 7 .5 3.9-.7 6 2.4 5-1 4 1.2 3-1 5 1.7 7-.7 3-1.2 4 1.3 4 .6 1.9-1.1 3 1 6-.7 4 .1 7-1.1 6 .8 4-1.1 2 .3 3-.5 3-1.5 3.9-.4 4-1.1 3-2.7 3-1.1 3-2 5-1.2 3-2.7 3 0 0 20.1-7 .4-3 2.6-1 .2-3-1-6 4.1-3 .3-1.9 .8-5 .3-7 3.1-4 .1-4-1.4-3 1-2-.2-3 .8-4 0-1-.1-3-2-4 2.2-5.9-.1-3 .5-3-1.4-5 1-5-.9-2 .4-2-.8-3 1.2-4 2.6-1-.4-3 1.4-3 2.4-1-.3-2-1.8-2.9-.9-1-1.1-1-.4-2 .5-5-4-3-.7-4 .8-4-2.7-3.1-.4-2.4-1.9-1.5-2.8-1 .1-.8 1.7-.4 2.9-1.4 2 .5 7-.2 5-.9 4-1.8 3.8-3 3.4-3 1.6-3.9 .4-4-.8-4-1.6-5-3-5-3.9-5-4.7-8.5-10.2-5.9-8.9-2.7-5-5.8-17.9-3.3-21 0-5 .7-5 1.6-6.7zM29.8 308.3l6.1 .3 3-.9 3.4 1.6 3.6 .4 4-.2 4-1.1 6 .9 3-.9 2.9 .3 3-1.1 5 .7 4-.7 8 1.8 3-1.5 6 .4 2-.4 4 .8 2-.7 3.9 0 3 .7 3-.7 3 .1 5 1 12 1.3 5 3.3 3 .5 6 2.4 1.9 0 2 .7 1.4 .9 .9 3-1.3 2.4-2 .9-1-.3-4.9-3.6-3-1.2-3 .5-2-1-3-.1-3-1.1-3 1.2-3-1.3-5 .8-3-1-3 .6-3-.4-3-1.1-.9 .6-2 2.6-1 0-2-1.6-1-.3-2 .5-5-.4-3 .8-2-1.8-1 .1-3 2.3-1 .1-2-1.2-5 .5-4-.9-1 .1-2 1.6-2-1.3-2 .2-1.9-1-3 1.4-1-.1-2-1.1-6 1.3-2-1.4-2.2 .7-1.8-.4-9 1.1-4-2.2-1 0-3 1.3-3-.3-3.9 1.3-3-.4-2-.9-1 .1-2 1.2-2-.9-2 .8-2-.3-2 .3-3-1.5-5 0 0-6.8 9-.5 5-.8 3 .1 2-.7 5 .2 2.9 .9 3-.2zM164.1 316.2l2.5-.5 4 1.1 4 .5 4 0 2-1.2 4 1 5-.4 5.9 2.4 5-1.2 8 .7 4-.8 4 .9 5-.3 5 1.2 7.9-.4 2-.6 3 .5 6-.5 6 .2 7 2.2 4-1.6 3 .2 4 1.1 4-1.4 3.9 .2 2-.9 2 0 2-.7 4-.1 3-.8 3 .6 3-.4 2 .3 5-.9 4 .4 3-.7 2 .4 2-.7 3 1.1 2.9-.8 6-.3 6 .3 5 1 1 .6 .3 1.3-1.2 5-.9 1-1.2 .4-5-2.3-2 1.2-3-1.1-1 0-2 1.1-4.9-.9-2 1.6-2-.8-3 .2-2-1.1-2 1.8-2 .1-2-.7-5 1.9-2-.7-2 .5-6-1.7-3 1.5-2 .1-3-1.6-1 .6-2 3.4-.9-.5-2 .9-2-1.1-2 2.5-4 .2-2 1.4-1-.4-2-2.1-2-.5-7 2.5-5-2-3 .2-3 .9-3-1.5-1 .1-3 1.9-.9 0-2-1-2 .8-3 .1-3-.8-4 .9-5-1.1-3 1.3-3-.8-3 0-2-2-1-.4-2 1.9-4 0-2-.9-4.9-.1-5-3.4-2 .1-2-.8-2 1.6-1-.3-2-2-3 1.4-3-1.1-8-.4-4.4-2-1.1-1 .2-3 .8-1 2.5-.9 2 1.5z"/><path fill="#ffbd00" d="M143.9 47.9l1.8-.8 2.9 .6 4 2.2 4 3.3 7 7.7 7 9.8 7.6 14.1 3.4 8 1.8 6 .8 5-.3 3.9-1.3 3-2 2-3 .5-3-.7-3-1.7-4-3.2-7.6-8.8-7.4-11.5-5.6-11.5-2.7-8-2.3-12.9 .6-5zM25 72.8l1.9-.5 .7 .5-2.2 2-2.5 3.4-3.9 3.3-5 6-2 1.3-2 2.7-3 .8-3 2.7-4 5.5-3 0 0-13.3 5-.2 3-2.5 1.9-2.7 3.1-.6 4-3.8 3-.7 3.2-1.9 2.7-.2zM339.2 79.8l3 0 0 11.5-5-.4-1 .4-3.1 2.5-1.9 2.7-2-.8-7 4.5-4 1.6-1.9 .2-2 1-3-.3-3 2.9-2 .2-3 1-4-.5-5 .2-2-1-6 2.4-5-1.9-5 1-1.9 1.2-6-.7-3-1.1-5 1.2-3-.1-3-1.2-2 .7-8 1.1-4-1.1-2-1.2-2 2.3-1-.2-2-2-1.9 .1-2-1.3-3 .1-1-.7-2-3.1-1 0-1 1-1-.1-3-2.5-4-.3-5.7-9.3 .5-1 2.2-.5 3 .5 3-.1 3 1.2 2 1.8 1 .3 2-.2 5 .6 3.9-.8 4 2 2 .5 5-1.1 3 1.1 2 .1 2-1 3 1.3 3 .5 9-1.5 8 1.3 2.9-.9 2 .9 6-.6 2 .4 9-1.4 5 .8 5-1.1 2 .6 3-.4 1.5-1.3 1.5-.6 6.9-1 2-1.1 2.4-2.3 3.6-1.4 2-1.7 5-.3zM198.4 81.8l1.1-.6 1 .7 2.6 3.9-.6 .8-2 .4-1-.6zM37.6 310.3l1.3-.2 6 1.6 2 1.2 2-1.3 8-1.1 2 1 3-.2 1.9 2.5 2.4-2.5 2.6-1 3 .6 5-.3 3 2.4 2-1.7 6-1 2 1 1 1 0 1.1 1 .3 0-.6-1-.8 1.6-1 4.4-1.1 7-.2 3.9 .9 2-.5 4 .7 2-.5 3 .4 1.8 1.3 1.2 2.3 .6-.3 .5-2 .9-1.3 2 .2 2-.4 4 .4 2 1.1 1 1.1 .4 2.8-.6 1-.8 .4-5-1.2-2 1.4-4-2.2-2.4 1.6-1.6 .4-3-.9-2 .1-1-.6-3 .7-3-1.7-2.9 3.4-1 .1-3-1.8-4 .5-3-.5-3 .9-2-1.7-4 2.5-1 .1-2-1.9-5 1.1-5-.7-2 1.3-2-1.4-2 .5-1.9-1.6-3 2.1-1 0-2-1.2-3 1.2-3 0-2-1.7-1-.2-1.4 1-1.6-.3-2 .7-4-.1-3 .8-1.6-1.1-2-4.9 .5-1 1.1-.5 2 0zM29.3 311.3l.6-.4 1 .3 .5 1.1-.8 2-.7 .9-2 1-1.3 0-.9-.9 .4-2zM12 312.3l2-.4 7.9 .9 1.2 .5 1.3 2-1.5 1.9-1.9 .6-6-2.3-2 1.7-2-2.1-2-.7-1 .1-.5 .8-1.5 .4-1-.4 2-1.4 2 .3 1-1.2zM-3 313.3l0-.4 3 0 1 1.4-1 1.1-3 0zM180.9 319.2l1.7 .2 2 2.2 4-2 2-.2 3.9 3.2 1 0 3-1.9 2-.5 7 .7 5-.6 4 .8 3-.6 7 1.3 5-.2 1 .1 1.9 1.7 2-1.2 9-1.4 4 .9 5 .2 5 1.9 2-1 2 .5 4-.5 2.8 1.4 .3 1-.2 3-.9 1.7-1 .4-3-.1-2 1.3-1-.3-2-2.4-2-.8-2 1.3-3 .5-2 1.1-3-1.6-3-.2-5 1.2-3-1.6-1 0-3 2-.9 0-2-1.2-2 1-3 .2-3-.9-5 .8-4-1-3 1.3-3-.8-3 0-3-2.4-2 1.8-3 .1-3-1-2.9 .1-3-.7-3-3.2-4-2.7-.6-.9 0-1zM313.9 319.2l1.4-.2 1.8 1.2 .2 1-2 2.9-2-.7-3 .4-.8-.6-.4-2 .8-1 .4-.2 2 .5zM320.9 319.2l1.3-.3 2 .5 2-.5 2.9 2.3-.2 1-.7 1.2-1 .1-3-1.3-2 1.5-1 0-2.6-2.5zM290.1 320.2l1.2 .4 .8 1.6 .2 2-1 .6-2.4-.6-1.3-1 .1-1zM298.8 320.2l1.5-.5 3 0 2 .6 1.3 1.9-.2 2-1.1 .8-3-1.2-3 1.2-3-.6-2.7-1.2-.2-1 .9-1.4 1.4 .4 .6 1.6 1-.3zM333.2 320.2l2 .2 1 1.2 0 2.6-1 .7-1-.1-4.7-3.6 1.7-.9zM282.2 321.2l1.1-.6 1 .1 2 1.5 .3 1-1.7 2-1.6 .6-1.7-.6-.6-2zM274.2 323.2l2.4 0 .7 .7 0 .8-1 2.1-1.9-.5-1 1-.7-3.1z"/><path fill="#ff8900" d="M147.3 55.9l2.3-.2 2 .9 4.9 4.3 5 6.9 3.5 6 3.7 8 2.2 7 .5 5-.6 2-1.2 1.2-1 .2-2-.5-4-3.3-5-6.1-5-8.1-4-8.1-2.1-6.3-.6-5.9 .4-2zM16.2 77.8l1.8-.6 2 .6-2 3-3 2.4-1.9 2.6-8 6-5.1 5.7-3 0 0-9.4 5-.4 3-2.5 2-2.8 4-1.1 3-3.4zM339.1 80.8l3.1-.1 0 6.5-3 0-1.6-1.4 0-1zM330.6 84.8l1.6-.8 1 .1 2.1 .7 .7 1-.8 3-2 1.8-2 .9-2-.6-3 3.1-2 .3-3.7 1.5-2.3 2.2-3.9 1.8-3-.4-1 .3-2 1.8-2-1.5-1-.1-2 3.3-1 .5-5-.9-2 .4-1-.3-1-1.7-1 0-1.6 2.6-1.4 .7-4-.3-3-1.6-1 0-2 2.3-3-.7-1.9 1.5-3 0-6-1.5-3 .9-2 0-3-.8-2-1.4-1 0-2 2.2-4 .1-2-.7-2 1.3-1 .2-1-1.2-1-2.5-1-.7-2 .4-2 2.5-1 .1-2-1.8-1.9-.6-2-2-1-.2-2 1.2-1-1.1-2-4.7-2 .9-1.5-1.5 .5-2 3 .6 1.6-.6 4.4 .1 3.9-.9 4 2.1 2 .5 5-1 2 .8 3 .3 2-1.1 1 .1 3 1.5 3 .4 7-1.5 2 1.1 1-.4 3-.1 3 .7 2.9-.8 2 .8 5-.7 2 .7 2-.6 9-1.2 4 .9 5-.7 4 1.4 1-.3 2.5-3.1 7.4-.4 4.1-3.6 3.9-1.7zM84.8 312.3l3-.3 .7 1.3-.2 1-3.5 2.8-1 .5-1-.2-.5-1.2-.1-1.9 .6-1.2zM97.9 312.3l1.9-.6 4 .3 1.4 1.3-.2 2-1.2 1.6-1 .2-3-1.8-4 1.1-1.2-.2-.4-.9 .6-1.6zM109.4 312.3l1.3-.1 .8 1.1-.2 2-.6 .5-1 .2-.8-.7-.2-2zM35.5 313.3l1.4-.6 2 .4 2-.3 3 .6 1.1 .9-.1 1-2 1.2-2-.4-3 .3-2 .8-1-1.9zM50.3 313.3l.6-.3 2 .5 2-1 2-.1 2 1.4 1-.1 .7 .6-.7 2.3-1 .3-1-1.1-1-.1-3 1.7-2.6-.2-1.3-1-.4-.9 0-1zM67.6 313.3l2.2-.9 3 .6 3-.6 1.3 .9 1.2 2-.7 .9-1.8 .9-4-.9-3 .9-1.2-1.8zM115 313.3l1.7-.8 2 .3 1 1 .4 1.5-.4 .7-1 .5-4-1.1-.2-1.1zM128.6 313.3l1.1-.9 1.3 .9 .1 1-1.4 .1zM189.5 321.2l1.1 0 .9 .6 3 3 6-3 5 .6 2 .7 2-.9 7 .3 2-.7 8 1.2 5 0 1 .4 1.9 2.5 1 .1 1-1.7 1-.5 2.2 .4 2.8-1.6 3-.4 3 .9 4-.1 4 .5 1 .7 .6 2-.3 1-1.3 1.4-1 .4-2-.3-2 1.1-3-1.3-2-.1-6 1.3-4-1.9-3 2.4-.9 0-2-1.5-2 1.2-3 .3-2-.8-6 .7-4-1.2-3 1.3-3-.7-3 0-2-1.9-1-.3-2 1.5-3 .3-3-1.4-2 .3-3.2-.8-1.4-1-.9-2 .6-1.4zM304.3 322.2l.8 1-.8 .4-.4-.4zM282.6 323.2l.7-.6 1 .5 .1 1.1-1.1 .7-.8-.7zM266.4 324.2l1-.1 1.5 1.1 .7 2-.4 2-.8 .5-3-.1-2 1-1-.3-2.3-3.1 .3-1.8 1-.6 2 1.3z"/><path fill="#ff5900" d="M12.9 79.8l1.1-.7 .6 .7-1.6 3.7-8 6.6-5 5.6-3 0 0-7 5-.4 5-4.9 2 .1 2-1.2zM331.8 85.8l1.4-.4 .7 .4 .3 1.1-1 1.1-.8-.2zM233.1 92.8l1.3-.2 6 3.9 1 .1 2-2.1 6 1.1 2-1.2 1-.1 2 1.3 5 1.3 1.3-1.1 3.7-1.1 1 .1 2 1.9 4-1.2 4.9 1 2-.8 2 .6 3-.4 3 .6 3-1.3 4 .2 4-1.3 4 1 2-.3 1.5 1-1.6 4-.9 1-1 .2-6-.8-2-3-1 .2-1.6 4.4-1.4 1-1-.3-2-2-1 .3-1-.4-1-1.8-1 0-1 .7-2 3-1 0-2-1.4-1.9 2-1 .4-2 .3-3-2-7 1.7-2-1.2-2-.3-2-1.7-1-.2-2 3.3-1 .2-4-1.5-3 1-2-2.4-2-1.2-2 .4-2 1.8-1 .3-2-2.1-1.9-.3-2-1.8-1-.1-1 .7-1 0-.5-.4-.7-2 .1-1 .8-1 2.3 .5zM314 93.8l.3-.4 .3 .4-.3 1.7zM74.8 314.3l1 .2 .3 .8-1.4 0zM190.3 323.2l1.2 .3 1 1.1 .5 1.6-.5 .5-1 .3-1.4-.8-.5-2zM201.3 323.2l1.2 0 3 1.1 2 2.5 1-2.6 1-.7 4 1.3 5-1.8 2 .9 2-.4 6 .6 2 .8 1-.3 1 .5 1.7 3.1-.5 1-1.2 .3-2-2.2-2 1.9-3 .3-2-.9-6 .8-2-.3-3-1.9-2 2-1 .2-2-1.2-3 .4-3-2-2 1.2-3 .5-1-.6-.3-.5 .3-1.2zM242.1 324.2l1.3-.8 1 0 3 1.3 8-.2 1 .2 .6 1.5-.6 1.6-1 .5-3-1.5-2 1.3-3-1-3 1.3-4 .7-2.6-1.9-.4-1.2 3-.2zM265.5 326.2l1.9-.9 1 .8 .4 2.1-.4 .7-1 .3-2.9-1z"/><path fill="#ff2500" d="M.7 89.8l1.3-.7 .9 .7-.9 1.9-2 1.1-3 0 0-2.8zM234.2 93.8l1.2 .2 2.2 1.8 .5 1-.7 1.4-1 .3-2-1.7-.5-2zM251.5 95.8l.9-.5 1.3 1.5-1.3 4.1-1 .7-3.9-3.8 .8-1 2.1 .3zM263 95.8l2 0 1.2 3-.8 1.3-4 1.7-1.1-1-.2-2 1-2zM296.9 95.8l.4-.4 .6 .4 0 1-.6 .4zM271.2 96.8l1.8 0 1.3 1-.5 2-2.4 1.2-1-.6-.5-1.6zM288.1 96.8l1.2-.8 1.3 .8-.3 3.5-1 1.3-1-.7-.4-1.1-.4-2zM243.2 97.8l.2-.5 .8 .5 .2 1.2-1-.3zM299.9 97.8l1.4-.9 .8 .9-.8 1.3-1.4-.3zM209.3 325.2l.6 0 .6 1-.1 1-.9 1.1-.9-1.1zM215.3 325.2l3.2-.2 .6 2.2-1.4 1-2.7 0-.7-1zM221.7 325.2l1.8-.3 4 .6 1 .6 .2 1.1-.2 .5-3 .9-2-1-2 .5-1.6-.9zM242.5 325.2l.9-.7 1.9 .7 .2 1-.5 1-1.6 .7-1.3-.7zM254.7 326.2l.7-.4 .4 .4-.3 1z"/></g>
<rect x="0" y="0" width="339.2" height="337.2" fill="none" stroke="#000" stroke-width="1.5"/>
<rect x="384.0" y="0.00" width="17.6" height="67.74" fill="#f10800"/>
<rect x="384.0" y="67.44" width="17.6" height="67.74" fill="#ffc400"/>
<rect x="384.0" y="134.88" width="17.6" height="67.74" fill="#7dff7a"/>
<rect x="384.0" y="202.32" width="17.6" height="67.74" fill="#00b0ff"/>
<rect x="384.0" y="269.76" width="17.6" height="67.74" fill="#0000f1"/>
<rect x="384.0" y="0" width="17.6" height="337.2" fill="none" stroke="#000" stroke-width="1.5"/>
<path d="M0 337.20h-5.8M0 270.66h-5.8M0 204.12h-5.8M0 137.58h-5.8M0 71.04h-5.8M0 4.50h-5.8M0.00 337.2v5.8M67.84 337.2v5.8M135.68 337.2v5.8M203.52 337.2v5.8M271.36 337.2v5.8M339.20 337.2v5.8M401.6 0.00h5.8M401.6 67.44h5.8M401.6 134.88h5.8M401.6 202.32h5.8M401.6 269.76h5.8M401.6 337.20h5.8" stroke="#000" stroke-width="1.4" fill="none"/>
<text x="410.7" y="6.30" class="dv" font-size="16.1">6.2</text>
<text x="410.7" y="73.74" class="dv" font-size="16.1">5.0</text>
<text x="410.7" y="141.18" class="dv" font-size="16.1">3.7</text>
<text x="410.7" y="208.62" class="dv" font-size="16.1">2.5</text>
<text x="410.7" y="276.06" class="dv" font-size="16.1">1.2</text>
<text x="410.7" y="343.50" class="dv" font-size="16.1">0.0</text>
<text x="-9.7" y="343.80" text-anchor="end" class="dv" font-size="16.1">4.0</text>
<text x="-9.7" y="277.26" text-anchor="end" class="dv" font-size="16.1">4.5</text>
<text x="-9.7" y="210.72" text-anchor="end" class="dv" font-size="16.1">5.0</text>
<text x="-9.7" y="144.18" text-anchor="end" class="dv" font-size="16.1">5.5</text>
<text x="-9.7" y="77.64" text-anchor="end" class="dv" font-size="16.1">6.0</text>
<text x="-9.7" y="11.10" text-anchor="end" class="dv" font-size="16.1">6.5</text>
<text x="0.00" y="359.40" text-anchor="middle" class="dv" font-size="16.1">0.0</text>
<text x="67.84" y="359.40" text-anchor="middle" class="dv" font-size="16.1">0.2</text>
<text x="135.68" y="359.40" text-anchor="middle" class="dv" font-size="16.1">0.4</text>
<text x="203.52" y="359.40" text-anchor="middle" class="dv" font-size="16.1">0.6</text>
<text x="271.36" y="359.40" text-anchor="middle" class="dv" font-size="16.1">0.8</text>
<text x="339.20" y="359.40" text-anchor="middle" class="dv" font-size="16.1">1.0</text>
</g>
<text transform="translate(79.8,455.8) scale(1,1.04)" text-anchor="start" class="ar" font-size="28.8" stroke="#000" stroke-width="0.3">(e) 100 mTorr</text>
<text transform="translate(435.4,454.9) scale(1,1.04)" text-anchor="start" class="ar" font-size="28.8" stroke="#000" stroke-width="0.3">T<tspan dy="6.8" font-size="18.3">e</tspan><tspan dy="-6.8" font-size="18.3">&#8203;</tspan> (eV)</text>
<text transform="translate(249.1,875.8) scale(1,1.04)" text-anchor="middle" class="ar" font-size="28.3" stroke="#000" stroke-width="0.3">Phase (2π rad)</text>
<g transform="translate(589.7,475.4)">
<g clip-path="url(#cp)" shape-rendering="geometricPrecision"><rect x="-1" y="-1" width="341" height="339" fill="#00009b"/><path fill="#0000da" d="M-3.3 -3l.3-.3 345.2 0 .3 .3 0 343.2-.3 .3-345.2 0-.3-.3zM24.9 121.4l-1.2 2.3-.7 4 .9 5 1 1.5 1.3-3.5 .4-5-.7-3.7zM75.8 69.8l-10.3 11-2.6 1.9-6 2.9-7 5.9-6 6.1-4.1 6.2-2 4.9-1.6 9-2.3 3.8-.6 2.2-.6 4 0 8-4.3 14.9 .6 5 .4 1 1.5 1 1 .5 1-1 1.2-4.5-.3-8.9 1.2-5 1.2-12 .7-1.8 2.3-1.2 .4-1 .2-6 1.1-1.8 1-.5 .3 3.3-.5 6 2.3 6 .6 7 .3 1 1 .3 2-2.7 .2 .4 1.4 8 .4 5.6 1.5-4.6 3.5-4.3 1.7 1.3 1.3 1.7 2 5.6 2 .9 2.9-.4 2 2.3 .8-1.2 .2-3.9-.5-2-1.5-1.7-.1-1.3 .1-1.1 1-.9 1.1 1 3.3 9.9 1.6 1.7 1-3.7 1.3-9.9 1.4-5 2.3-5.3 1.9-1.7 .3-1-.1-3 1.8-9-.2-6 .9-8.9-1.6-15.8-5-12.2zM38.9 142.8l-.9 3.9 .9 4.5 1-1.3 .5-3.2-.5-3.2zM55.9 149.4l-3 .8-1.4 6.4-.1 3 2.5 5.6 1-.3 .4-1.3 1.9-9 .3-5-.6-.9z"/><path fill="#0004ff" d="M-3.3 -3l345.5-.3 .3 343.5-345.5 .3 0-183.8 3 0 .4 .9 1.1 5 .5 9.7 1 1.6 2-7 3-2.5 2-.4 .4 .6 .6 3 0 7.4 1 3.1 1.1-1.5 .8-6 2.1-4.6 .6-8.4 .4-1.6 1-.8 1 .4 2 2.6 1.9 0 2.3 6.4 .7 4.5 1-.2 3-3.8 1 .4 2 4 1-1.4 1-4.9 1-1.8 2 5.5 1.4-1.3 1.6-3.8 .3 8.8 .7 4.9 1-1 1.1-2.9 .8-8 1.1-2.9 2 4 1.2 4.9 1.8 16.1 1-1.1 2.4-11 1.6-3.3 1-.3 .5 .6 .9 7 1.6 5.2 1 .1 1-1.9 1.9-.2 2-8.4 2.6-4.8 1.1-9 1.1-2 .2-.2 1 1.3 2 6.2 1-1.9 1-8.4 1-.7 2 10.9 1 .1 1.4-6.3 3.6-7.9 1-.2 2 2.1 2 4.7 .9-1.7 0-11.9-.7-5-.1-7 3.7-12 1.8-19.9 .1-19-.7-9.5-2-12.5-5-4.2-1-.2-11 1.2-3 2.1-9 10.5-13.9 11.5-13 13.2-4 3.4-4.2 2.5-4.8 4.9-4.9 3.4-5 8.1-4 2.5-2 3.6-1 .8-2-.1-1 1.8-2 6.5-1 1.4-1 .5-3 0zM25.9 175l-1 2.3-.4 3.3 .4 3.5 1 2.8 1.1-.3 .9-6-.6-3zM85.7 130.7l1.1-1 .8 2 0 3-.8 3-1 0-.2-1zM-3 135.7l3-.3 0 6.2-3 0zM10.9 146.7l.1-.6 .8 1.5-.8 4zM44.3 154.6l.6-.9 1 1.2 0 2.7-1-.5zM59.8 157.6l1.1-.6 1 .7 1.3 2.9-.2 9-1.1 2.3-1.6-2.3-.8-2-.2-7z"/><path fill="#003cff" d="M-3.2 -3l345.4-.2 0 138-3 0-1 1.9-2.3 18.9 1.3 4.7 1-.3 1-4 3 0 .2 184.2-345.4 .2 0-160.4 3 0 2 9 1 1.8 2 .9 .5 2.8 .1 7 1.4 4.4 1 1 1-3.9 .9-8.5 1.1-3.8 2 .4 2-.9 1-2.6 0-1.7-1.4-1.3 .3-1 1.1 1.1 2.4-3.1 .9-2-1-8 .7-2.8 1 .1 1.2 3.7-1 7 .4 3 1 3 2.6 4 .6 2.9 .2 4 .9 2.2 1-2.1 .6-4.1 1.4-4.1 1-.5 2 3.4 1-.4 2-2.3 1-.2 1.3-6.8 .7-1.5 1-.5 1.3 2 .9 7-.1 4.9-1.4 7 .4 5 .9 3.2 2.3-9.2 .7-.9 2-.3 2-3.9 1-.4 1 .4 2 2 1-.7 1-2.1 1-.1 2.4 2 2.3 3 1.3 0 1-1.8 1.9-8.8 2-3.9 1-.1 1 3.1 1 .5 2.3-10.9-.5-3 .2-6.7 1-.4-.2 6.1 2.3 9-.2 11.9 1.1 2.6 2.8 2.4 1.2-.6 1-7.4 2-2.9 .4-2-.4-3.4-2-2.9-.1-1.7 1.4-2 .5-7 1.1-5 2.1-5.4 1-.9 1.4 10.3-.8 18 .4 3.2 1-.2 1.4-6 .6-1.1 2-.1 .7-1.8-.6-8 .7-12 1.2-2.9 1.3 1.9 0 4 2.7 7.1 1-2.7 0-3.8-2.6-22.5 1.4-13 1.9-28.9 .3-34-.3-7.9-1.7-9.1-2-6.7-2-1.4-5 1.6-4 .5-9 7.5-12.9 14-13 11.3-15.6 15.2-14.3 10-18 13.8-2 .9-3 0zM19 196.8l-1.2 7.7 .2 2.1 1 2.5 1-.5 1.1-7.1-1.1-4.2zM68.8 187.7l-1 1.2-2.2 9.6-.3 2 .5 1.5 1-1.9 2 1.3 1-.4 1.1-1.5 1.4-4-.3-2-2.8-3.9z"/><path fill="#0070ff" d="M-3.2 -3l345.4-.2 0 122.8-3 0-2 2.1-4 5-7.2 11-2.8 6.7-.8 6.2 .3 4 1.3 3 .5 3 .7 24.9 2 8.4 2 3.7 1 .3 .7 8.6 1.3 3.2 1-1.2 1.2-3 1-4 .3-6-1.3-6.9 .8-6.7 4-3.9 3 0 0 19.1-3 0-.2 .4-.4 8 .6 2.8 3 0 .2 131.9-345.4 .2 0-95.8 3 0 .8-1.2 1-6-.5-2-1.3-2.1-3 0 0-14.5 3 0 1-.7 1.2-2.6-.1-4 .9-1.3 1-.3 1 .7 .3 .9 1.1 11 .6 1.8 1-.5 .5-1.3 .6-5 .9-3 5-2.4 .7 2.4-.2 5 .5 3.5 1 1.9 1-.1 2.6-8.3 2.3-6.4 1-1.5 1 2.9 .8 5-.4 8 .6 8 1 3 3 2.9 1 .2 1-2.5 .7-6.6-.9-7 .2-2.3 1-1.7 2 1.7 1-1.1 1-3 1-1.3 1 .9 1 2 1.2 5.8-.3 9.9 1.1 4.4 .8-1.4 1-6.9-.9-7 1.7-9-.6-5 1-1.8 .7 5.8 2.3 2.6 .6 1.4 1.1 8 2.1 6 2.2 1.7 2 .3 3 2.6 1-3.8 2-14.8 1-3.1 .9-.7 3 4.8 1 0 2.2-7 .7-5 1.1-1.3 1 0 3-1.7 2 1.3 1-.3 1-1.4 1.2-.6 1.2 2 1.6 7.1 3 8.2 .9-1.3 1.1-14.3 1 0 1 1 1-.7 .8-4 1.2-12.6 3-7.2 2.1-3.1 2.3-8-.6-7-1.8-11.3-.7-8.6 .6-4 1.5-4 1-5-.1-6 1.6-22.9 .2-41.9-1.9-18-1.2-6.4-1.7-2.6-2.3-1.5-4 .5-16 14.6-13.9 15-28 26.3-30.9 22.1-3 1.5-3 0zM47.9 232.1l-1 .6-.5 4.7 1.6 4 .6 5 2.3 6.4 1-1.5 .7-3.9-.9-7-.5-2-1.4-2zM70.8 225.8l0 2.7 .8-1zM73.8 208.4l-1 .9 0 1.2 .1 1 .9 1.3zM70.8 237.6l-.5 2.8 .5 1.4 1 .3 .4-1.7-.4-2.8zM331.1 183.6l.8 1 0 2-.7 6-1 1.6-.3-6.6 .6-3zM-3 190.5l0-.3 3 0 1.6 8.3 0 6-1.6 5.1-3 0zM54.6 204.5l.3-.9 2.7 6.9-1.1 4-1.6 1.7-1-.5-.5-3.2 .3-4z"/><path fill="#00a8ff" d="M-3.1 -3l345.3-.1 0 114.7-3 0-2 1-17 11.9-2.6 4.2-2.3 2-4 6.7-4 4.3-2 4-.5 4.9 .5 3.9 1 1 2 4.1 2 2.7 .4 2.3-.4 5.8-1 .7-1-1-.3 1.5-.4 11 1.7 10.4 2-2 2 3.6 1-.8 1 .3 2.6 9.4 0 7-1 12 1.1 4 2.2 4 3.4 7.9 .2 13 .4 3.8 1 0 2-1.7 1.1 .9 .9 3.3 1 1.5 1-6.2 1-.7 1 .9 1-1.1 1.1-5.7-.3-7 .2-.7 1-.3 1 1 .6 2 .3 2-.5 4 1.5 4-.2 1-2.5 4 .1 2 1.7 3.7 1 .6 3 0 .1 77.5-345.3 .1 0-80.9 3 0 1 1.3 1-.2 1-1.6 .7-2.5 .7-8-.2-5 .8-6.5 1-1.7 2 .1 1 1.1 .7 5 1.3 5 1 1.2 1 .3 2 3 2 1.8 .5 1.7 .4 6 2.1 1.9 1 0 .8-1.9-.3-4 .5-8-.9-15 .2-7.9 .6-4 1-.2 2 18.1-1.3 9-.1 12 1.4 .6 1.6-1.6 3.8-9 3.6-5.3 1.6 6.3 .2 6 1.2 1.9 1-.3 2-5.3 1-.9 1 .2 2 2.3 2-3.1 1-.4 1.1 .6 1.6 7 1.3 2.5 1-.8 1-2.1 1-1 1 .2 1-.6 1.5-11.2 .5-1.2 1 .3 1.5 1.9 .3 2-1.6 5-.1 3 .9 2.1 2 .1 .1 .8-.1 2.7-1.6 4.3 .6 5 1 2.1 1.9 .2 1.3 .6 1.7 8.2 2 3.6 1.1 .2 .1-2-1-4-.7-11.9 .9-5 .1-4 .6-2 .9-1.8 1 .3 1 1.7 1 .7 1-1.7 1.9-6.2 1.2-2 .9-7.8 1-1.4 2-.9 3-8.8 1 0 1 .9 1 .2 .8-1.1 1.2-9 1-.1 1 2.8 1 .6 2-1.6 1 .8 1-1 1.3-5.5 1.2-9 .2-9 .8-3 1.5-1.6 1-8.3 1.1-24-1.3-11-.4-8.9 .5-3 2.4-7 .4-3-.5-12 .9-16.9 0-14 0-29.9-1.6-22-1.4-6-1.8-5-1.3-1.7-3-1.2-15.4 12.9-18.5 20.2-29 27.4-15.9 11.5-15 10.1-3 1.6-3 0zM154.6 269.2l-1 6.4-.5 9.7 .3 8 1.2 3.8 1 0 1.4-2.8 .6-9-1.4-11.9-.6-2.7zM315.3 231.6l-.9 4.8 .9 4.7 1-.9 .3-2.8-.3-3.4zM12 265.9l-1 1.5-2 8.9 0 4 1 1.5 1-.2 1-1.2 .5-2.1 .2-8.9zM28.9 264.6l0 4.9 .8-1.1 0-1zM40.9 276.2l-1 .4-.4 1.7 .4 2.6 1 .9 1.1-3.5-.1-1zM56.9 272.6l0 4 1 1.6 .2-4.8-.2-.9zM85.8 244.7l-1 1.9-.4 2.8 .4 2.1 1 1.7 1-.6 1.3-2.2 .5-2-1.4-3zM97.5 186.6l.3-.4 1 .1 .6 8.2-3.6 7.7-1-3.8 0-5 1-4.7zM79.7 209.5l1.1 0 .5 2 .1 3-.6 1.7-1-.1-.8-2.6zM330 228.5l.6 0 .6 1-.7 6.9 1.3 7-.6 6.4-1-.5-1-1.4-1.4-5.5 .9-6 0-4.9zM61.8 233.4l.1-.7 .5 1.7-.5 3.4zM67.4 249.4l.4-.8 1 .3 .4 1.5-.4 1.7-1 .1-.4-.8zM63.2 252.4l.6-.5 1 .5 .2 1-.6 2-1.5 1.4-.7-2.4z"/><path fill="#00dcfe" d="M-3.1 -3l345.3-.1 0 109.2-3 0-3 1.2-17 8.3-17.3 9.1-4 4-2.6 6.5-2 2.7-1 3.5-1 7.8-1.3 2.4 .3 7 1 7 .9 30.9 2.1 7 1.7 13-.3 4-1.4 4.2-.8 8.7 .8 19.3 1 1.6 1-4.9-.5-6 .8-6-.4-5.9 .2-1 .9-1 1.1 2.9 1.1 13 .8 1.4 1-.2 1 1.1 .8 2.7 .6 11 1.5 10 1.1 1.5 1 0 .7-.5 2.3-7.8 1 .1 3.3 10.6-.3 6-2 2.2-1 3.3-.4 10.5 .4 2.4 1 1.7 1.3-12.1 .7-1.7 1-.9 1 1.7 1 3.9-2 12 1 2.8 1-.5 1-2.3 .7-11 .8-4-1.3-15.9 .7-2.8 1-.2 2 8.9 1.1 12-1.3 12 .1 2 1.1 1 .6-4 1.4-2.9 2.9-1.1 1.1-2.1 1 .6 1.2 14.5 .8 2.9 1 .9 2-.3 1-1.8 .2-4.7-1.3-7 1.1-8.1 2 .8 4 .1 .1 46.1-345.3 .1 0-51.3 3 0 2 8.7 1 .8 2-2.6 .5-2.6-1-7 .4-6-1-11.9 .7-3 1.4-1.9 .7 .9 .3 1.6 .4 18.3 .7 2 2.6 2 1.3 3.8 1 .3 2-2.9 1 .3 .1 .5 0 4 .5 1 1.4-.1 .4-.9 .8-4 .6-11-.5-5.9 .7-1.9 1 .7 .2 1.2-.1 6.9 1.5 9 2.3 5.6 1-.8 .7-1.8 1.3-1.4 1-.4 3 1 1-.5 .3-1.7-.7-5 .2-2 2.2-4.4 1-1 1 4.4 .3 6 .7 2.2 1.1 .8 .3 4 .6 1.5 1-.9 1-5.1 1-1.3 1 .2 1.3 2.6 1.7 9.4 1 1.2 2-5.4 1 .5 1 2.3 1-1 1-5.5 1 .8 .5 12.7 1.5 4.1 1-1.5 1-5.8 1-.6 2 4.8 1-2-.7-15 1.6-5.5 1 .9 1.4 5.6 2.6 1.7 1 1.3 1 .1 1-1.3 1-.4 1 .7 1-.5 .7-3.6-.7-6.1-2 1.8-1-2.1-.7-3.6-.4-7.9 1.1-2.6 2 .6 .6 1 1.4 8.5 2-2.6 1.4-1 1.6-3.7 1-.1 .7 2.8-.1 5-.6 2-1 .2-.4 3.8 .3 8 1.1 2.3 1-3.3 .6-1 1.4-.8 1.1-2.2 .7-3 .2-4.8 1-1.1 1.1 5.9 .9 1.3 1-2 2.5-10.3 0-7.9 .8-6-.2-6 1.8-7 2.4-6 .8-9.9 2.1-8 .6-17 1.8-6 .4-2.8 2-36.1-.1-7 1.2-7.9 .6-24 1.2-16 .2-48.8-.9-23-1.1-9-2.1-8.5-2.9-5.4-1.1-.1-5 3.6-13 11.8-7 7-15.2 17.6-27.7 26.2-14.9 10.8-14 9.1-4 2.2-3 0zM154.6 263l-1 1.4-1 4.5-.7 19.4 1 13 .7 2.4 1 .8 1 0 1-.4 .9-1.8 .8-4 .6-5 0-9-1.3-12.9-1.7-7zM14 295.9l-1 .5 0 2.2 1-.7zM328.8 276.3l.4-.7 1.6 1.7-.3 3 1 4-.5 6-.8 2.8-1 .3-1.2-5.1 .2-4.7 .7-3.3zM53.8 282.3l.1-.3 .6 1.3 .4 2 0 2-1 1.7-.6-3.7z"/><path fill="#26ffd1" d="M-3 -3l107.6 0 0 3-2.8 1.2-2 1.5-17 17.9-23.9 28.6-25.9 24.6-9.2 7-21.8 14-2 1.1-3 0zM106.1 -3l236.1 0 0 104.6-3 0-14 5.3-28.9 9.1-2.2 2.7-1.8 9.6-1.7-5.6-.3-.5-1-.2-4.5 8.7 0 9-.9 9.9-1.1 3-1.8 3-.8 4 1.5 9 .5 14-.7 9.9 .7 14-.9 17-1.4 5-.3 3 .3 38.9-.7 9.9 .9 9 1.4 4 .5 4 1.3 2.6 2 2.1 1.4 5.3 1.6 3.4 1-.3 1.5-4.1 0-11 .5-5.1 2 3.7 2 .4 .4 1 3.5 16 1.1 2 2-1.6 3 1 1-.5 2-6.2 1 2.5 1.3 6.8 2.7 3.4 1 .3 3-5.7 .9-.5 2 1.4 1-.2 2 1 1.1-1.7 1.9-9 1-.5 1 .7 1 2.7 2 10.1 2 2.2 1 .3 2-.4 1.3-3.2 .7-9.9 1-1.7 3 0 0 35.6-345.2 0 0-36.6 3 0 2 3.9 3 1.9 2-3.2 1 .5 4 6.9 1-.4 1.9-1.9 2.1-4.8 2 2.4 2.9-5.4 1 1.7 1 3.5 1 1 1.6-1.4 1.4-2.6 1 .8 2 5.3 1-.8 2-10.2 2 4.2 2-.4 1 .4 2 3 4 2.2 3-2 2-3.2 1 1.1 2 5.9 2 .5 4 11.8 1-.3 3.9-14.6 1-2.3 3-4.3 1 .6 1 1.6 3 .1 2 5 3 2 2.6 4.1 1.4 1 1.2-1.9 1.8-9.8 2.3-7.2 1.7-1.3 2-.1 1-1.5 3-12.1 1-11.2 1.7-5.7 1.3-14.6 2.5-12.4 2.3-27.9 1.8-11 2.2-36.9 2-14 .2-26.9 1.1-1 .6-21.9-.1-65.9-.5-12.9-1.2-13.2-1-5.3-1-1.5-1.6-1zM154.6 258.5l-1.5 2.9-1.2 5-1.5 20.9 .2 11 .7 7 1.3 6.6 1 1.7 1 .2 2-.5 1-1.2 1-2.9 1.4-8.9 .4-10-.3-10-1.8-13.9-1.7-6.5-1-1.3zM284.9 213.5l.4-.3 .8 5.3-.7 3-1.1 1.3-.5-1.3 .4-6zM282.2 235.4l.8 4-.7 7.5-1.1-1.5-.4-3 .2-3zM77.4 293.3l.4-.8 1.2 4.8-.2 2.5-1 1.4-1-1.2-.3-2.7 .3-3.1z"/><path fill="#50ffa7" d="M121.6 2l4.1-1 5 .3 4 .8 5 2.6 4.1 4.3 4.6 7 5.9 11.9 2 6 5.3 20.4 2.7 5.6 3.3 4 19 14.3 4.7 2.6 8.9 4 25.9 10 9.3 2.9 33 8.5 7 3.7 1.6 1.8 1.3 3.3 2 1.8 1 2.5 1.3 18.4-.3 7-1 2.6-2 1.6-.9 7.7 .1 7 1.9 12-.1 9.2-1.9 8.7 .9 5.8 0 5.2-1 3.1-2-4.7-3.9 7.6 0 11.5 1 2.4 1.1 .1 .5 1-.9 4 .3 4.3-1 .7-1-1.6-1 1-.6 2.5-.9 12 .3 5-1.2 4-1 7 .1 5-1.7 4.9-5.6 12-3.1 5-3.3 3.2-4 6.7-.3-1.9 1.2-6-.9-2.9-1 .6-.3 1.3 .1 6-1.8 2.9-1 3.6-1 .4-1-1.2-2-.5-2-2.5-1-.3-3 2.5-3 1.6-2.9-.5-2 1.7-4 .3-4-.7-7 1.2-1 .6-2-1.9-2 1.2-2-1.7-2.5-3.7-2.5-6.6-1-1.4-5.5 13-4.4 4.3-3 .5-4-4.4-3-2.2-1 0-.7 .8-3.3 4.7-2-.9-4 .4-4-2.4-1-1.1-1-2.9-2.3-28.8-1.9-12.9-1.8-6.1-2-2.9-1-.3-1 1-1.4 3.3-1.8 8-1.3 15.9-1.4 28-2.1 8.9-2.5 6-2.4 2.3-2 2.7-1 .8-6 .5-2-.5-3-2.6-3 .3-1-.3-5-5.5-1-.9-3-.9-2-2.9-4-4-2.9-1.6-2-5.2-2-2.1-.6-2-.1-10-.6-5 .4-9 .9-7.9 1.4-7 4.2-51.9 2.2-19 1.3-19.9 3.4-27.9 0-13 .4-8 .5-1 1.3-52.9 .1-35.9 3.4-25.9 1-3z"/><path fill="#7dff7a" d="M124.7 4l2-.4 3 .3 5 2.2 4.3 3.9 4.2 6 7 13.9 8.4 29.4 3 5.9 3 3.2 9 5.6 8 7.4 4 3 17.9 8.6 21 8.3 9.9 3.4 16 4.3 3 1.4 5 1.5 11 5.2 1.2 1.6 .9 3 .5 9 2.4 17.9 0 3.2-1.6 3.8-.5 4 .8 12-.5 7 .3 8-.5 3.1-2.2 5.8-1.7 16-2.8 11-.7 7-2.6 6.3-2 8.7-1 1.4-1.4-2.5-.6-.5-.2 .5-.5 6-1.3 7-1 3.9-1 1.4-1-.3-1-3.2-3.4-3.8-1.6-6.5-1-1.7-1-.1-1.7 10.3-.1 10-1.2 2.6-3 .7-1-.4-2-4.4-1.2 4.5-3.7 6-1 .1-.9-1.2-.1-1.9 1.3-6 1.8-4-.8-3-1.3-1.2-1.5 1.2-3.1 5-1.2 11.9-1.2 2.3-1-.2-.7-2.1 .1-5.9-1.4-3.3-1-.4-3 11.5-2-1.4-1.3 .5-.7 1.8-.7-.8-1.3-7.2-1-1.4-2-.4-2.1-3.9-.7-5 .3-7-1.5-6-.8-8-1.2-3.4-1 .6-1.5 9.8-.1 6-1 6-.6 9-1.9 11.9-1.9 6.2-1 1.4-.9 .2-1-.8-.8-2 .8-7.1-1-1.3-2 2.5-1-.3-1-1.3-1-3.1-1.6-25.3 .1-5-.5-1.5-2-1.9-1-1.8-1-.4-.5 1.6 .3 11-1.2 8-1.6 5.9-1 2.1-2.6 2-2.4 8.4-1.5 3.5-1.5 2-1-.5-.8-3.5-1.6-11.9-.2-6-1-5-1.1-3-3.3-5.9-1-1.6-1-.2-4.7 7.7-.6 2-1.7 19-.8 16.9-4.3 21-1.1 3-3.7 5.5-5 1.2-4-3.2-1-.1-2 .9-1-.1-3-6.1-3-4.2-1-.7-2 .2-1-.8-1-1.8-1.9-8.8 .5-6-2.2-23.9-.4-1.5-2 0-.6-1.5-1.6-13 1.1-10 1.7-7 .4-7.9 2.1-6-.5-10 .9-7-.6-5 2.6-8.9 0-19 1.8-8 .9-8 .3-15.9 1.3-13 2-51.9-.7-33.9 .3-9 2.5-19.9 1.3-4z"/><path fill="#a7ff50" d="M125.6 7l1.1-.5 3 .4 4 2 4.1 4.1 4 6 5.6 10.9 9.2 31.4 2.7 6.5 2.3 3.3 2 1.3 6 2.4 3 1.9 3.3 3.1 5.7 6.7 3 2.2 8.9 3 10 6 10 3.8 8.4 4.2 9.6 3 3.9 2.1 4 1 3 1.6 4 .7 4 2.2 3 3.3 6 2.4 2 2.3 .6 1.4 1.4 9.1 3.4 5.9 .5 3-.4 13.9-.7 9-1.4 6 0 5-.4 1.3-1 .6-4-1.7-.5 .8 0 1 1.5 1.8 .7 4.2-.4 4.9-1.1 4 .4 6-.4 3-1.2 2.7-2.4 1.3-2.6 9-1 .9-1-.8-2.4 4.9-.6 14-1 .7-1.1-.8-1.2-2 0-2.9 1.3-4.1 .8-4.9-.8-2.2-2 .3-1-3.4-1 .4-.6 3.9-1.4 4.1 .3 8.8-1.3 3.3-1-1.4-2-12.2-1-1.2-2.9 10.4-1.2 6.1-.8 1.3-2.9 1.7-2.1 4.8-1 .2-2-1.9-3 6.8-2.2 1.1-.8 1.9-.4-1.9-1.6-1.6-1 0-2 1.1-1-.6-2.6-8.9-2.1-3-.1-4-1.7-3-2-12.9-.5-1.6-1-.3-2.2 3.9-1.2 9-.6 1.7-1 .6-.5 1.6 1.1 4-.6 4-3 5.2-4.9 3.7-1-3.9 .8-7-.1-3-1.7-5.2-1-1-1 .2-.9-1.9-1.1-8.2-1-2.8-1 .6-1.5 2.4-1.5 1.1-1 1.9-1 7.8-1.7 7.1 1 11-1.3 5.3-1-.3-2-2.6-1 .1-1 1.8-1-.5-3-6.6-4-4.5-2-6.5-1-1.1-2 1.9-1 .3-3-2.9-1 .8-.7 1.8-1.4 9-.8 17-1.7 7-2.6 31.9-2.1 6-2.6 5.6-1 1.2-1 .4-2-.8-2-2.4-1-.3-2 0-3 1-1-.8-2.1-3.9-2.9-9-2.1-4-1.9-9-1.8-4-1.2-17.9 0-2 1.3-5-.6-18 .8-13.9-.7-15 .2-2 2-6 .5-32.9 1.2-8 4-66.8 .6-27-1.2-27.9 .1-9 2.2-17.9 1.1-4z"/><path fill="#d1ff26" d="M126.7 10l2-.3 2 .6 4 2.8 3.9 4.9 5.9 9.9 2.9 8 9.2 33 3 6.6 2 1.2 6 .4 4 1.8 3.8 3.9 5.2 8.6 2 2 2 .6 5-.2 3.9 1.1 4.3 2.9 4.7 4.4 2 1.1 6 1.3 2.7 1.1 8.3 6.7 6 .2 4 1.9 3.9 3.9 4 2.3 3 4.8 1 .2 2-1.2 .6 2.2 .6 9-1.3 5-.3 7.9 1.4 1.3 1.2-.3 .7-1 1.1-5.3 3 1.6 1.3 3.7 .1 12-.4 1.1-2 .2-1 2.4-.2 13.3-.8 3.2-1 1.9-2 1.2-1 1.5-1 0-1.3-4.8 .9-6-1.2-3-1.4-1.9-1 1.4-1.1 3.5-.9 5.6 .1 1.4 .9 1 .7 2-.6 3-2.1-.4-1.5 3.3-.5 .5-1-.3-1 .9-1.2 2.9-.4 4 .7 .9 2.9-1.6 1.4 1.7 .3 3-.7 3.3-1 .7-1-.2-.1 3.2-1.7 8-1.1 3.9-1 1.7-1.8-7.6-2.2-4.7-1 .5-1 3-1 .8-2-3.7-1 .5-1 5.7-1 1.4-3 2.2-2 6.2-1 1.4-1.8-3.3-1.2-.3-1-1-3.2-9.7-.8-6.1-2-1.1-2 1.4-1.4 2.8-1.6 1.7-3 .7-1.9 7.6-1.3 8-.7 2-1 .8-1-.6-1-2.1-3.6-13.1-2.5-7-.9-1.8-1-.4-1 1.2-1.5 4-2.8 5-1.7 5-3 3.5-3-.9-3-2.9-2 0-2-4.5-1-.5-2 3.1-3 6.8-2-5-1-1-2.9 9.6-1 4.7-1.5 12 0 8-1.8 8-1.7 12-1.4 25.9-2.6 5.9-1 1.7-1 .6-2-2-1-.4-6 .6-1-.3-1-1.2-1.2-2.9-1.2-6-2-5-.6-8-2-6 .3-3 1.6-5.9-2.7-11-1-15 .7-20.9-.6-9 1.6-14 .6-27.9 1.3-7 1.2-30.9 2.1-22 .8-15.9 .4-27-1.7-28.9 0-9 2.2-15.9 1.2-3.8zM241.4 152.2l-2.1 3.4-.7 3 .3 4 1.5 1.2 1-1.7 .6-3.5 .4-6zM254.2 171.6l.4 1-.2 1.8-.5-.8z"/><path fill="#feed00" d="M127 14l.7-.8 2 0 4 2.3 4 4.8 5.4 8.6 3.7 11 9.3 36.9 1.4 4 1.1 1.6 2 .4 6-2.5 2 .1 2 .8 2 1.7 2.1 2.9 2.2 5 2.7 8.2 1 1.7 1 .7 2-.6 5-3.3 2-.2 1.9 .3 2 1.1 2.2 2.1 4.8 7.4 1 .9 2 .5 5-1.1 2 .6 2 1.6 1.7 2 3.3 6.4 2 2 6-3.1 2 .3 1.9 2.4 2.9 6 0 7 .8 8-.5 6.9 .4 16-1.5 5.5-2-1.4-1 1.9 .1 5-1 3-1.1-.1-1-1.5-2.2-5.4-.8-.5-2 1.2-2 .3-1 3 .1 3 .9 2.5 1.4 1.5 .3 2-.5 5-.8 2.9-.4 .8-3-3.2-1 .1-2 2.3-2-1.8-1 .4-1.4 3.4-1.6 6.3-.9-5.3-1.1-3-1-.7-1 .4-2 3.6-1-.7-1-9.1-1-1.7-1 1.5-.7 3.8 1 5.9-.3 3.5-1 2-2 .3-2 3.4-1 8.8-1.9 6.5-1-1.6-3-11.7-2-1.2-4-8-2-1.1-1 .9-1.7 4.2-.3 2.9-.6-6.9-.4-1-1-.4-1.9 11.4-4.1 4.9-1-.9-1-2.4-1 .8-1 3.7-1 .1-1.2-3.2-.8-5.8-1-.2-2 6-.6-1-.5-4-.9-2.2-1-.1-3 2.2-1 3.1-.6 7-3.6 15-.6 8.9-1.4 8-.4 7-1.5 7-1.3 10-1.2 19.9-1.2 9-1.1 1.7-1 0-1-.7-3 .5-4-.9-1-.4-.5-1.2-3.4-16-.2-13.9-1.9-8-.6-6-.2-11 .3-7-.5-5 .5-6.9-1.4-13 .7-32.9 .4-4 1.7-6 .7-6 .3-7-.6-9 .2-12.9 2.5-19.3 1-22.6 0-24-2.1-28.9-.1-8 2-13.9z"/><path fill="#ffbd00" d="M128.3 17l2.4-.1 3 2 6 7.3 2.6 4.7 2.6 8 3.2 13 6.6 30.9 1.1 4 1.5 3 1.3 .7 1-.4 4-4.3 3-2.1 3 .1 2 1.4 2.3 3.6 1.6 5 1.5 9 .7 8.9 .9 3 1 .1 1-1.3 6-10.2 2-1.8 2-.8 2.9 .8 2.8 3.3 1.7 3.9 2.5 8.9 1 1.1 7-5.8 2 .1 1 .7 2 2.8 1.6 4.2 1.6 10 .5 7-.3 2-1.4 3-1.3 12.9-1.4 5 .1 7-2.4 4.4-2 13-2-7.9-1-1.9-2 0-1-1.2-1.7-9.4-1.3-1.8-1 0-2.4 6.8-1.7 11-3 7-.8 1.7-3 2-1.8 3.2-1.6 0-1.3-2-2.1-8.9-.3-6-1.6-5-1.1-7 .5-6-.7-2.6-5.5 21.6-3.6 6-.5 4 .6 2.3 0 3-1 .2-.4-3.6-.6-1-1 .2-4 6.3-.4-.5-.6-.8-.5-3.2 1.3-4.9-.5-2-2.3-1.4-2.2-4.6-.8-.8-1 .8-2.5 7 .2 6.9-.7 1.1-1-2.1-1 1.7-2.7 16.3-.4 5-2.9 14-.8 10.9-1.3 7-5.2 40.9-.6 2.1-1 .4-2 2.5-1-1.9-1.1-10.1-1.3-3-.7-4.9-2.5-7-2.5-11-1.3-16 .3-8.9-.5-11 .5-12-1.2-9 1.3-13.3 .1-6.6 1.5-13 .3-10-.6-8.9 .4-9 2.5-24 .6-13.9-.2-28-2.5-30.9-.1-9 2-10.8zM225.3 124.7l1.2-.6 1 .4 1.2 2.2 .8 4 .5 8-.5 4.5-1 2.5-1-1.4-1 .1-1.3 10.2-.7 2.2-1-.1-3-3.2-1-3.9 2.3-4.9 1.6-17 .9-2z"/><path fill="#ff8900" d="M129 21l.7-.4 2 .4 5 4.1 3 4 2.4 5.8 2 7 4.8 21 5.5 30.9 1.2 4.3 1 1.8 1 .3 1-.7 4.7-8.7 3.3-3.6 2-.4 1.9 1 2.4 4 1.3 5 .7 6 .8 35.9-.2 2-1.4 3-1.5 5.3-1.4 9.6-3.1 6-3.5 14.5-1 .7-1.9-4.2-2.8-3-2.3-3.6-3 1.7-2-1.2-1 .8-3.4 24.2-2.9 14-.5 6-1.3 5-1.7 12-.4 5.9-1.1 5 0 5-1 10-.6 1.9-1 .2-2-6.9-2 .4-1.2 2.4-.7 8-1.1 .5-.6-6.5-2-10-2.4-7.4-.4-3.6 .4-4.4 1.5-6.5-1.4-5-.2-3-.3-20 .6-6-.1-13.9 .3-6 1.1-7 .3-19.9 1-18 1.3-14 .5-11.9-.6-30-2.8-30.9-.1-8 .9-6.2zM189.7 104.8l1.8-.5 2 1.1 1.6 2.3 1 3 1 6 0 9 .9 9-1.4 7 .1 5-2.6 16.9-1.6 7.4-1.1 2.6-1.8 7.2-1 1.5-1-.1-.6-.6-.9-2-1.4-10-3.1-11-1.3-16.9 .8-11 2.7-15 2.8-7.4 1.8-2.6zM208.3 117.7l1.2-.3 1 .6 1.6 2.7 1.2 5 .3 5-.3 7-1.1 9.9-2.1 7-2.6 5.2-2-.5-1 .3-1-1-2.7-7-.2-2 1.3-5.9 1.6-18 1.7-4z"/><path fill="#ff5900" d="M128.9 24.9l.8-.7 2 0 3 1.6 2 1.9 2 3.2 3.3 9 4.2 18 2.6 13.9 6 46.9-.3 14-.8 6-.6 11.9-5.2 19-.4 5-1.9 10-3.9 26.9-1.7 6-1.4 10-.5 7.9-1.4 3.7-1-.3-1-2.4 0-6.9-1.2-6-1.8-2.7-2 .3-1-2.9-1.4-8.7-.6-11 .9-10.9-.5-15 1.2-7 .3-8 1.1-7 .2-26.9 1.1-20.9-1-32-3.1-33.9 .3-8zM167.1 90.8l1.5-.3 2 1.6 1 1.9 1 3.8 .5 6-.2 19.9-2.6 22-1.7 8.9-4 12.3-1 .8-4-11.7-3.3-16.3-.6-6 1.9-6.2 .8-12.8 3-12.9 2.4-7 1.8-2.9zM190 108.7l1.5-.2 1 .6 1.2 1.6 1.2 4 .3 4-.3 16-.9 12-2.9 15.9-1.5 3.4-1 0-2-1.7-2.2-8.7-1-15.9 .6-12 1.8-11 1.8-5.2zM208.5 123.7l1.1 1 .5 4-1.1 10-1.5 5.1-1.2-5.1-.2-5 1.1-8z"/><path fill="#ff2500" d="M130.4 26.9l2.3 .3 2 1.2 1.3 1.5 1.7 3 2.9 8 4.1 17.8 2.7 15.1 2.8 24 1.4 30.9-1 20.8-2 6.7-1.7 9.4-1.5 6-3.7 28.1-2 6.8-1.3 2-1.7 5.1-1 .6-1.1-1.7-2.8-9 .1-16.9-1.3-15 1.5-24.9-.5-18 1.1-27.9-1.3-31-3.3-33.9 .6-7zM166.3 95.8l1.3-1 1 .1 1 .9 1.2 3 .5 5-.2 11.9-1.7 19-1.4 9-1.4 4.9-1 1.8-2 2.2-1-.3-.6-1.7-.4-6.2-1.4-5.7 .6-19 .5-6 2.3-11.9 1-3.3zM190.5 113.7l1.5 1 .9 3-.1 16-1.3 13.5-1.9 8.1-1 0-1.3-2.7-1.4-7.9 0-15 2.2-13 1.5-2.6z"/><path fill="#da0000" d="M130.4 30.9l1.3-.8 1 .3 3 3.4 2.6 6.1 2.4 9.1 3 13.7 2 12.1 2.1 19 1 14.9 1 22-1.2 8-.5 8.9-1.2 8-3.9 18-1.4 15-2.9 10.7-1-1.1-.8-3.7-2.2-3-1.3-12.9 .7-16-.4-9 .8-6-1-12.9 1-22 0-10.9-1.6-31-3.3-30.9 .1-6zM167.1 101.8l.5-.5 1.1 1.5 .3 11.9-2 20-1.4 4.4-1 .7-.7-1.1-.4-2-.6-11 .2-6 .5-4.8 2-9.8zM189.2 131.7l.4-.8 .3 2.8-.3 1.8-.7-1.8z"/><path fill="#9b0000" d="M132.6 36.9l1.1 .4 1 1.1 1.2 2.5 4.8 18 2.9 16.9 2.4 25 .6 12.9-.3 8 .7 8-1.5 11 .1 7.9-1.9 11.2-1 3.3-1 1.5-1-4 0-9-1-2.4-.7 5.4-1.3 3.5-1.1-3.5 .7-7-.5-18.9 .4-8-.1-10-2.1-36.9-3.4-31.9 .1-3.5z"/></g>
<rect x="0" y="0" width="339.2" height="337.2" fill="none" stroke="#000" stroke-width="1.5"/>
<rect x="384.0" y="0.00" width="17.6" height="67.74" fill="#f10800"/>
<rect x="384.0" y="67.44" width="17.6" height="67.74" fill="#ffc400"/>
<rect x="384.0" y="134.88" width="17.6" height="67.74" fill="#7dff7a"/>
<rect x="384.0" y="202.32" width="17.6" height="67.74" fill="#00b0ff"/>
<rect x="384.0" y="269.76" width="17.6" height="67.74" fill="#0000f1"/>
<rect x="384.0" y="0" width="17.6" height="337.2" fill="none" stroke="#000" stroke-width="1.5"/>
<path d="M0.00 337.2v5.8M67.84 337.2v5.8M135.68 337.2v5.8M203.52 337.2v5.8M271.36 337.2v5.8M339.20 337.2v5.8M401.6 0.00h5.8M401.6 67.44h5.8M401.6 134.88h5.8M401.6 202.32h5.8M401.6 269.76h5.8M401.6 337.20h5.8" stroke="#000" stroke-width="1.4" fill="none"/>
<text x="410.7" y="6.30" class="dv" font-size="16.1">14.7</text>
<text x="410.7" y="73.74" class="dv" font-size="16.1">9.8</text>
<text x="410.7" y="141.18" class="dv" font-size="16.1">4.9</text>
<text x="410.7" y="208.62" class="dv" font-size="16.1">-0.0</text>
<text x="410.7" y="276.06" class="dv" font-size="16.1">-4.9</text>
<text x="410.7" y="343.50" class="dv" font-size="16.1">-9.8</text>
<text x="0.00" y="359.40" text-anchor="middle" class="dv" font-size="16.1">0.0</text>
<text x="67.84" y="359.40" text-anchor="middle" class="dv" font-size="16.1">0.2</text>
<text x="135.68" y="359.40" text-anchor="middle" class="dv" font-size="16.1">0.4</text>
<text x="203.52" y="359.40" text-anchor="middle" class="dv" font-size="16.1">0.6</text>
<text x="271.36" y="359.40" text-anchor="middle" class="dv" font-size="16.1">0.8</text>
<text x="339.20" y="359.40" text-anchor="middle" class="dv" font-size="16.1">1.0</text>
</g>
<text transform="translate(590.5,455.8) scale(1,1.04)" text-anchor="start" class="ar" font-size="28.8" stroke="#000" stroke-width="0.3">(f) 100 mTorr</text>
<text transform="translate(928.3,454.9) scale(1,1.04)" text-anchor="start" class="ar" font-size="28.8" stroke="#000" stroke-width="0.3">J<tspan dy="6.8" font-size="18.3">ze</tspan><tspan dy="-6.8" font-size="18.3">&#8203;</tspan> (A/m<tspan dy="-8.6" font-size="18.3">2</tspan><tspan dy="8.6" font-size="18.3">&#8203;</tspan>)</text>
<text transform="translate(759.8,875.8) scale(1,1.04)" text-anchor="middle" class="ar" font-size="28.3" stroke="#000" stroke-width="0.3">Phase (2π rad)</text>
<g transform="translate(1100.6,475.4)">
<g clip-path="url(#cp)" shape-rendering="geometricPrecision"><rect x="-1" y="-1" width="341" height="339" fill="#00009b"/><path fill="#0000da" d="M-3.7 -3l.7-.7 122.7 .5 222.5-.5 .7 .7-.5 116.7-.1 226.5-345.3 .1zM77.8 317.2l-20.9 .8-13 1.2-12 1.6-4.2 1.4 1.5 1 4.7 1 21.1 2 41.8 1 16.9-.5 4.2-.5 8.6-2 2-1 .5-1-.8-1-2.2-1-12.3-2.8-16.9-.9z"/><path fill="#0004ff" d="M-3.6 -3l.6-.6 122.7 .5 222.5-.6 .7 .7-.7 316.5-11 .9-14.9 2.4-13 2.9-3.8 1.5-1.3 1 1 1 4.1 1.7 11 2 27.9 1.1 .1 12.2-345.3 .1 0-12.5 60.9 .9 56.8 0 15-.6 7.1-.9 3.7-2 2.2-2.4 6.4 1.4 18.5 1.6 18.9-1.6 5.9-1 1.8-1-2.6-1-6.5-1-17.5-1.6-17.1 1.6-7.8 1.6-2.3-2.6-3.7-2.7-6-2.9-4-.8-13-1.6-16.9-.4-38.9 .7-60.9 2.8z"/><path fill="#003cff" d="M-3.6 -3l.6-.6 122.7 .5 222.5-.5 .6 .6-.6 309.9-74.8 3.2-37.9 .6-61.9-1.5-24.9 .1-13-2.5-16-1.2-56.8 .2-59.9 1.3zM140.3 330.2l126.1-.8 75.8 2 0 8.8-345.2 0 0-9 99.8 1 30.9-.6z"/><path fill="#0070ff" d="M-3.5 -3l.5-.5 122.7 .5 222.5-.6 .6 .6-.6 116.7 0 184.5-102.8 3.7-79.8-.5-17.9-.7-14-2.9-14-2.3-8.9-1.1-8-.4-54.9 .8-19 1.1-25.9 2.3z"/><path fill="#00a8ff" d="M-3.5 -3l.5-.5 102.9 .5-.1 4.3-19 17.1-10 10.5-15.9 20.1-14.6 20.8-10.8 13-16.5 17.4-4 2.8-9 4.8-3 0zM120.6 -3l221.6-.5 .5 .5-.5 111.3-5.4 .4-18.6 4.6-23.9 4.9-15 1.2-15.9 .3-19-1.3-16.9-2.3-16-3.8-6-2-9-4-5-2.7-4.9-3.5-11-12.6-10-7.4-3-3.3-2.4-4-7.6-15.1-16.2-25.8-5.1-9-10.6-21.6z"/><path fill="#00dcfe" d="M-3.4 -3l.4-.4 87.5 .4 0 3-3.4 6-25.6 33.9-13.6 19.5-6 7.8-21.9 24.6-5 3.9-9 5.2-3 0zM128.8 -3l213.4-.5 .5 .5-.5 105.1-3 0-21 5.1-21.9 4.7-16 1.4-13.9 .4-17-1.1-19.9-2.8-17-4.3-12-4.9-8-4.4-5.9-4.4-11-12.7-9-7.3-4-4.5-10-18.9-14.9-25.5-6.9-15.9-2-7z"/><path fill="#26ffd1" d="M-3.4 -3l.4-.4 75.8 .4 0 3-5.1 10-9.9 14.9-4.8 9-6.2 10-8.1 12-9.8 12.1-14.9 16.7-5 4.2-9 5.5-3 0zM136.8 -3l205.4-.4 .4 .4 0 3-.4 96.4-3 0-21 5.4-20.9 4.6-14 1.4-14.9 .5-16-1-20.9-3.1-15-4-12-4.7-10-5.5-7.9-6-11-12.9-8.3-7.3-3.7-4.2-5-9-10-22.7-7.4-14.9-4.4-13z"/><path fill="#50ffa7" d="M-3.3 -3l.3-.3 65.8 .3 0 3-6.7 14-13.1 21.9-5.6 11-4.5 7-8.1 10.9-10.8 13.1-6 5.2-8 5-3 0zM144.7 -3l197.5-.4 .4 .4-.4 93.8-4 .2-20 5.4-19.9 4.4-12 1.3-15.9 .7-15-.8-21-3.2-13.9-3.6-13-4.9-11.4-6.5-8.8-7-3.7-4-7-9.5-8.7-10.4-9.3-18.3-7.9-17.6-6-17z"/><path fill="#7dff7a" d="M-3.3 -3l56.8 0 0 3-9.5 21-8.7 14.9-7.4 11-7.2 13-5.7 7.9-4 4.8-5 4.6-6 4.2-3 0zM152.4 -3l189.8-.4 .4 .4-.4 88.2-4 .3-20 5.6-18.9 4.3-10 1.3-16.9 .9-15-.8-19.3-3-12.6-3.2-13-4.9-7.1-3.9-7.9-5.6-7-6.4-5.1-6-8.4-14.9-8.4-10.8-6-10.5-3.2-7.6-7-20z"/><path fill="#a7ff50" d="M-3.3 -3l48.1 0 0 3-8.1 19-4.6 8.9-8 13-8.6 12-7.4 11.9-3.4 4-4.7 3.9-3 0zM160.3 -3l181.9-.3 .3 .3-.3 81.6-4 .3-19 6.2-17.9 4.5-10 1.5-15 .9-13.9-.4-15-2.2-14.6-3.6-11.3-4.2-10-5.2-7.5-5.6-3.7-4-7.6-9.9-8.1-9.1-12.4-18.9-3.3-6-8.6-22.9z"/><path fill="#d1ff26" d="M-3.2 -3l39.7 0 0 3-9 21-4.5 8.9-12.3 19-4.7 5.1-6 5-3 0zM168.2 -3l174-.3 0 73.5-3 0-19.7 7.6-15.2 4.3-10 1.9-12 1.1-11.9 .2-12-1.2-15-3.3-11.7-4-6-3-6.2-4.3-18.8-15.6-7.4-8-8.3-11-5.3-9-11.5-25.9z"/><path fill="#feed00" d="M-3.2 -3l31.7 0 0 3-9.2 21-5.4 10.9-6.9 10.1-7 7.2-3 0zM176.7 -3l165.5-.2 0 61.1-3 0-5.5 2-15 7.9-9.7 4-6.7 2.3-7 1.5-13 1.4-9.9 .1-10.5-1.3-9.5-2.8-9-3.7-23.9-11.7-7.4-4.7-6.6-5.8-9.9-11.2-5.8-9-13.1-26.9z"/><path fill="#ffbd00" d="M-3.1 -3l23.8 0 0 3-4.5 9-6.6 15.9-4.6 7.8-5 5.2-3 0zM185.9 -3l156.3-.2 0 52.5-4 .4-17.2 7.2-13.7 4.1-9 2.2-9 1.1-13 .8-10.9-.8-10-1.8-13.3-3.6-8.7-3.4-8.3-4.6-10.6-7.5-7.3-6.5-4.7-6-4.9-8-6.2-12.9-5.5-10z"/><path fill="#ff8900" d="M-3.1 -3l16.2 0 0 3-9.1 18.4-4 5.7-3 0zM195.1 -3l147.1-.1 0 42.6-3 0-2 .6-19.9 9.4-11 3.8-8 2-12 1.4-10.9 .4-11-1-8-1.8-11-3.8-11-5-8.9-5.1-7.1-5.5-5.9-6.2-5-6.9-12.4-21.8z"/><path fill="#ff5900" d="M-3 -3l8.4 0 0 3-5.4 7-3 0zM204.4 -3l137.8-.1 0 31.2-3 0-2 .9-13.1 7.9-5.9 2.9-10.9 3.8-7 1.9-11 1.5-12 .7-7.9-.5-8-1.3-9.9-3-9.1-3.6-7.5-4.4-6.6-5-7.8-7.9-13-17.6-3.1-4.4z"/><path fill="#ff2500" d="M215.4 -3l126.8 0 0 16-3 0-1.8 1-17.2 13.3-4.8 2.6-10.1 4.4-6 1.7-9 1.4-11 .8-6.9-.3-8-1.3-6-1.9-10.2-4.8-6.8-4.1-7-6-17.9-18.6-1.1-1.2z"/><path fill="#da0000" d="M228.7 -3l110.5 0 0 3-7 3.8-14.9 10.8-13.7 7.3-5.3 1.8-6 1.1-15 1.3-4.9-.5-7-1.6-4-1.5-5-2.6-14-9.1-11.9-9.3-1.8-1.5z"/><path fill="#9b0000" d="M245.6 -3l75 0 0 3-12.3 5.9-8 2.9-12 1.9-11 .7-10.9-1.9-8-2.9-12.8-6.6z"/></g>
<rect x="0" y="0" width="339.2" height="337.2" fill="none" stroke="#000" stroke-width="1.5"/>
<rect x="384.0" y="0.00" width="17.6" height="67.74" fill="#f10800"/>
<rect x="384.0" y="67.44" width="17.6" height="67.74" fill="#ffc400"/>
<rect x="384.0" y="134.88" width="17.6" height="67.74" fill="#7dff7a"/>
<rect x="384.0" y="202.32" width="17.6" height="67.74" fill="#00b0ff"/>
<rect x="384.0" y="269.76" width="17.6" height="67.74" fill="#0000f1"/>
<rect x="384.0" y="0" width="17.6" height="337.2" fill="none" stroke="#000" stroke-width="1.5"/>
<path d="M0.00 337.2v5.8M67.84 337.2v5.8M135.68 337.2v5.8M203.52 337.2v5.8M271.36 337.2v5.8M339.20 337.2v5.8M401.6 0.00h5.8M401.6 67.44h5.8M401.6 134.88h5.8M401.6 202.32h5.8M401.6 269.76h5.8M401.6 337.20h5.8" stroke="#000" stroke-width="1.4" fill="none"/>
<text x="410.7" y="6.30" class="dv" font-size="16.1">3.1</text>
<text x="410.7" y="73.74" class="dv" font-size="16.1">2.3</text>
<text x="410.7" y="141.18" class="dv" font-size="16.1">1.5</text>
<text x="410.7" y="208.62" class="dv" font-size="16.1">0.7</text>
<text x="410.7" y="276.06" class="dv" font-size="16.1">-0.1</text>
<text x="410.7" y="343.50" class="dv" font-size="16.1">-1.0</text>
<text x="0.00" y="359.40" text-anchor="middle" class="dv" font-size="16.1">0.0</text>
<text x="67.84" y="359.40" text-anchor="middle" class="dv" font-size="16.1">0.2</text>
<text x="135.68" y="359.40" text-anchor="middle" class="dv" font-size="16.1">0.4</text>
<text x="203.52" y="359.40" text-anchor="middle" class="dv" font-size="16.1">0.6</text>
<text x="271.36" y="359.40" text-anchor="middle" class="dv" font-size="16.1">0.8</text>
<text x="339.20" y="359.40" text-anchor="middle" class="dv" font-size="16.1">1.0</text>
</g>
<text transform="translate(1101.4,455.8) scale(1,1.04)" text-anchor="start" class="ar" font-size="28.8" stroke="#000" stroke-width="0.3">(g) 100 mTorr</text>
<text transform="translate(1423.6,454.9) scale(1,1.04)" text-anchor="start" class="ar" font-size="28.8" stroke="#000" stroke-width="0.3">E<tspan dy="6.8" font-size="18.3">z</tspan><tspan dy="-6.8" font-size="18.3">&#8203;</tspan> (10<tspan dx="-0.8" dy="-8.6" font-size="18.3">4</tspan><tspan dy="8.6" dx="-2.9"> V/m)</tspan></text>
<text transform="translate(1270.7,875.8) scale(1,1.04)" text-anchor="middle" class="ar" font-size="28.3" stroke="#000" stroke-width="0.3">Phase (2π rad)</text>
<g transform="translate(1611.3,475.4)">
<g clip-path="url(#cp)" shape-rendering="geometricPrecision"><rect x="-1" y="-1" width="341" height="339" fill="#00009b"/><path fill="#0000da" d="M-3.3 -3l345.5-.3 0 106.7-3 0-6-1.1-7 .6-4 1.2-3 1.6-1 1-.4 2 1.1 2 1.3 1.1 3 1.4 4 1.1 6 .4 3-.4 3-1 3 0 .3 226.9-345.5 .3-.4-40.2 .4-191.3 3 0 2-1.3 13.3-10.9 4.3-5-.1-1-.5-.4-3-.1-16 6.9-3 0zM134.7 285.2l-3 1.8-2 2.8-2.3 5.5-1.3 6-.1 2 .7 2.1 2 1.9 3 1 2-.2 2.1-1.8 1-2 1.2-6 .3-5-.6-4.9-1-2.4-1-.7z"/><path fill="#0004ff" d="M-3.2 -3l345.4-.2 0 104.3-10-.7-10 1.4-4 1.3-3.2 1.7-2 1.9-.6 2 .6 2 1.8 2 3.4 2 4 1.4 10 1.4 10-1 .2 223.7-345.4 .2-.3-40.1 .3-189.1 3 0 5-3.1 3-3.3 30-27 6.9-7 3.3-4-.3-.7-1 .6-24 18.2-7.9 2.9-15 7.6-3 0zM133.7 279.9l-3 2.6-3.4 5.8-2.4 7-1.3 7 .8 3 1.3 2 3 2.2 3 .7 2-.2 1.3-.7 2.7-3.3 1.2-4.7 1-9-.2-6-1.4-5-1.6-1.8z"/><path fill="#003cff" d="M-3.2 -3l345.4-.2 0 102-12-.2-7 1-5.9 1.5-4.5 1.7-3.5 2-2.1 1.9-.9 3 1 2.8 2.2 2.2 3.8 2.4 4.9 1.9 6 1.4 7 .8 11-.7 .2 219.7-345.4 .2 0-222.8 3 0 8 3 2-.4 3-1.7 2 .5 3-.4 2.7 2.1 1.2 .4 1-.3 1-1.3 2-4.1 3 2.8 3-.1 3 1.6 1-.3 2-1.8 1-.1 3 2.4 4-.8 3-1.3 3 1.5 3 .5 4-.8 2 .9 5.9 .9 2-.8 2-1.9 3 3.2 1 .1 2-1.4 4-1.4 1-.9 2-5.1 1-.3 2 2.7 1 .2 2-1.7 1-.3 1 .3 .5-1.8-.5-1.5-2-.6-3-2.1-2 .9-1 0-2-1.5-3-.4-3-1.1-4 1.2-3 .3-3-.9-2.9 .5-3-1-1.3 .2-2.7 1.7-9-2-5 .7-3 1.1-2 0-2-.7-3 .4-4-.6-2 1.2-11.9-1.3-1.1-.5-.5-.9 1.6-3 4.9-5 19.3-17 10.7-10.6 14-17.1 .9-1.8 0-.9-2.9 1.2-11 7.5-12 11.2-15 12.1-22.9 12.1-3 0zM135.7 273.3l-2 .7-2 1.4-4.4 5.9-3.4 8-2.3 10 .3 5 1.8 3.6 3 2.7 4 1.4 2 .1 2-.7 3-2.6 1.7-3.5 1.4-8 .8-11-.6-7-1-3-1.3-2.2-1-.7z"/><path fill="#0070ff" d="M-3.1 -3l345.3-.1 0 99.2-9 .2-9 1.1-7.9 1.7-8 2.7-4 1.9-1.9 2-1.4 3-.4 4 .8 5 1.9 3.2 3 2.4 4 1.1 3 2.5 3 .6 3.9 1.7 7-.7 4 2.3 1 .2 2-1.2 1-.1 3 1.3 4 .1 .1 209.1-345.3 .1 0-214.8 4 .2 6 1.7 2-.2 3-1.2 5-.1 4.9 2 2-.5 2-1.6 1-.3 2 0 6 1.2 3-.2 3 .5 12-1 3 .4 7.9-.2 3 .8 5-1.3 3 1.2 3-1 5 .3 4-2 6 0 1.1-.5 4.1-4 2.8-5.2 .5-2.8-.4-2-2.1-1.5-1.4-2.5-1.6-1.5-9-1.5-7-.3-4-.8-7 1.1-3-.7-2.9 .2-3-.6-4 .7-4-.1-4-.8-15 1.1-4-.3-4 .5-4.9-.8-1.2-1.1 .8-2 3.5-4 15.8-13.9 9.2-9.1 19.4-21.9 8.3-10.2 6-8.5 3.1-5.3 .5-2-.6-.5-3 1.5-5 4.2-36.9 34.9-15 12.8-4.5 3-20.4 11.4-3 0zM134.7 265.9l-3 1.9-2 2-4.3 6.5-4.1 10-1.8 8-.2 9 1.9 5 1.6 2 2.4 2 2.5 1.2 3 .6 3-.2 2-.9 2.1-1.7 2.1-3 1.4-4 1.7-13 .3-13-1-7.9-1.4-3-1.2-1.4-2-.6z"/><path fill="#00a8ff" d="M-3.1 -3l98.7 0 0 3-6.1 9-21.4 22.9-24.8 25-10.8 9.9-9.4 8-4.7 3-18.4 10.5-3 0zM106.7 -3l235.6 0-.1 95.9-7 .4-13 2-8.9 2-9 2.7-9.3 4.8-3 5.9-.8 4 .9 6 3.2 10.5 1 2 2 1.9 1 .4 2-1 2 1 1 .1 2-1.1 3 .3 1 .4 3 3.9 3 .6 3.9 1.8 1-.4 2-2.5 2 .4 2-1 2 1.1 2 2 1 .1 2-1.1 2 1.1 3-1.8 3 0 0 200.9-345.3-.1 .1-205.2 6-.5 5 1.2 4-.5 9.9 .7 8-1 9 1.1 5-.9 5 .1 2-.5 4 .8 4-.5 5.9 .6 6-.5 6 .4 4-.8 4 .6 3-1 7-.9 6-2.7 1.9-2 2.1-3.4 1.5-4.6 .8-5 .2-5-.6-3.7-.9-2.7-1.8-2.5-2.2-1.7-6-2.2-13-1.3-6-.1-6 .5-11.9-.7-7 .6-3-.6-3 .3-8-.3-5 .6-5-.3-.9-.8 1-2 1.8-2 11.1-10.2 9.6-9.8 24.8-27.9 26.8-35.9 4.6-8zM135.7 249.1l-3 1.6-3 2.6-3.5 4.1-1.5 2.7-3.5 10.3-2.7 9.9-1.3 7-.8 7 0 9 1.1 4 1.6 3 1.6 2 3 2.4 3 1.3 4 .8 3-.3 3-1.4 2.2-1.8 2.2-3 2.1-6 2-16 .4-17.9-1.1-17-.8-2.7-2-1.9-3-.4zM173.6 291l-1 .9-1 2.4 1 7.9 1 2.1 1-.9 .3-1.1 .5-7-.2-3-.6-.9zM194.5 296.8l-1.3 1.5-.8 3 1 7 1.1 2.5 1-.7 .5-1.8 .6-8-.3-2-.8-1.2zM213.5 310.1l-1.4 1.2 1.4 7.3 .6-7.3z"/><path fill="#00dcfe" d="M-3 -3l93.9 0 0 3-5.1 6.3-27.9 30.3-16 16.2-13.9 13-6.1 5-9.7 6-12.2 6.7-3 0zM112.7 -3l229.5 0 0 91-3 0-21 4.2-12.9 3-6 1.9-4 1.8-4 3.3-3 .2-3 1.9-1 1.8-.3 3.6 .6 13 1.5 15-.3 15.9-.8 6 .7 2 1.6 2.4 2 .8 2 5.8 1 1.5 1 .1 3-3.5 1-.3 4 6.2 2-.8 2 .1 1 1.3 1 3.1 1 1.2 2-3.3 1-.5 4 2 2-2.1 1.9 1.6 1-.3 1-1.7 1-.6 2.2 3 1.8 4.4 1 .5 2-.9 2-2 1 .1 2 3.4 3-2.7 1 .6 1 2.4 3 0 0 156.8-345.2 0 0-159.2 4 .3 2-2.7 1-.6 2 1.3 2-.8 3 .9 3-3 3 2.7 1 0 1.1-1.5 1.9-4 .9-1.3 1-.1 4 4.3 4 1.5 1.8 7.6 1.2 1.1 4-7.8 3-.8 2-2.4 1 1.6 1.5 5.3 4.5 3.8 1-.2 2-2 1-.3 2 .5 4 0 3-2.8 3.9 .8 5-.9 1-.5 3-3.3 2 .4 4 2.6 5-3.1 1 .5 2 4.1 1-1.5 1-4.5 1-2.1 1 .5 1 7 1 .2 2-3.7 1-.5 5 6.3 1 .4 2.9-3.9 2-4.8 1-.4 1.2-1.6 .8-5 0-14-1.7-60.8 .7-57.9zM141.7 208.2l-4 3.1-4 5.5-4.1 7.7-4.1 9.9-4.1 12-4.3 15-3.8 15.9-1.7 10-.6 15 .9 5 1.6 4 2.2 3.4 3 2.8 4 2.1 5 1.3 4 .2 3-.6 3-1.4 3.4-2.9 2.2-2.9 1.8-4 1.9-10 1.2-13 .5-16.9 .1-27-.5-17.9-.6-8-1.3-6-1.7-2.4-1-.3zM169.6 232.9l-1 1-1.1 2.5-1.6 9-.8 13 .2 15.9 .9 11 1.9 11 3 13 1.5 3.1 1 .7 1-.2 1.6-2.6 1.8-8 1.2-14 0-13-1.4-15.9-2.6-16-2.6-8-2-2.5zM190.6 236.6l-1 .9-1 2.2-1.8 9.7-.8 14 .3 15.9 .9 12 2 12 2.7 12 1.3 2.9 1.3 1.3 1-.2 1.5-2.1 2-7.9 1.3-14 0-14-1.4-15.9-2.7-17-2.7-9-2-2.8zM209.5 258.9l-1 .9-1.2 2.6-1.7 8-.9 10.9 .2 13 1.4 12 4.4 18.9 1.4 4 1.4 1.2 1-.7 1-2 1.4-6.5 1.8-15.9 .1-11-1.6-16-2.2-10.9-2.5-6.6-2-2zM85.7 49.9l2.1-.5 1.9 .5 .6 1 .3 2-1.4 5-3.5 5.9-5.1 6-5.8 4.9-5 2.7-2 .4-2-.2-.9-.8-.4-1 .1-2 1.5-4 3.1-5 4-4.9 4.6-4.7 4-3.1zM289.3 144.7l0 5.4-1 0 .1-2.5z"/><path fill="#26ffd1" d="M128.8 4l2.9-.1 4 .9 3 1.6 3 2.6 2.3 3 3.1 6 3 7.9 2.2 9 2.3 4.8 2 2.8 3 2.5 3 .7 1-.5 2-2.1 2-1.1 2 0 1.5 .9 2.6 4 1.3 4 1.2 7 3.4 6.4 5 4.5 6 2.3 2.9 1.9 9 9.8 3 1.9 7 2.6 6.1 3.5 5.3 2 7.6 2 22.9 4.4 13 3.2 7 2.4 3.4 1.9 2.5 3.4 1.2 4.6-2.3 11-.9 1.7-2.9 3.1-2 4.4-1 .7-2-5-2-1.8-1 1-2 4.8-1 .4-1-.3-1 .8-2 8.9-1 1.4-2-1.5-2 .7-1-.6-3-5.2-1 0-2 1-2 2.5-3 8.2-1 .8-1-.2-2-6.4-1 .2-1 2-1 .5-1-1.3-2-4.8-.9-.5-2 .6-1-.4-1 .6-2 3-2 1.2-2 2.5-1-.1-3-1.9-2-4.5-1.2 .5-1.8 5.9-1 0-1-3.6-1-1.5-7 .9-3 4.3-2-1.9-2-.3-4 3.1-1.9 6.6-4 3.3-1 .4-2-1-2 1.3-2-.3-1 .4-1-.1-2-2-3 5.2-3-1.3-1 1.2-.9 2.3-2.1 7.2-1-.6-1.1-3.6-1.5-2-1.4-.2-2 1.7-1-.2-2-6.2-1-1.4-1 .4-6.9 9.8-1 .4-1.6-3.3-1.4-6.6-1-1.4-.7 2-.6 6-.7 2-1 .5-3-.7-3-1.4-1 .3-3 2.4-2 6-.5-2.1-.2-8-1.3-3.1-1-.2-2 1.5-1-2.1-2.6-16-.9-16 1.5-7-2.2-9-.7-14.9 1.2-63.9 1.3-15.9 1.6-7 1.8-4.1 3-3.2zM335.7 280.3l.5-.3 1 .7 2 2.1 3 0 0 35-6 .2-3-2.2-3 1.7-2-.2-2 .7-3-1.2-2 .1-7.9-1.1-4 .1-6 1.6-3-1-3 1.8-1 0-4-1.6-2-2.1-1 0-3.3 1.6-2.7 1.8-1-.2-2.1-2.5-.9-.4-2 1-1-.5-1.5-2.1-.4-.2-1 1.3-3-.4-3-5.1-1-.2-2 1.8-2 .9-1-.2-.5-.9-1.2-6 .3-12 .8-2 2.9-2 1.7-3.1 1-.7 1-.3 3 .9 2-1.5 4.9-.9 3 3.5 1-.3 2-2.2 4-3.1 1 .1 1 1.6 1 5.7 1-1.6 2-1.2 2-3.3 1-.3 3 3.1 2-.4 2-1.8 3 .3 2 1.1 3-.8 2 3.7 1-.1 .7-4.4 1.3-1.6 1 .1 2.9 2.6 5-1.8 1.3 .7 .7 1.2 3-1.9 1-.2 2 1zM334.2 286.3l-1 2 1 1 .3-2zM13.7 282.3l4.3 3.5 1 .3 3.9-1.2 1 .1 4 2.5 1-.2 2-3.3 5-.5 2 1.2 1 2.5 1 1 4-3.4 2 .1 2 1.6 1-.1 2-3.7 1-.2 2 2.7 1 .3 2-1.4 4-1.1 1 .1 1.9 3.1 2-.7 2 .1 4-2.3 2-.4 3 3.8 3-2.1 1 .3 2 1.7 1-.2 4-3.7 1-.6 1 .2 2 4.2 2 2.6 3 .5 1.4 1.7 .7 2-.1 3.4 2-2.2 1-.3 1.2 9.1-.2 3-1.4 3-1.6 1.9-2 .2-3-1.2-3 2.8-1 .2-5-1.3-4 1.8-1.1-.4-1.9-2.3-1 .2-2 1.9-4 .8-4-.5-3 1-5.9-2.3-3 1.3-6-.1-5-1.6-4 0-2-2.1-1 0-2 3.1-5-.7-4 2.5-4-1-5.9 .3-4-1-2-1.4-3 .7-2-1.3-3 2.1-1-.4-2 .6-3 0 0-29.8 3 0 1.7 2 .7 2 .4 5 1.2 1.5 4-6.3 2-1.2 3-3.8zM53.9 293.5l-1 1.2-.4 1.6 .4 3.3 1-.1 1.2-2.2-.1-3zM154.4 285.3l1.2-.9 1 .2 2 2.8 1.6 5.9 .8 8-.2 7-1 6-2.2 4.5-2 1-2-1.7-1.3-2.8-1-4-.5-5 .6-12 1.2-5.5z"/><path fill="#50ffa7" d="M128.5 9l2.2-.8 3 .1 3 1.4 2 1.8 2.6 3.5 2.2 4 6.8 16.9 5.3 7.7 4 3.9 3 1.9 1 .5 3-.3 3 .9 2 2.8 3 6.9 4 5.3 5.9 5.3 9 5.8 5 5 4 3.2 4 2.2 16 7.2 10 2.7 22.9 4.7 12 3.9 5.5 3.2 3 3 1.3 2 .1 1-1 3.1-1.5 2.9-1.4 5.5-1 .3-2-2.5-2 .5-1 .8-2 4.2-1-.2-1-1.5-1-.4-1 .9-4 7.7-1 .5-1-.9-2-3.6-1-.5-1 .1-3 3-5 7.5-1 .6-2-6.4-1-.2-3 3.6-2.5-3-2.4 0-1-1-1-2.5-1 .1-2 6.3-2 .2-2 2.1-1 .1-2-2.1-2-5.4-2-1.3-6 .6-2-1.6-1 .2-3.3 5.3-.7 .4-.5-.4-1.5-2.4-1-.5-2 3.2-1 .6-5-2-1.9-2.1-1-.4-1 .2-1 1.4-2 10.7-2 0-2-2.6-1 .1-1 1-.6-.2-1.4-1.9-1 1.2-2 4.7-2 .5-1-.4-3-3.4-1 .8-2 6.2-1 1.8-2 1.7-1 .2-1.6-1.5-1.1-3-1.3-6-1-.9-2 2-1.1 6.9-.9 2.6-1 1.2-1.1 .2-1.8-.8-2-3.7-4-3.4-1 .2-1 1.2-2 6.2-1 1.1-1-.3-2 .9-1-.1-2-2.3-1-.5-2 1.1-1-1-2.6-6.6-.4-.6-1-.1-1-1-.8-2.2-1.6-16 1.7-8 .4-4-1.2-8-.4-6.9 1-33 .3-36.9 1.3-11 1.1-4.9 2.2-5.2zM322.4 290.3l.8-.4 1 .5 2 3 1-.3 1-1.1 1-.1 1 .6 .9 1.8 0 4 1.1 4-1.8 4-.9 4-2.3 1.8-2-.1-1-.7-2-5.9-1-.4-3.6 4.3-3.3 1.4-1.1-.4-1-2 .6-14 .5-.5 2 1.6 1 0 1.9-2.7 2 .3zM35.2 291.3l.7-.5 1 1 2 5.8 1 .1 2-3.2 1-.1 2.7 7.9-.9 2-2.8 2.1-1 .2-1-1-1-3.5-1-.7-2 5.1-1 .4-1.3-1.6-.5-2 1.2-3 .1-6zM154.6 292.3l1-.9 1 .2 1 1.6 1 3.7 .5 4.4 0 5-.7 4-1.4 3-1.4 .6-1-.8-1-2-1-5.8 .5-8zM338.8 292.3l.4-.4 3 0 0 7.2-3.1 .2 3.1 .1 0 5.4-3 0-1.5 1.5-1.5 3.4-.5-1.4 .2-5-.3-1-1.6-1 0-1 1.2-2.5 1 3.7 .3-1.2 1-1 .7-2 0-4zM-3 293.3l3-.1 1.7 4.1 2.3 1.4 1-.3 1-1.5 1.1-.6 3.7 5-.6 3-1.2 2.9-1 .5-2-1-3 1-2-1-1 .6-3 0zM19.5 293.3l.5-.9 1 .1 .9 .7 2-.7 1.1 .8 1.2 2 0 5 .7 2.3 1-.6 1.8-5.7 1.2-.5 .3 .5 1.2 7-1.8 4-1.7 1.8-2 .5-3-2.7-2 .3-1.9-1.5-.6-2.4zM308.2 293.3l1.1 .8 0 1.2-1 1.2-.4-1.2zM66.4 294.3l.4-.7 2.3 2.7 2.2 7 .1 2-1.6 3.4-1 .1-.6-.5-2.4-2.8-.9 .8-1.1 2.4-1.2-1.4 .2-4zM79.4 294.3l.4-.3 1 .8 2 4.2 2 .5 1-.4 1.2-2.8 1.8-1.8 2-.7 1.5 .5 1.3 2 .2 2-.6 3-1.4 2.9-2 .7-2 2.2-2-.2-2 .9-3-1.7-2-3.6-2 5.1-1 1.2-1 .1-1.1-1.6-.7-2 0-7 .8-1.4 4 1.9 .8-3.5zM14.8 295.3l.2-.4 .6 .4-1.1 5 1.5 4-.9 2-1.1 .5-1-1.2-1-4.3 2-5.2zM48.8 295.3l1.1-.7 .3 .7 .6 5-.9 5.6-1 1.2-1.8-3.8 .6-5zM301.6 295.3l1.7-.9 1 .3 4 5.8 1 .8 1 .2 .4 1.8-.7 4-5.7 5.8-1-.3-2-2.6-1-.5-2 .7-2 2-2 .1-1-.5-1-1.5-.5-3.2 .2-2 1.4-3 1.6-6 .3-.7 1-.2 3 1.5 1-.1zM286.7 296.3l.6-.5 1 .3 1.3 1.2 1 3-.1 3-1.2 1.6-2.5 6.4-1.5 1.1-2 .4-2-2.4-2-.9-1-1.2-.8-4 0-6 .8-1.6 1 .7 1 1.8 1 .7 1-.1 2 2.1zM55.7 302.3l.7 0 .5 .7-.4 2.3-.6 1.5-2 .7-.6-1.2 .4-2z"/><path fill="#7dff7a" d="M131.9 12l1.8 0 2 .7 2 1.6 2 2.5 3 5.1 7.9 16.7 5.5 7.3 4.5 4 8.5 4 6.5 9.7 4 4.8 5 4.1 7.9 4.7 9 8.7 3.1 1.9 6.9 2.8 10 5 11.9 3.3 22 4.7 12 5.2 2.9 3.9-1.1 7-3.8 6.3-2-1.7-1-.4-1 .5-1 1.1-3 6.5-1 .7-2.5-3-2.5-.8-4 3.5-2 3-1 .3-3-8.8-1 .2-1.5 4.6-1.5 2.9-1 .6-2-1.3-1.9 .6-1-.2-3-8.9-1 0-.6 1.3-.6 6-.8 2.2-1.4-.2-.9-1 0-6-.7-2.2-1 1.2-1 3.6-1 1.4-5-3.2-2 .7-3-.2-2-.8-2.2 1.5-2.8 3.3-2-2.7-1 .1-3 3.6-4-2.3-1.9-1.8-1-.2-2 1.2-3 5.5-1 .7-1-.9-2 .5-1-.4-2-6.7-1 .4-2.2 2.7-1.8 6.8-2 2.6-1 .3-3-1.9-3 4.2-2 0-1 1.4-1-.3-3-7.3-1-.3-3 1.1-.9 3.4-1.1 7.6-1-.1-1.9-2.1-1.2-2.4-1.8-6.4-.5 1.4-1.5 1.8-4 .4-3 1.4-2-.2-3 2.1-2-.6-2-1.7-2-2.8-2-.1-1-3-.6-7.3 1.6-7.1 .7-10.9-.8-10.9 1.1-32 0-35.9 1.5-11 1.3-4.9 2.2-4 2-1.7zM155.2 297.3l.4-.7 1 .6 1.1 5.1-.4 5-.7 1.7-1 .4-1-1.4-.5-3.7 .2-4zM323.1 298.3l.1-.3 1 .2 2 3.1 0 1.2-1 2.3-2-5.1zM302.6 300.3l.7-1 1 .6 1.6 3.4-.1 3-1.5 2.6-2.4-5.6zM295.8 303.3l.5-.9 .4 3.9-.4 1.5-1 .4-.6-.9 0-1z"/><path fill="#a7ff50" d="M132.5 16l3.2-.2 2 1.5 2.1 2.7 4.9 8.4 5.9 12.2 4 5.7 5 4.6 7 3 2 1.4 2.2 2.6 6.8 10.2 4.9 4.7 9 4.9 8 8.4 3 2.3 9 3.5 8 4.8 13.9 4 22 5.1 9 4.4 3.1 2.5-.1 6-1 2.7-1 1.1-3-1.8-2 1-3 6.7-1 .5-2-2.3-2 0-2-.6-2 2.4-2-.3-2 .9-3-7-1 .2-3 8.8-1 .6-2-1.8-1.9 2.8-1.2-.9-1.8-6.8-1-2.1-1-1-1-.2-1 1.5-1 .6-1-1.1-1-.3-.7 .4-2.3 3.7-1 .8-1 .1-5-3.3-2-2.4-1-.5-2.3 3.6-2.7 2.3-3-1.9-5 3.6-2-2-2 1.6-2.9-1.3-2 1-3 3.6-2-.9-2-.2-1.6-3.8-1.4-1.2-1 .4-3.3 3.8-3.7 5.9-1 .7-3-1.5-2 .1-2-2.2-1 .1-2 3.1-3-1.5-3.6 1.3-2.4 8.1-1 0-1.2-2.1-1.7-12.1-1 .2-1.9 7.9-1.1 1-3-.8-3 1.6-3-.6-1-.6-1-.2-1 .5-1-.5-2-3-2.9-2.4-.4-2 .9-5 .1-10 .7-6-.3-9.9 1.3-28-.5-35.9 .8-7 1.9-7.9 1.5-3z"/><path fill="#d1ff26" d="M133.4 20l2.3-.9 1 .2 2 1.6 5 7.5 5.9 12.7 4 6.1 3 3.2 3 2.3 6 2.1 3 1.9 2.6 3.2 5.4 9 4.7 4.9 3.1 2 5.2 1.9 1.9 1.3 2.9 2.8 4.1 5.4 3 2.6 3 1.4 7 2.1 7 4.8 9 2.3 5.9 2.1 8 1.6 14 3.9 5.1 2.7 1.2 1-1 3-3.3 6.2-2-5.4-1 .1-1 5.1-1 2.1-2-2.8-2 2.3-1-1.6-1-.2-2 2.7-1-.8-2-3.3-1 .5-.6 1.1-2.4 6.8-1 .4-2-4.4-1.9 6.7-1-.3-2.6-8.2-2.4-3-2 1.4-2 .2-3 1.1-2 2.5-1 .4-7-6.6-1 .9-3 5-1 .4-2-1.8-1-.3-3 1.9-1-.3-3-4.7-2 6.3-2.9-.4-2 .3-2 2.3-1 .2-3-2.9-4-1.8-1.9 .9-3.1 2.8-2 2.8-2 1.3-1-.1-3-1.8-1 0-3 .3-2 1.9-1 .4-2-1.9-2 2.3-2-1.3-1-.2-2 6.3-.9-3-.8-4.8-1.2-3.1-1 .3-.5 .8-2.5 7-3-.2-3 1.6-2 .2-2-2.6-1-.5-1 1.2-1-.1-2.6-4.6-.5-12 1.1-11 1.6-34.9-.8-34.9 .7-6 1.5-5.1 2-3.8zM149.6 69.6l-1.4 5.2-.3 9 .7 7.4 1 3 1 .3 1.4-5.7 .4-11-.8-6.3-1-2.2z"/><path fill="#feed00" d="M135.5 22.9l1.2-.2 1 .4 4 4.3 3 5.1 5.1 11.4 4.8 6.6 5 4 6 1.5 3 2 2.3 2.9 4.7 8.6 3 3.9 4 3.2 7 2.4 1.9 1.3 2.4 2.5 4.6 6.4 2 1.8 3 1.6 7 1.5 8 5.9 7 1.2 7 2.6 9.9 2.1 8 3.2 3.3 .6 .2 1-.5 .8-1 .8-.8-1.6-1.2-.3-1 3.2-1-.1-1-1-1 .9-2 5-1-.1-1-1.5-1-.5-2 2.1-2 4.6-1 0-2-3.3-1 1-.9 4-1 1.3-2-5.3-3-4.5-1 .1-2 1.6-2 .2-3-3.4-1 .9-1 3.9-1 .2-1-1.4-2-.4-3-2.2-1 .4-3 3.7-1 .5-3-1.1-3 .6-1-.8-3-5.9-1 0-2 7.5-.9 1-1 .3-3-.7-2 .2-2-2.5-1-.4-6 .1-6 7.6-2 .2-3-1.4-6 1-1-1.1-2-4.5-2-1.3-.7-3.4-.2-10 1.5-14.9 .2-19-1.2-10.9-1.3-3-1.3-.6-1 .9-1 2-.9 3.2-1.2 6.4-.6 8 .3 11 1 10 1.4 6.7 2.5 5.2-1.5 4.7-1 8.7-.9 .3-1-1.6-1-.7-1.7 1.6-2.3 5.3-1 1-2 0-4 1.5-1 .2-2-4.1-1-1-2 2.2-1.3-2.1-.4-10 1.7-15.9 1.9-29-1.2-36.9 .6-4 1.6-4z"/><path fill="#ffbd00" d="M136.1 26.9l1.6-.4 1 .5 3 3.2 3 5 3.2 8.7-2.7 18-1.2 14.9 .2 11 2 27.9-.2 1-1.3 1-1 1.7-3 6-1 .6-5 .7-1-.1-2-4-1.9-1.9-.9-6 .7-10.9 2.4-14 1.9-19-.2-7.9-2-20.2-.2-7.8 1.2-4.2zM158.5 56.9l1.1-.6 5 .8 3 1.3 3 3.7 5.1 9.7-1.4 18 1.2 14 0 6.9-1.6 5-1.9 4-1.4 2.1-2 1-2-.2-2-.9-2 .5-1.9-.5-1.9-5-1.6-7-.9-11.9 0-17 .7-15zM183.4 78.8l5.2 1.1 2.9 1.7 2.7 3.2 3.6 6-.9 8-2.8 9.9-2 3-.6 2.2-.9 1.4-3 2.5-3-1.5-3.5-3.6-1.9-7.9-.2-8 .9-9 2-7 .7-1.5zM203.1 94.8l4.4-.3 3 .8 2.3 1.5 3.9 4 .8 1.4 1 .4 3-.5 4 .3 6 2.6 7.9 1.4 3.7 1.3 .8 2-.7 3-.8 .8-1 .2-2 2.1-2 .6-8.9-.4-2-2.2-1 .2-2 1.8-1 .1-1-.5-4-5.7-1-.6-4 5.8-1 0-2-1.2-3 1.9-2 .4-.7-.3-2-4-.9-6 .4-5.9z"/><path fill="#ff8900" d="M136.3 31.9l1.4-.3 1 .5 1.5 1.8 .8 2-.8 9-1.5 5.6-1 1.4-1-1.6-1-3.9-1.2-7.5 .1-4 .8-2zM161 58.9l.6-.5 3 .1 3 1.3 3 4 2.7 6-2.1 21 1.1 14.9-.2 6-.8 4-1.2 3-2.5 1-3-1-2-4-2.4-9-1.6-9.9-.6-10 .3-11 1-9zM185.2 80.8l3.4 .3 2 1 2.5 2.7 2.3 4-.8 8-2.2 8-2.8 4.7-2 1.4-1 0-2-1.3-1.1-1.9-1.2-3.9-.5-5 .6-10 1-4zM137.6 83.8l1.1 1.8 .4 2.2 3.1 4 .3 1 .7 12-.2 6.9-.8 5-1.5 3-1 1.1-5 1.1-1-.6-2.5-4.6-.3-4 .3-7 1.6-8.9 3.4-9 .5-2.5zM206.3 95.8l2.2 0 2.6 1 2.2 2 1 2-.5 4.9-1.6 4-1.7 2.3-2 .2-1 .6-1-.1-1.7-2-1.3-5 .4-5.9 1.3-3zM222.6 103.8l2.9-.2 2.8 1.2 3.2 4.3 3.9-1.1 3 .3 1.4 1.4 0 1-.6 1-1.8 1-3-.5-2.9-2.1-3 1.9-1 .2-1-.6-2 1.2-1-.3-1.8-1.8-.9-3 .3-2z"/><path fill="#ff5900" d="M163.2 59.9l2.4 .2 2.6 1.8 2.4 3.7 1.1 3.2-2.8 24 .9 15.9-.9 4-1.3 1.5-1-.1-1-1-1.4-3.4-3.3-13.9-1.1-8-.2-9 .7-9 1.4-6.9 .9-2.7zM186.4 82.8l1.2-.6 3 1.1 2.2 2.5 1 3-.4 6-1.5 6-2.3 4.3-2 1.4-1-.2-1-.8-1-1.7-1.2-7 .6-8 .9-3zM137.6 96.8l2.1 1 .3 7.9-1.3 6.8-1 1.7-1 .6-2-.8-1-1.1 0-5.2 1-6.3 1-2.6 1-1.6zM206.9 97.8l1.6-.8 2 .6 1.4 1.2 .6 2-.1 3-.8 2.9-1.1 1.8-2 1.3-2-.9-1.2-3.2 .1-4.9zM223.9 106.7l.6-.5 1-.1 .8 .6 .3 1-.3 1-.8 .6-1-.1-.8-1.5z"/><path fill="#ff2500" d="M164 61.9l.6-.6 1 .1 2 1.3 2 2.7 .7 2.4-.3 6-1.4 8.6-2 9-1 3-1 .6-1-1.1-1.5-4.1-1-9 .6-11 .9-4.5zM188.5 83.8l2.1 .8 1 1.2 .9 5-.7 5-1.2 3.7-1 1.8-2 1.3-1-.5-1.2-2.3-.6-7 1.3-6 1.5-2.3zM208.1 99.8l1.4-.4 1 1.1 .3 1.3-.6 3-.7 1.1-1 .5-1-.7-.6-1.9 .1-2z"/><path fill="#da0000" d="M165.5 63.8l1.1-.3 1.8 2.3 .4 5-.8 6-1.2 5-1.2 2.9-1 .8-1-1.1-.6-2.6-.3-7 .9-7zM187.7 87.8l.9-.8 1 0 1 1.3 .3 1.5-.3 4.3-1 2.8-1 1.2-1.3-.3-.9-3 .1-4z"/></g>
<rect x="0" y="0" width="339.2" height="337.2" fill="none" stroke="#000" stroke-width="1.5"/>
<rect x="384.0" y="0.00" width="17.6" height="67.74" fill="#f10800"/>
<rect x="384.0" y="67.44" width="17.6" height="67.74" fill="#ffc400"/>
<rect x="384.0" y="134.88" width="17.6" height="67.74" fill="#7dff7a"/>
<rect x="384.0" y="202.32" width="17.6" height="67.74" fill="#00b0ff"/>
<rect x="384.0" y="269.76" width="17.6" height="67.74" fill="#0000f1"/>
<rect x="384.0" y="0" width="17.6" height="337.2" fill="none" stroke="#000" stroke-width="1.5"/>
<path d="M0.00 337.2v5.8M67.84 337.2v5.8M135.68 337.2v5.8M203.52 337.2v5.8M271.36 337.2v5.8M339.20 337.2v5.8M401.6 0.00h5.8M401.6 67.44h5.8M401.6 134.88h5.8M401.6 202.32h5.8M401.6 269.76h5.8M401.6 337.20h5.8" stroke="#000" stroke-width="1.4" fill="none"/>
<text x="410.7" y="6.30" class="dv" font-size="16.1">14.0</text>
<text x="410.7" y="73.74" class="dv" font-size="16.1">9.8</text>
<text x="410.7" y="141.18" class="dv" font-size="16.1">5.7</text>
<text x="410.7" y="208.62" class="dv" font-size="16.1">1.5</text>
<text x="410.7" y="276.06" class="dv" font-size="16.1">-2.7</text>
<text x="410.7" y="343.50" class="dv" font-size="16.1">-6.8</text>
<text x="0.00" y="359.40" text-anchor="middle" class="dv" font-size="16.1">0.0</text>
<text x="67.84" y="359.40" text-anchor="middle" class="dv" font-size="16.1">0.2</text>
<text x="135.68" y="359.40" text-anchor="middle" class="dv" font-size="16.1">0.4</text>
<text x="203.52" y="359.40" text-anchor="middle" class="dv" font-size="16.1">0.6</text>
<text x="271.36" y="359.40" text-anchor="middle" class="dv" font-size="16.1">0.8</text>
<text x="339.20" y="359.40" text-anchor="middle" class="dv" font-size="16.1">1.0</text>
</g>
<text transform="translate(1612.1,455.8) scale(1,1.04)" text-anchor="start" class="ar" font-size="28.8" stroke="#000" stroke-width="0.3">(h) 100 mTorr</text>
<text transform="translate(1918.6,454.9) scale(1,1.04)" text-anchor="start" class="ar" font-size="28.8" stroke="#000" stroke-width="0.3">E<tspan dy="6.8" font-size="18.3">z</tspan><tspan dy="-6.8" font-size="18.3">&#8203;</tspan><tspan dy="-1.8">·</tspan><tspan dy="1.8">J</tspan><tspan dy="6.8" font-size="18.3">ze</tspan><tspan dy="-6.8" font-size="18.3">&#8203;</tspan> (kW/m<tspan dy="-8.6" font-size="18.3">3</tspan><tspan dy="8.6" font-size="18.3">&#8203;</tspan>)</text>
<text transform="translate(1781.4,875.8) scale(1,1.04)" text-anchor="middle" class="ar" font-size="28.3" stroke="#000" stroke-width="0.3">Phase (2π rad)</text>
<text transform="translate(20.6,642.0) rotate(-90)" text-anchor="middle" class="dv" font-size="26.0">z (cm)</text>
</svg>
</body></html>
